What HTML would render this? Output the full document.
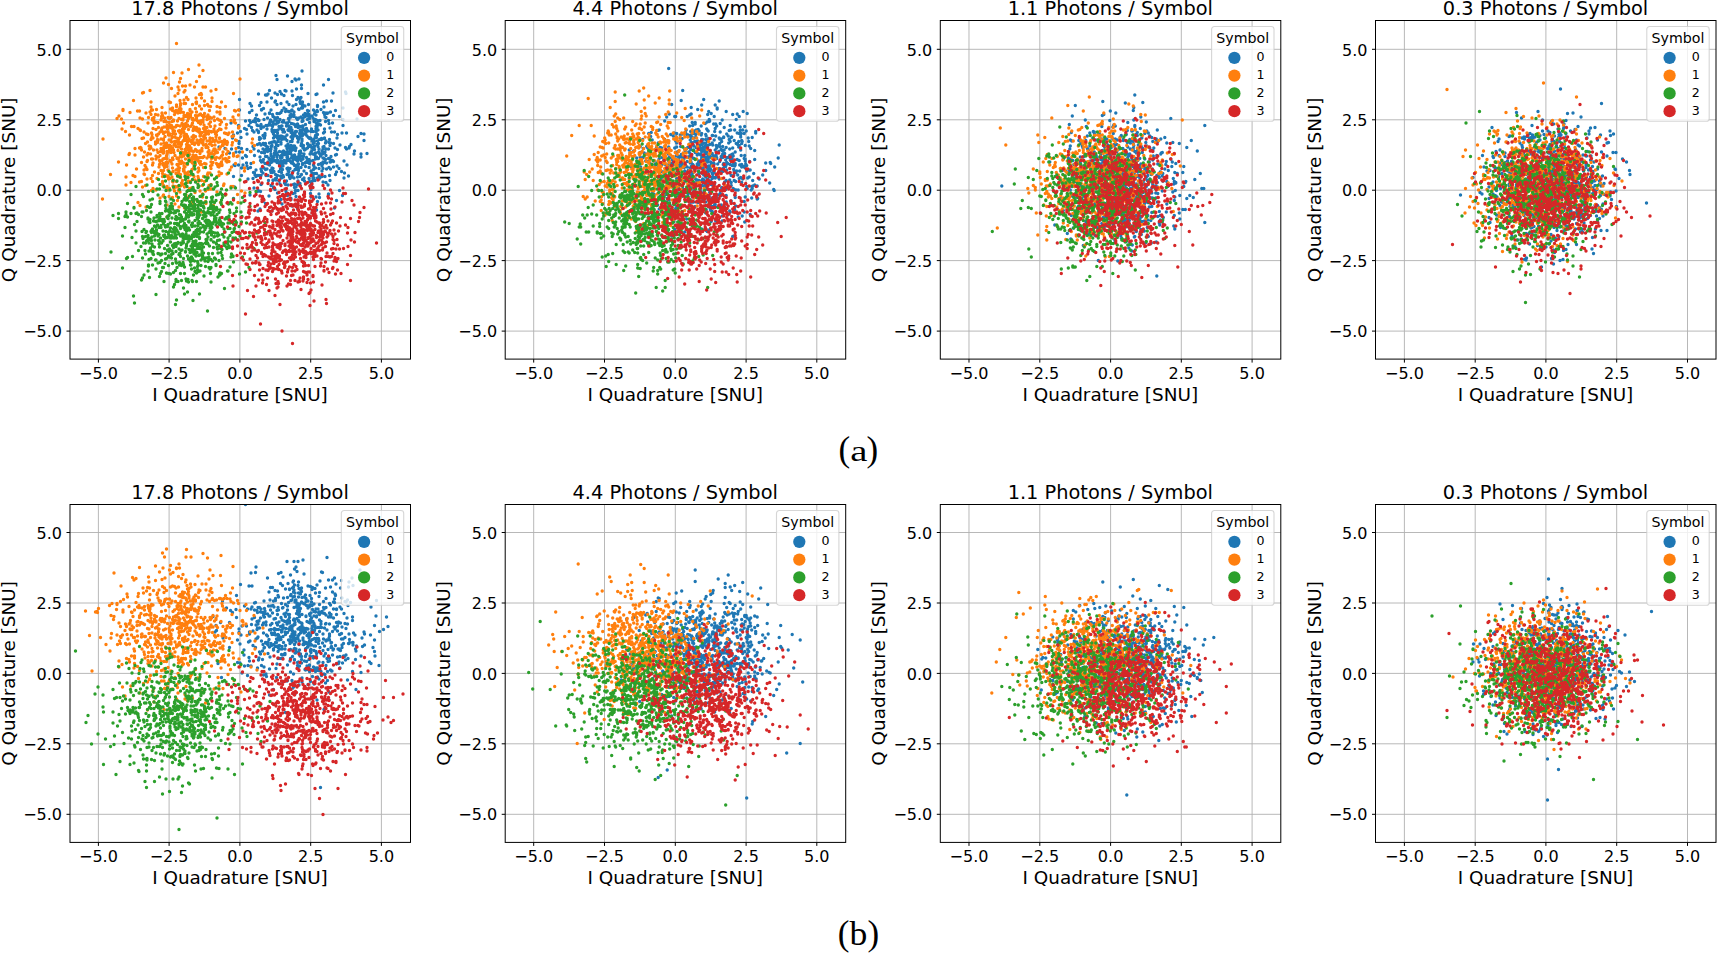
<!DOCTYPE html>
<html><head><meta charset="utf-8"><title>Constellations</title>
<style>html,body{margin:0;padding:0;background:#fff}svg{display:block}text{font-family:'DejaVu Sans','Liberation Sans',sans-serif;fill:#000}.d{fill:none;stroke-width:2.8;stroke-linecap:round;stroke-linejoin:round}.g{stroke:#b0b0b0;stroke-width:.9;fill:none}.t{stroke:#000;stroke-width:1;fill:none}.tl{font-size:16px}.ti{font-size:19.35px}.al{font-size:18.4px}.lt{font-size:14.2px}.le{font-size:12.6px}text.s{font-family:'Liberation Serif','DejaVu Serif',serif}</style></head>
<body>
<svg width="1717" height="953" viewBox="0 0 1717 953">
<rect width="1717" height="953" fill="#fff"/>
<defs><clipPath id="c"><rect x="0" y="0" width="340.5" height="338.6"/></clipPath></defs>
<g transform="translate(70.0 20.5)">
<path class="g" d="M28.4 0V338.6M0 310.6H340.5M99.1 0V338.6M0 240.1H340.5M169.9 0V338.6M0 169.7H340.5M240.7 0V338.6M0 99.3H340.5M311.4 0V338.6M0 28.8H340.5"/>
<g clip-path="url(#c)">
<path class="d" stroke="#1f77b4" transform="scale(.5)" style="stroke-width:6.8" d="M298 253zm12 3zm12-51zm1 52zm-4 8zm16-40zm-8 4zm-2 6zm7 28zm-4 26zm2 1zm-3 22zm2 21zm-2 23zm12-198zm0 21zm-2 31zm4 12zm1 12zm-4 8zm0 4zm-1 8zm6 2zm-4 7zm6 12zm-8 14zm9 0zm-3 6zm0 15zm16-126zm0 16zm-8 1zm7 9zm-9 6zm4 2zm0 0zm1 9zm0 31zm-3 12zm2 2zm0 13zm1 6zm2 5zm0 21zm4-151zm3 5zm1 9zm7 16zm-1 2zm-4 4zm5 1zm-10 1zm2 10zm2 6zm3 3zm-2 29zm2 5zm-7 5zm8 8zm-7 16zm-1 8zm6 10zm2 1zm1 4zm-4 7zm2 19zm-8 14zm17-202zm5 17zm-3 6zm4 8zm0 1zm-10 10zm3 9zm2 2zm-1 0zm5 8zm-8 1zm1 1zm5 1zm2 5zm-8 3zm3 3zm0 2zm2 10zm2 2zm-2 2zm0 8zm-4 2zm7 1zm-5 12zm6 3zm-3 9zm1 7zm2 3zm-1 14zm-10 2zm11 2zm0 1zm-1 8zm-7 0zm3 0zm-6 2zm11 15zm-1 1zm-6 11zm-1 3zm6 0zm-1 35zm-4 4zm15-232zm3 0zm0 14zm-7 13zm3 11zm5 8zm-7 3zm7 12zm-3 0zm-8 3zm3 0zm7 4zm-4 9zm0 1zm-4 3zm4 0zm-1 5zm-1 0zm3 11zm-4 0zm-1 0zm2 2zm4 3zm3 2zm-9 4zm9 0zm-3 1zm-2 1zm-1 1zm6 2zm-7 2zm1 1zm5 7zm-3 0zm-4 6zm-1 4zm4 4zm5 1zm-7 8zm6 2zm-3 1zm-5 7zm6 5zm-6 51zm5 5zm8-226zm-3 7zm7 8zm-1 24zm-3 6zm0 1zm6 2zm1 4zm-5 7zm0 1zm5 3zm-6 0zm-1 3zm5 3zm-4 0zm4 1zm1 2zm-1 6zm0 3zm1 2zm2 4zm0 8zm-1 8zm-3 1zm-4 1zm5 5zm-1 2zm-1 0zm0 5zm-4 1zm3 3zm1 6zm0 4zm3 2zm2 1zm-9 2zm2 2zm4 1zm-8 4zm8 0zm-2 1zm-3 2zm0 3zm5 6zm2 1zm-2 4zm-3 0zm4 3zm0 1zm-3 0zm-6 6zm10 9zm0 1zm-9 0zm5 10zm5 3zm0 2zm-9 16zm6 30zm8-271zm2 8zm-4 27zm5 3zm-4 13zm-1 2zm4 5zm0 18zm5 0zm-10 8zm6 0zm-3 4zm-2 1zm4 2zm3 2zm1 0zm-3 2zm-3 2zm-3 0zm9 5zm-2 7zm-7 1zm3 0zm-3 2zm5 1zm1 2zm-6 5zm3 1zm5 0zm-2 0zm-4 1zm4 3zm4 2zm-3 4zm0 1zm-7 0zm3 3zm1 4zm3 1zm-6 4zm2 2zm-1 4zm-1 0zm9 2zm-7 0zm-1 1zm-2 2zm5 1zm-4 2zm5 1zm-6 0zm5 4zm0 6zm2 1zm-7 0zm1 1zm4 3zm4 1zm1 3zm-11 14zm10 0zm-7 6zm4 2zm-2 5zm-2 1zm1 0zm0 3zm6 2zm-8 17zm5 7zm15-205zm-10 2zm3 5zm5 3zm-6 16zm6 9zm-4 5zm7 2zm-9 2zm-2 14zm7 2zm0 3zm-2 0zm-1 8zm-1 0zm-3 4zm4 3zm3 0zm0 3zm1 1zm-2 1zm3 0zm-7 8zm2 1zm1 0zm5 1zm-10 0zm4 1zm4 1zm-8 0zm5 0zm-5 1zm1 0zm10 1zm-3 0zm-5 1zm-1 6zm0 3zm5 14zm-3 2zm1 1zm5 1zm-1 3zm1 0zm-4 1zm-2 0zm-3 2zm3 3zm-3 1zm7 5zm-5 1zm-3 2zm7 2zm-4 2zm-3 0zm6 4zm-4 1zm-1 5zm4 1zm-1 0zm-1 6zm3 6zm-5 1zm4 1zm-3 0zm5 1zm-4 2zm7 10zm-1 0zm-9 2zm11 1zm-6 21zm-3 9zm2 9zm11-256zm-3 30zm2 22zm4 5zm-6 10zm11 2zm-5 2zm-1 0zm5 5zm-2 3zm3 1zm-1 2zm-5 3zm1 1zm0 5zm0 0zm-3 3zm-3 0zm11 1zm-10 5zm5 0zm0 1zm4 2zm-4 3zm2 2zm-4 0zm1 1zm0 0zm5 1zm0 1zm0 2zm-8 5zm9 3zm-1 1zm-8 7zm7 2zm-5 5zm6 3zm-10 1zm4 0zm5 2zm-4 2zm6 0zm-9 1zm6 4zm-6 2zm7 1zm-8 0zm3 1zm2 1zm2 0zm-1 0zm-2 1zm5 1zm-10 1zm3 4zm-1 2zm9 1zm-6 2zm1 3zm-5 0zm8 2zm-9 3zm11 0zm-7 10zm0 1zm-2 0zm6 0zm0 0zm-4 1zm0 3zm2 2zm-2 4zm-2 2zm4 1zm2 0zm1 1zm-2 3zm1 3zm-7 5zm-1 1zm4 7zm-4 13zm3 8zm7 6zm0 2zm8-241zm2 2zm-8 3zm9 15zm-9 4zm1 9zm8 8zm-1 10zm-6 3zm-2 8zm4 4zm0 6zm-2 0zm2 3zm5 3zm2 3zm-8 9zm8 0zm-6 1zm5 1zm0 1zm-3 2zm-7 7zm9 3zm-2 0zm-7 1zm4 2zm2 1zm0 2zm-5 1zm3 2zm6 1zm-8 1zm-2 1zm11 1zm-10 2zm-1 5zm3 9zm2 0zm-4 2zm7 2zm-2 1zm-5 3zm6 1zm-2 9zm0 2zm-3 0zm-2 1zm11 1zm-7 0zm3 1zm2 3zm-6 1zm6 1zm2 2zm-10 2zm2 4zm7 2zm-5 1zm5 0zm-3 0zm3 0zm-1 3zm2 3zm-5 2zm2 0zm-6 4zm-2 8zm0 3zm11 0zm-7 2zm1 12zm-2 1zm8 0zm-3 5zm-3 1zm2 6zm-1 5zm-4 1zm6 6zm-8 19zm11 5zm9-275zm-6 16zm5 12zm0 7zm-7 18zm6 0zm-2 4zm0 5zm5 0zm-4 3zm5 3zm-1 2zm0 4zm-2 0zm-6 2zm1 1zm9 11zm-5 4zm-4 2zm7 1zm1 5zm-2 1zm2 9zm-9 0zm8 0zm-5 1zm5 0zm-9 2zm10 2zm1 2zm-6 1zm-1 1zm4 2zm-2 3zm-3 1zm2 0zm5 2zm-6 0zm5 2zm0 0zm-5 3zm4 4zm-7 1zm7 1zm0 2zm-8 2zm7 3zm0 2zm3 2zm1 0zm-5 0zm4 4zm0 1zm1 0zm-6 6zm-2 1zm3 3zm-3 1zm-1 1zm9 4zm-6 0zm-4 2zm9 1zm-8 3zm6 0zm2 0zm-5 1zm1 2zm3 6zm-8 1zm8 1zm-9 0zm0 3zm6 3zm-5 3zm0 3zm-1 6zm7 2zm-3 4zm5 6zm-9 3zm4 5zm1 5zm-5 9zm0 20zm20-214zm1 22zm-7 3zm5 9zm2 1zm-2 5zm-5 0zm8 2zm-4 3zm3 0zm-8 0zm0 2zm10 3zm-4 2zm4 6zm-8 4zm2 8zm1 4zm2 1zm-2 0zm-3 0zm1 2zm-4 4zm4 1zm2 3zm3 3zm2 2zm-4 10zm0 1zm1 0zm1 5zm-2 3zm-5 2zm2 0zm-3 2zm-1 8zm5 7zm5 4zm-2 0zm-2 2zm-3 4zm5 0zm-6 1zm9 1zm-8 6zm7 2zm-10 7zm5 5zm-5 9zm10 1zm-9 5zm10 1zm-7 4zm15-147zm3 4zm-1 4zm-5 4zm-4 1zm6 3zm5 3zm-3 1zm0 3zm1 0zm-6 15zm1 4zm-2 1zm4 0zm5 8zm-1 4zm-9 1zm1 1zm6 2zm-1 1zm-3 2zm5 1zm-1 2zm0 1zm-2 2zm-6 3zm1 2zm8 0zm-5 2zm3 0zm2 4zm-5 2zm-2 3zm9 2zm-5 2zm-6 0zm10 2zm1 5zm0 3zm-5 3zm-5 1zm6 8zm1 3zm3 3zm-4 3zm-5 3zm2 4zm5 1zm-3 4zm2 5zm-2 0zm4 5zm-5 1zm-2 4zm0 1zm-3 5zm3 0zm-1 7zm-1 8zm1 7zm12-206zm-2 1zm3 22zm0 2zm7 6zm-8 2zm1 2zm-3 7zm3 11zm5 0zm-5 6zm-2 0zm5 1zm-2 1zm5 1zm-6 1zm-3 2zm2 2zm-2 2zm4 3zm-4 0zm0 4zm3 5zm-2 6zm10 2zm0 2zm-4 0zm-4 3zm2 5zm-3 2zm1 1zm1 3zm2 5zm-1 6zm-5 2zm7 1zm2 1zm0 4zm-8 2zm4 3zm-2 0zm7 10zm1 2zm-6 0zm1 8zm-5 10zm5 5zm2 3zm-5 1zm3 2zm0 30zm-6 6zm7 1zm-4 8zm-2 17zm14-250zm6 32zm-6 2zm1 10zm-1 11zm5 1zm2 1zm-5 2zm1 5zm2 1zm-1 8zm-2 15zm0 6zm-2 2zm2 10zm-1 1zm-4 1zm8 4zm0 1zm-1 3zm-3 7zm-2 1zm0 4zm6 0zm-6 0zm-2 4zm6 2zm-1 2zm-4 2zm7 3zm-6 5zm2 1zm3 2zm-5 5zm3 1zm4 1zm-8 2zm-1 4zm2 5zm7 1zm-9 4zm6 11zm-6 0zm2 11zm6 1zm0 0zm5-206zm9 27zm-3 16zm-2 22zm-5 2zm11 5zm-10 10zm8 5zm-7 1zm2 9zm3 8zm-4 15zm-1 6zm3 1zm6 1zm-7 4zm-3 7zm5 15zm-5 4zm3 1zm5 3zm2 2zm-6 1zm-1 0zm7 10zm-9 1zm3 3zm-2 13zm1 10zm-4 9zm1 18zm0 1zm14-168zm8 12zm-10 31zm6 5zm-1 7zm-4 20zm5 3zm-2 10zm-2 1zm3 22zm4 5zm-5 7zm-2 5zm8 32zm-6 20zm-4 15zm22-232zm-5 32zm0 23zm0 12zm-2 15zm-4 24zm11 5zm-3 27zm-5 21zm6 3zm-1 10zm-3 35zm7-204zm1 79zm9 23zm-3 4zm-1 3zm-5 2zm1 32zm3 22zm17-114zm-5 64zm-1 6zm14-41zm-6 6zm6 35zm0 6zm6-46zm0 13zm6 26z"/>
<path class="d" stroke="#ff7f0e" transform="scale(.5)" style="stroke-width:6.8" d="M66 237zm-1 120zm16-49zm13-112zm12-18zm0 2zm-8 11zm5 6zm4 8zm-3 12zm-7 66zm14-61zm8 7zm0 37zm-1 2zm-5 21zm-1 24zm0 16zm15-169zm-7 24zm3 28zm5 0zm2 44zm0 13zm-4 41zm4 2zm-8 12zm13-143zm4 0zm1 14zm-4 21zm4 3zm1 1zm0 34zm1 1zm-3 0zm4 4zm0 25zm-10 13zm10 25zm-4 1zm-3 41zm4 6zm7-226zm-2 1zm7 40zm-7 12zm3 26zm5 4zm-6 8zm-3 1zm11 7zm-4 3zm-2 17zm5 6zm-7 4zm8 7zm-1 2zm-4 8zm2 4zm2 4zm-6 1zm0 8zm1 1zm5 9zm-3 13zm-6 3zm7 40zm8-233zm2 23zm0 10zm3 6zm-2 0zm-3 4zm2 5zm-5 6zm8 2zm2 1zm0 2zm-2 0zm-9 6zm10 11zm-3 9zm-7 3zm8 0zm0 5zm2 2zm-3 1zm-1 2zm-4 13zm3 1zm1 3zm-3 2zm8 2zm-11 7zm5 1zm2 10zm2 0zm1 8zm-1 4zm0 21zm-3 6zm3 6zm1 14zm-3 4zm10-162zm-2 10zm5 1zm-8 5zm3 9zm-1 1zm6 0zm-8 1zm9 9zm-5 4zm5 9zm0 0zm-4 2zm0 0zm1 2zm1 7zm1 2zm-5 3zm4 1zm-4 3zm3 12zm2 5zm-4 7zm5 2zm-5 4zm7 3zm0 8zm-1 5zm-9 10zm8 3zm-3 10zm-2 23zm15-214zm-3 49zm0 11zm7 0zm-7 1zm1 4zm-2 2zm6 3zm-6 1zm-1 3zm9 2zm-3 1zm0 11zm-4 2zm-1 3zm8 5zm-5 0zm-6 0zm7 3zm3 6zm-8 5zm5 0zm0 2zm1 6zm-6 2zm6 4zm-1 4zm-5 1zm5 1zm-1 3zm1 1zm-6 1zm5 2zm0 1zm1 0zm-7 5zm9 6zm-3 1zm-2 3zm-4 6zm6 0zm3 1zm-3 2zm3 3zm2 0zm-2 2zm-2 6zm-5 0zm3 6zm5 3zm-5 3zm0 10zm0 3zm2 5zm-1 1zm1 18zm-1 2zm-6 4zm12-240zm5 13zm6 8zm-4 27zm-1 0zm3 1zm0 13zm-5 17zm6 0zm-3 2zm-6 7zm5 1zm2 5zm-6 1zm6 0zm3 0zm-8 2zm-3 1zm9 0zm-1 0zm-3 1zm6 1zm-8 2zm1 6zm3 4zm1 0zm-3 1zm2 1zm-2 0zm5 10zm-4 0zm5 4zm-10 2zm3 5zm-1 0zm5 0zm-3 1zm-5 0zm10 1zm0 1zm-7 0zm-3 1zm8 1zm-1 1zm0 3zm-5 3zm4 1zm4 1zm-8 1zm0 3zm-1 3zm-1 5zm2 0zm6 4zm2 3zm-8 0zm-2 1zm3 1zm-1 2zm0 5zm2 7zm5 6zm-5 6zm-3 0zm4 3zm3 2zm-3 1zm-3 15zm-1 4zm6 0zm-3 3zm2 13zm-4 17zm0 24zm19-347zm-6 58zm3 47zm3 18zm0 3zm-8 3zm-1 3zm8 2zm-7 0zm4 2zm2 1zm2 0zm-4 5zm-2 11zm0 2zm8 0zm-11 1zm9 8zm2 0zm-10 3zm6 0zm-5 5zm3 3zm-3 0zm0 5zm5 1zm-7 5zm5 1zm-5 1zm0 0zm9 1zm-4 7zm3 0zm-2 1zm-1 4zm-1 2zm4 2zm0 1zm-7 3zm-1 3zm3 1zm1 5zm2 6zm4 5zm-9 0zm9 1zm-8 2zm-2 9zm10 1zm-9 7zm7 4zm-6 3zm6 4zm3 5zm-11 2zm3 6zm-2 3zm8 0zm-7 1zm0 8zm4 1zm5 0zm0 1zm-3 0zm-4 3zm1 5zm4 10zm-8 3zm10 6zm-5 7zm14-262zm-3 11zm-2 7zm6 8zm-9 2zm2 6zm-2 7zm4 14zm1 6zm0 3zm-1 5zm2 3zm-4 1zm-1 2zm5 2zm5 2zm-6 0zm-5 1zm2 11zm7 1zm-2 1zm3 1zm-2 7zm2 4zm-6 1zm7 3zm-2 3zm-6 3zm6 1zm-8 0zm4 1zm6 0zm-7 3zm2 1zm-1 6zm-3 4zm-1 1zm10 3zm-1 1zm-9 1zm6 2zm-7 2zm2 0zm5 1zm-1 3zm-6 3zm3 0zm4 4zm-7 3zm9 4zm-3 0zm0 5zm-1 1zm2 0zm2 0zm2 1zm-4 2zm-6 2zm0 1zm1 5zm5 0zm4 4zm-5 1zm-4 1zm-2 3zm3 5zm-3 1zm11 1zm-9 3zm9 1zm-10 3zm4 4zm-3 2zm-1 2zm4 2zm4 6zm-2 5zm3 2zm-2 2zm-3 2zm-4 9zm3 3zm-2 30zm19-275zm-6 33zm-1 9zm-2 3zm5 11zm3 4zm-8 1zm3 7zm-3 0zm7 20zm4 1zm-3 0zm-2 2zm-6 1zm3 1zm-1 1zm3 0zm3 1zm-8 0zm9 3zm-2 5zm-3 5zm-2 1zm5 2zm-1 2zm0 0zm1 0zm-3 1zm-3 4zm8 2zm-9 6zm5 4zm-5 2zm7 2zm-5 0zm0 1zm-1 2zm1 1zm8 1zm-6 1zm5 2zm-5 0zm7 0zm-4 3zm-2 5zm3 1zm3 2zm-5 1zm1 0zm2 2zm-4 0zm-3 4zm7 1zm-6 0zm0 3zm7 1zm-7 2zm3 1zm-6 1zm11 1zm-5 1zm1 1zm0 0zm2 3zm-6 4zm7 0zm0 3zm-5 6zm2 2zm-7 3zm2 2zm-2 6zm0 1zm9 3zm-5 2zm-2 1zm5 2zm0 1zm-1 1zm0 4zm-2 1zm5 6zm-2 3zm-2 8zm-4 1zm10 3zm-7 13zm-1 1zm6 4zm-8 21zm11-246zm9 4zm-4 35zm6 8zm-11 2zm0 2zm4 3zm-3 4zm10 3zm-10 1zm0 2zm5 3zm-1 2zm3 1zm-3 6zm-1 3zm0 0zm-3 4zm7 1zm-1 3zm4 3zm-5 1zm1 10zm4 2zm-4 1zm-3 0zm3 3zm-1 3zm-2 1zm-2 2zm7 3zm2 0zm-7 1zm5 2zm-7 7zm9 3zm-8 2zm0 0zm1 1zm3 1zm-1 7zm2 2zm-4 3zm3 1zm-6 2zm7 0zm3 1zm-8 2zm-2 2zm7 2zm-3 1zm3 2zm3 1zm-3 3zm-1 5zm-3 2zm-1 3zm-2 8zm7 3zm2 7zm-9 3zm2 13zm7 9zm-6 18zm3 6zm3 8zm-7 12zm15-299zm1 23zm-6 10zm9 24zm-3 2zm4 0zm0 7zm-11 0zm1 8zm-1 1zm1 2zm6 5zm4 6zm-10 6zm8 4zm0 0zm-3 2zm-4 2zm-1 4zm1 5zm7 1zm2 0zm-7 1zm1 2zm4 3zm-8 7zm5 3zm-5 0zm6 1zm-4 3zm2 1zm1 0zm0 1zm4 1zm-2 2zm1 4zm-1 1zm2 7zm-8 1zm7 0zm-1 1zm-4 3zm3 1zm-1 2zm-1 2zm-4 12zm8 1zm-2 0zm-5 1zm6 4zm-8 4zm0 2zm3 2zm5 0zm-4 3zm0 4zm5 1zm-2 3zm4 3zm-2 0zm-4 7zm1 5zm-2 3zm0 9zm1 4zm0 3zm6 1zm-6 1zm-1 0zm1 12zm3 8zm-6 19zm5 6zm4 17zm3-283zm0 33zm5 0zm-2 28zm6 7zm-6 2zm0 16zm-5 4zm4 1zm6 1zm-7 1zm1 0zm7 4zm-1 1zm-8 1zm0 4zm2 6zm3 5zm3 0zm-7 2zm3 1zm1 3zm-2 2zm-5 2zm7 0zm-7 1zm7 3zm-2 2zm-2 2zm4 3zm-4 3zm7 3zm-8 2zm-1 2zm1 2zm6 1zm-5 1zm6 1zm-1 4zm-8 2zm0 5zm4 11zm-4 2zm2 0zm8 1zm-5 11zm3 1zm-5 7zm8 14zm-8 4zm7 2zm-5 8zm-4 8zm6 11zm-6 6zm0 6zm6 9zm1 4zm10-225zm2 14zm0 7zm-7 9zm4 1zm-2 8zm-3 9zm3 4zm4 2zm-5 1zm3 7zm-3 4zm3 5zm-4 9zm5 1zm5 0zm-11 1zm7 0zm-6 4zm3 8zm5 1zm1 3zm-7 1zm4 3zm-3 3zm-1 1zm5 3zm-8 4zm2 6zm8 1zm-10 2zm7 2zm0 1zm-5 0zm-1 4zm2 2zm8 2zm-4 2zm-1 7zm4 1zm-2 5zm-3 2zm1 5zm-2 9zm-4 0zm0 8zm6 15zm-4 2zm0 3zm6 4zm-3 0zm-5 1zm11 32zm5-232zm2 34zm0 11zm-6 10zm7 4zm3 2zm-9 1zm1 11zm-2 6zm11 0zm-11 3zm8 0zm-3 3zm-2 4zm2 2zm-1 4zm7 2zm0 1zm-7 3zm-3 3zm7 1zm2 0zm-8 6zm0 8zm8 0zm-10 0zm11 0zm-8 3zm1 0zm3 4zm-4 1zm-3 3zm5 6zm6 1zm-8 3zm2 8zm1 1zm1 2zm2 0zm2 1zm-3 2zm2 1zm0 10zm0 7zm-4 2zm0 31zm9-180zm8 9zm-11 2zm0 9zm0 4zm9 9zm-8 4zm2 3zm-3 5zm2 10zm7 7zm0 14zm-6 3zm2 0zm-1 1zm7 2zm-1 0zm0 1zm-5 3zm1 1zm-5 3zm5 10zm-1 6zm-2 2zm8 5zm-5 1zm-3 6zm-3 4zm1 1zm3 0zm0 1zm0 1zm-1 16zm5 21zm-1 3zm4 19zm-10 15zm21-164zm-9 8zm-1 7zm6 10zm-6 1zm4 2zm-2 14zm1 2zm-2 1zm1 3zm-2 9zm4 5zm-3 5zm5 7zm-4 5zm-2 2zm6 1zm-3 0zm-1 1zm9 10zm-3 6zm-6 8zm8 25zm-10 16zm15-202zm2 34zm2 1zm-5 12zm3 6zm-1 4zm3 2zm-6 18zm2 8zm-3 1zm7 7zm2 1zm-8 4zm-1 5zm8 7zm-5 10zm0 1zm0 4zm7 1zm-3 14zm-5 46zm9 16zm5-231zm-3 62zm0 10zm1 23zm-1 3zm8 48zm-9 8zm7 70zm-7 23zm13-69zm0 6zm1 44zm15-108zm-1 8zm5 5zm-7 12zm5 22z"/>
<path class="d" stroke="#2ca02c" transform="scale(.5)" style="stroke-width:6.8" d="M82 463zm4-73zm11-4zm0 10zm8 35zm0 64zm10-129zm-3 17zm0 5zm-2 4zm5 1zm-5 21zm5 60zm-2 2zm9-128zm6 26zm0 1zm-6 11zm7 22zm-5 26zm1 38zm2 79zm2 14zm3-233zm2 53zm-2 1zm5 2zm6 4zm-9 10zm-2 19zm0 24zm10 7zm-5 8zm6 59zm11-190zm-9 19zm2 4zm8 20zm-2 8zm-9 3zm2 0zm2 35zm5 4zm-9 0zm8 2zm-1 8zm-6 0zm1 4zm9 3zm-2 2zm-2 4zm-4 0zm3 15zm1 7zm-6 8zm3 34zm-3 6zm21-173zm-9 0zm8 15zm-5 2zm3 9zm-2 5zm-2 1zm3 9zm-6 12zm0 2zm4 1zm7 3zm-9 2zm2 1zm5 13zm-2 3zm2 2zm-3 0zm1 2zm-7 6zm8 3zm-7 2zm5 0zm-5 4zm6 1zm-5 5zm6 2zm1 4zm-4 4zm0 4zm-3 2zm8 1zm-2 1zm2 4zm1 1zm-5 8zm-4 2zm-1 11zm8 0zm-8 2zm-1 10zm3 13zm18-196zm2 19zm-5 0zm2 12zm3 37zm-5 4zm0 3zm-6 2zm11 2zm-1 3zm-3 1zm-2 1zm-2 0zm4 7zm-6 2zm2 2zm7 1zm-5 5zm-4 3zm2 2zm2 0zm-4 1zm5 1zm-1 0zm1 1zm2 0zm2 1zm-2 0zm-1 0zm-6 3zm7 0zm-6 8zm7 1zm2 2zm-1 5zm-9 6zm10 0zm-3 13zm3 1zm-7 12zm-1 0zm5 6zm-4 12zm7 15zm-7 36zm17-236zm2 9zm-11 7zm8 5zm2 21zm1 7zm-11 1zm0 4zm11 4zm0 11zm-7 5zm-4 6zm4 6zm4 0zm-8 2zm3 0zm6 2zm-3 1zm1 3zm-5 4zm8 0zm1 3zm-9 1zm4 7zm3 8zm-2 1zm3 2zm-2 0zm3 1zm0 2zm-10 0zm5 5zm0 1zm-3 4zm6 11zm2 10zm-7 1zm-3 2zm10 8zm-8 3zm-3 4zm10 2zm-5 8zm2 0zm-4 8zm-2 4zm7 16zm10-220zm4 5zm-2 32zm-8 1zm10 17zm-10 6zm11 3zm-3 6zm0 4zm-8 0zm7 2zm1 1zm-5 1zm2 1zm3 1zm-2 1zm4 1zm-2 1zm-2 5zm-2 1zm-2 2zm2 3zm5 9zm-5 3zm-1 4zm6 3zm-1 5zm-8 2zm7 0zm-2 2zm0 4zm6 2zm-4 1zm-4 3zm6 1zm2 0zm-2 8zm-6 7zm4 7zm1 2zm-5 0zm0 1zm3 2zm5 6zm-6 3zm0 2zm4 1zm2 1zm-10 1zm4 14zm-4 15zm5 1zm3 1zm14-196zm-9 9zm8 1zm-7 12zm6 13zm-6 14zm-2 12zm-1 4zm1 1zm10 3zm-5 1zm1 3zm-3 1zm4 7zm2 2zm-10 1zm8 2zm-1 0zm2 1zm2 8zm-3 0zm-3 0zm6 2zm0 1zm-6 5zm3 2zm-5 1zm3 3zm4 0zm-7 2zm-2 1zm5 3zm0 2zm2 1zm-1 3zm-1 1zm-5 0zm5 1zm-2 1zm5 0zm2 11zm-4 0zm-3 1zm5 1zm-2 1zm-6 1zm7 2zm-5 1zm0 1zm-3 7zm8 1zm-6 4zm0 0zm5 11zm0 0zm1 6zm1 2zm-8 1zm9 8zm-3 6zm-4 4zm5 14zm0 4zm-3 6zm-2 5zm6 26zm-2 9zm10-303zm-1 48zm-2 17zm1 8zm-2 16zm7 8zm-1 6zm3 2zm-9 11zm2 7zm2 1zm2 4zm-2 2zm-4 1zm5 0zm4 2zm-1 2zm1 0zm-5 2zm-4 5zm9 4zm-6 1zm1 4zm-5 7zm9 4zm-7 0zm7 1zm-3 1zm1 0zm4 1zm-6 1zm5 3zm0 6zm1 4zm-11 0zm10 1zm-2 0zm-2 0zm0 3zm-4 9zm6 2zm-2 1zm-2 6zm-1 0zm-1 2zm3 4zm6 4zm-1 8zm-7 0zm5 4zm3 0zm-8 1zm2 0zm2 1zm-2 16zm2 14zm-7 2zm11 13zm9-265zm2 10zm-3 6zm-5 26zm6 2zm-5 4zm1 7zm-1 2zm3 5zm2 8zm-2 2zm-5 6zm2 0zm8 3zm-8 2zm4 3zm-2 0zm-4 0zm-1 2zm5 1zm-2 0zm8 3zm0 0zm-11 7zm11 0zm-8 1zm-1 4zm6 0zm-4 4zm7 1zm-2 3zm-8 1zm4 3zm0 3zm6 0zm-3 1zm1 3zm-5 1zm-1 3zm7 4zm-1 1zm1 1zm-9 3zm3 4zm0 2zm-4 2zm6 1zm3 0zm-6 2zm-1 1zm9 1zm-6 0zm1 1zm-1 1zm-1 6zm-3 4zm9 0zm-4 0zm-3 3zm7 2zm0 0zm-5 0zm-3 0zm8 3zm0 2zm-2 2zm-3 5zm0 3zm-1 4zm6 3zm-7 4zm0 1zm4 8zm2 6zm-8 16zm0 13zm3 11zm4 1zm-3 3zm4 2zm-2 20zm-6 4zm21-263zm-1 7zm1 6zm-8 5zm1 4zm3 2zm-1 10zm6 5zm-10 1zm5 10zm-2 4zm3 0zm0 2zm-6 0zm9 1zm-8 7zm5 5zm-3 3zm4 1zm0 1zm-3 1zm2 4zm-6 4zm9 1zm-10 2zm5 1zm4 1zm0 3zm-3 1zm4 1zm-9 0zm7 4zm-7 3zm2 1zm5 3zm-6 1zm3 0zm5 11zm-5 5zm-2 4zm7 2zm-4 0zm-2 1zm4 12zm3 2zm-4 3zm-2 0zm3 3zm-6 2zm1 2zm8 5zm-5 1zm1 3zm-2 2zm6 2zm-3 1zm-6 1zm3 4zm-4 4zm9 0zm-3 1zm2 2zm-6 1zm-3 1zm8 3zm-5 6zm-2 2zm0 1zm4 0zm-5 1zm0 2zm5 1zm-5 0zm9 1zm-8 1zm0 7zm1 0zm7 6zm-6 2zm7 5zm-3 7zm-3 11zm1 2zm1 38zm12-240zm-2 8zm2 3zm-2 3zm7 17zm-3 1zm-6 6zm8 4zm-5 0zm-2 0zm5 4zm2 0zm-6 4zm6 0zm-6 5zm2 3zm3 1zm-2 1zm-5 2zm3 2zm-2 2zm5 3zm-5 0zm2 2zm0 3zm-3 0zm1 3zm3 5zm-2 3zm5 1zm-5 4zm5 5zm-6 2zm2 1zm2 1zm-3 1zm-4 0zm2 1zm7 2zm-9 1zm2 1zm4 2zm-5 0zm3 0zm-3 3zm1 2zm5 2zm0 2zm-7 5zm10 5zm-10 0zm7 0zm-1 1zm3 0zm-4 1zm6 1zm-8 1zm-2 1zm4 2zm-2 0zm4 1zm-4 2zm4 0zm4 0zm0 1zm-9 7zm-1 1zm9 4zm-3 0zm-1 1zm-6 1zm10 8zm-7 3zm1 4zm6 4zm-6 0zm-1 2zm0 6zm5 3zm-3 0zm0 1zm-4 3zm0 17zm6 25zm12-253zm-1 19zm3 7zm-6 8zm3 10zm-4 10zm7 6zm-1 9zm-5 2zm0 7zm0 1zm1 2zm-1 7zm4 3zm-4 4zm3 1zm2 1zm-1 1zm-3 1zm-3 3zm8 3zm-3 2zm2 2zm1 2zm1 5zm-8 0zm3 2zm-2 1zm5 1zm-1 0zm-1 4zm-3 5zm0 0zm7 4zm0 11zm-2 0zm1 2zm-2 5zm4 0zm-3 1zm-7 1zm2 6zm-3 7zm0 1zm0 3zm3 1zm-3 2zm1 2zm1 4zm-1 1zm7 1zm3 0zm-8 1zm3 5zm1 11zm-3 19zm7 70zm9-308zm-1 36zm-7 6zm6 14zm0 1zm-6 5zm11 2zm-2 16zm-2 1zm1 3zm1 5zm-3 1zm-1 0zm1 5zm2 3zm1 1zm2 0zm-6 0zm1 4zm-5 0zm10 1zm-1 5zm-10 0zm3 2zm2 1zm-4 0zm9 3zm-4 1zm-5 11zm2 2zm0 2zm5 1zm-8 2zm9 0zm-3 2zm0 1zm-4 0zm6 4zm-4 1zm1 0zm0 0zm1 5zm-1 1zm-1 0zm0 2zm-2 1zm8 0zm-3 2zm0 3zm-7 4zm6 5zm0 1zm5 4zm-11 4zm3 4zm8 3zm-10 12zm8 0zm-7 7zm4 5zm-4 1zm7 2zm-9 1zm6 12zm-4 0zm2 3zm1 9zm1 17zm11-209zm-4 3zm5 7zm1 6zm-5 3zm7 15zm-4 1zm-1 11zm-3 4zm4 10zm0 1zm1 2zm-1 2zm-5 4zm10 1zm-4 4zm-5 4zm3 3zm-3 2zm10 2zm-7 1zm-3 0zm3 1zm-4 2zm6 1zm5 4zm-7 1zm3 16zm-5 0zm5 1zm3 3zm-3 2zm-6 1zm-1 1zm11 6zm-4 1zm-3 5zm1 2zm5 3zm-4 4zm1 2zm0 1zm1 8zm-7 10zm2 2zm7 3zm-6 8zm0 2zm7 17zm-3 6zm7-176zm-2 7zm3 4zm6 1zm-5 5zm-2 5zm-1 5zm1 4zm-3 11zm0 16zm10 2zm-9 5zm-1 1zm5 3zm2 1zm-4 3zm1 2zm4 5zm2 6zm-5 5zm3 5zm0 12zm0 3zm1 2zm-8 6zm3 2zm-2 6zm2 6zm1 6zm-5 29zm3 1zm-3 3zm9 27zm8-231zm5 30zm-9 4zm8 25zm-4 3zm2 12zm1 5zm-2 7zm-5 3zm5 2zm-2 1zm6 7zm-2 1zm-4 0zm0 11zm4 0zm0 14zm-4 5zm0 6zm6 2zm-9 1zm2 2zm3 5zm-5 2zm6 1zm-5 2zm9 11zm-1 6zm-2 20zm-4 8zm-1 0zm16-166zm-4 22zm-3 10zm0 0zm9 8zm0 7zm-5 4zm3 15zm-6 1zm8 2zm-2 3zm1 0zm-5 0zm3 2zm-1 7zm-1 1zm0 5zm-4 2zm2 11zm5 0zm-2 2zm-3 34zm0 1zm1 11zm13-164zm5 35zm-3 11zm0 18zm2 9zm-1 11zm-5 9zm2 19zm-4 8zm9 34zm-6 34zm9-145zm5 43zm0 0zm6 26zm-3 25zm2 38zm-7 9zm9-159zm0 28zm8 84zm4-114zm2 83zm-1 21zm17-42zm1 20z"/>
<path class="d" stroke="#d62728" transform="scale(.5)" style="stroke-width:6.8" d="M295 413zm16-66zm-5 25zm-2 22zm5 29zm2 20zm-8 9zm-2 40zm14-128zm-1 1zm5 34zm-4 14zm12-54zm4 32zm-3 7zm-4 5zm7 6zm2 15zm-7 15zm9 0zm0 12zm-10 2zm0 3zm9 14zm-9 40zm1 21zm17-137zm-1 0zm0 13zm3 14zm-8 3zm-1 2zm4 0zm6 10zm-3 0zm2 19zm-4 10zm2 10zm4 4zm5-157zm-3 1zm10 13zm-10 15zm1 9zm8 13zm0 7zm-1 4zm2 2zm-1 7zm-5 1zm-1 1zm7 29zm-8 0zm-2 1zm3 9zm4 1zm-2 13zm0 7zm-5 11zm3 21zm3 1zm0 52zm-4 47zm17-263zm1 27zm-9 15zm10 6zm-8 7zm7 1zm1 18zm-7 6zm-3 3zm8 2zm2 0zm-1 10zm-4 6zm3 2zm-2 3zm2 3zm1 0zm2 6zm-6 5zm-2 5zm-3 4zm5 1zm5 5zm-6 2zm-4 16zm11 8zm-6 0zm-5 13zm9 12zm-2 42zm14-237zm-6 5zm1 2zm1 0zm-2 13zm-3 13zm8 3zm-5 18zm6 11zm0 0zm-9 15zm4 1zm1 0zm1 4zm3 4zm-4 2zm4 8zm-3 6zm-1 1zm-5 1zm7 0zm-2 2zm5 8zm-2 1zm-4 0zm6 2zm1 0zm-1 2zm0 7zm-10 2zm1 2zm4 12zm-2 2zm8 2zm0 2zm-11 4zm3 5zm-3 7zm6 3zm2 3zm-1 0zm0 11zm-2 20zm-5 12zm9 76zm14-322zm-10 7zm7 16zm-8 17zm1 27zm0 1zm2 4zm-3 1zm4 1zm-4 3zm11 4zm-2 2zm-3 4zm0 22zm-1 2zm5 2zm-7 3zm7 2zm-2 7zm-4 0zm-3 3zm4 5zm0 7zm5 2zm-5 2zm2 7zm-7 3zm10 7zm-9 2zm6 1zm3 5zm0 0zm-5 1zm-1 13zm3 2zm1 1zm-6 1zm0 24zm6 3zm-8 10zm11 6zm-9 4zm-1 6zm8 3zm9-216zm3 14zm-9 0zm5 12zm0 2zm3 23zm-2 10zm-3 1zm8 2zm0 0zm-11 4zm8 1zm-4 1zm2 6zm2 13zm2 1zm0 7zm0 3zm-7 0zm0 0zm1 1zm5 2zm-5 6zm-3 1zm4 3zm0 4zm2 0zm1 1zm0 4zm1 2zm-7 3zm0 3zm-1 1zm9 2zm-1 6zm-7 2zm7 1zm1 4zm-2 2zm1 2zm-2 4zm1 5zm-7 2zm3 1zm-1 1zm2 1zm6 1zm-1 2zm1 0zm0 3zm-10 2zm5 3zm-6 3zm4 3zm2 2zm4 1zm-8 1zm-2 3zm9 2zm-7 38zm21-249zm0 28zm-5 8zm-5 8zm9 9zm-2 10zm1 6zm-1 4zm0 1zm-7 1zm0 2zm2 5zm3 3zm0 0zm0 1zm3 1zm-1 0zm1 6zm-1 1zm-3 2zm4 12zm0 1zm-4 3zm2 0zm-2 0zm5 1zm0 3zm-4 3zm-4 8zm7 4zm-1 1zm3 0zm-11 2zm4 2zm3 4zm3 17zm-9 0zm5 1zm3 3zm-3 1zm2 1zm-6 9zm4 5zm1 1zm-2 2zm-3 0zm9 0zm-8 2zm3 1zm5 2zm-6 0zm-3 1zm-1 4zm1 0zm9 0zm-10 0zm4 1zm-5 4zm10 2zm-3 4zm-6 5zm6 0zm3 1zm-7 19zm5 5zm1 4zm-5 0zm4 7zm0 0zm-2 2zm-4 15zm19-229zm-7 9zm8 7zm-6 3zm2 8zm-1 2zm6 0zm-4 1zm-7 1zm8 1zm1 4zm-1 0zm2 6zm-10 1zm6 10zm-5 3zm6 1zm-2 1zm-2 1zm-2 13zm7 0zm-4 1zm-1 7zm2 0zm-2 4zm8 2zm-3 2zm-7 2zm10 1zm-11 1zm3 1zm-1 1zm0 0zm0 2zm3 3zm1 1zm-5 10zm-1 2zm6 7zm-3 6zm-2 0zm9 1zm0 3zm-9 2zm-1 5zm11 2zm0 1zm-4 1zm-2 3zm-2 15zm6 4zm0 3zm-2 0zm2 2zm1 3zm-1 3zm-6 7zm1 4zm-4 63zm4 53zm18-292zm-9 7zm10 8zm-7 2zm-4 2zm8 0zm0 7zm-5 3zm6 1zm-5 7zm6 2zm-2 2zm-8 1zm1 2zm2 3zm-2 7zm10 2zm-6 2zm1 1zm2 2zm3 6zm-11 2zm4 1zm6 3zm-1 0zm1 2zm-7 0zm2 1zm-2 7zm0 0zm2 2zm3 1zm-1 1zm-6 1zm7 0zm-2 0zm-3 2zm4 2zm0 1zm3 2zm-5 2zm3 3zm-4 0zm5 1zm-7 5zm8 0zm-3 6zm-3 2zm6 2zm1 0zm-2 1zm2 3zm-5 2zm3 3zm-3 6zm-2 2zm-4 0zm7 0zm-6 6zm10 5zm-4 2zm3 0zm0 3zm-7 4zm-2 1zm6 10zm-3 5zm-1 5zm8 7zm-10 1zm8 9zm-4 7zm4 1zm-7 3zm11-226zm10 54zm-5 0zm1 8zm-3 2zm-2 0zm9 2zm-9 0zm6 1zm-5 7zm4 7zm-3 0zm-4 1zm7 1zm0 1zm4 7zm-6 1zm-2 2zm4 3zm1 1zm1 1zm-6 1zm2 2zm-4 0zm6 5zm-3 1zm4 1zm-7 4zm9 0zm-10 1zm2 3zm8 2zm0 1zm0 0zm-9 3zm8 4zm-7 2zm8 1zm-10 4zm6 0zm-2 0zm1 1zm4 3zm-8 1zm1 7zm7 2zm-5 1zm-4 0zm2 0zm0 1zm-1 0zm4 2zm-1 3zm-2 0zm2 0zm-4 1zm1 1zm7 1zm-4 1zm-1 4zm3 0zm-5 1zm0 1zm6 3zm-5 2zm1 2zm1 11zm4 4zm-7 2zm9 4zm-10 3zm6 0zm-4 8zm4 11zm-5 126zm11-323zm4 8zm3 5zm4 13zm-8 4zm3 4zm4 0zm-9 4zm6 1zm-7 4zm0 3zm6 2zm4 2zm-3 1zm-7 1zm1 4zm-1 0zm2 3zm6 1zm0 2zm-6 3zm7 1zm-6 6zm7 0zm-8 0zm-2 1zm6 2zm1 6zm4 3zm-1 1zm-5 0zm-5 1zm5 1zm1 3zm5 5zm-5 1zm4 2zm-5 0zm-5 1zm4 1zm4 2zm-4 2zm5 0zm-1 4zm0 2zm1 0zm-2 2zm4 1zm-8 2zm1 1zm7 0zm-11 3zm11 3zm-10 0zm6 3zm-2 1zm4 1zm-2 0zm3 8zm-8 1zm9 1zm-7 2zm1 0zm6 2zm-8 3zm2 9zm3 6zm3 1zm0 2zm0 6zm0 11zm0 11zm-7 2zm7 2zm-9 4zm8 0zm-7 1zm-3 1zm6 15zm13-214zm-4 3zm-2 16zm0 4zm0 5zm2 8zm8 1zm0 4zm-10 3zm0 3zm8 6zm-7 7zm2 2zm-2 1zm7 3zm-2 1zm2 1zm0 0zm0 4zm-2 2zm0 1zm-5 3zm1 2zm2 0zm-2 2zm-2 3zm10 0zm-9 0zm6 1zm-3 2zm6 1zm-1 4zm-3 1zm-3 1zm3 1zm-7 2zm2 4zm0 2zm0 5zm7 1zm0 1zm-9 1zm1 0zm7 0zm-4 4zm-1 1zm4 3zm2 4zm-5 1zm1 0zm-1 1zm3 1zm1 0zm-6 2zm0 9zm1 0zm-3 2zm7 1zm1 1zm-4 3zm-2 2zm1 1zm-3 1zm4 1zm-3 11zm8 5zm-6 0zm8 13zm-3 0zm-7 0zm3 1zm2 5zm2 9zm-2 6zm4 22zm10-261zm-6 25zm2 17zm-4 4zm6 3zm-5 1zm1 16zm3 1zm2 5zm-3 4zm-2 1zm1 0zm-2 8zm6 4zm-7 2zm9 3zm-4 1zm5 0zm0 1zm-4 1zm-2 3zm6 2zm0 0zm-3 3zm-6 2zm8 3zm-8 0zm10 6zm-10 5zm4 4zm2 1zm2 0zm-7 6zm8 1zm-9 2zm5 1zm1 4zm-3 1zm-4 1zm1 2zm4 0zm-4 2zm-1 4zm6 2zm-1 0zm-3 3zm6 1zm-4 1zm-3 2zm8 7zm-2 0zm-5 5zm6 4zm-7 3zm0 1zm4 0zm5 0zm-9 1zm1 1zm8 0zm-2 2zm2 4zm-4 1zm1 5zm3 14zm-4 18zm0 1zm0 1zm1 11zm-6 2zm1 14zm-2 5zm8 17zm-8 9zm16-251zm7 48zm-9 1zm-2 6zm10 9zm1 4zm-11 4zm0 3zm2 9zm5 2zm-1 0zm1 1zm2 3zm-1 4zm2 4zm-5 4zm6 1zm-3 1zm-4 1zm4 1zm1 4zm-9 1zm1 1zm6 2zm-6 1zm6 5zm4 0zm-5 2zm-2 3zm-4 2zm11 2zm-5 3zm-2 3zm-2 3zm-1 3zm6 0zm-5 11zm8 5zm1 1zm-1 8zm-1 6zm3-183zm2 22zm3 6zm3 29zm-5 11zm3 9zm3 7zm-6 6zm0 5zm-1 1zm6 6zm-8 0zm4 4zm6 1zm-4 6zm1 1zm-7 1zm4 0zm-3 1zm-1 1zm11 1zm-8 2zm-2 5zm9 0zm-8 2zm-1 8zm8 0zm-4 2zm-5 2zm7 5zm-5 3zm-1 4zm0 0zm9 6zm-2 7zm-1 11zm-3 9zm7 5zm-7 3zm0 1zm-4 28zm8 29zm1 8zm8-227zm3 6zm-8 7zm1 3zm6 2zm-2 8zm1 12zm4 9zm-5 2zm4 13zm-9 0zm7 4zm-2 4zm-1 11zm-2 5zm5 2zm-7 3zm10 2zm0 6zm0 18zm-3 1zm3 9zm-3 6zm-6 0zm3 1zm6 21zm-1 2zm-7 8zm12-131zm3 32zm-5 14zm9 2zm-7 6zm4 11zm-6 2zm0 6zm7 3zm4 8zm-7 0zm-2 17zm6 2zm-6 1zm-2 4zm5 1zm2 17zm-4 8zm15-172zm1 11zm4 0zm-7 17zm-3 31zm10 15zm-11 2zm7 45zm-5 50zm19-110zm-5 18zm-1 11zm7 14zm-6 13zm5 18zm-6 18zm6 32zm3-160zm4 9zm2 55zm-1 19zm11-59zm-1 10zm-2 8zm20-65zm-9 37zm25 71z"/>
</g>
<rect class="t" x="0" y="0" width="340.5" height="338.6"/>
<path class="t" d="M28.4 338.6v3.5M0 310.6h-3.5M99.1 338.6v3.5M0 240.1h-3.5M169.9 338.6v3.5M0 169.7h-3.5M240.7 338.6v3.5M0 99.3h-3.5M311.4 338.6v3.5M0 28.8h-3.5"/>
<text class="tl" x="28.4" y="358.3" text-anchor="middle">−5.0</text><text class="tl" x="-8.0" y="316.8" text-anchor="end">−5.0</text>
<text class="tl" x="99.1" y="358.3" text-anchor="middle">−2.5</text><text class="tl" x="-8.0" y="246.3" text-anchor="end">−2.5</text>
<text class="tl" x="169.9" y="358.3" text-anchor="middle">0.0</text><text class="tl" x="-8.0" y="175.9" text-anchor="end">0.0</text>
<text class="tl" x="240.7" y="358.3" text-anchor="middle">2.5</text><text class="tl" x="-8.0" y="105.5" text-anchor="end">2.5</text>
<text class="tl" x="311.4" y="358.3" text-anchor="middle">5.0</text><text class="tl" x="-8.0" y="35.0" text-anchor="end">5.0</text>
<text class="ti" x="170.0" y="-5.6" text-anchor="middle">17.8 Photons / Symbol</text>
<text class="al" x="170.0" y="380.1" text-anchor="middle">I Quadrature [SNU]</text>
<text class="al" transform="translate(-55 169.3) rotate(-90)" text-anchor="middle">Q Quadrature [SNU]</text>
<g transform="translate(271.3 6.0)"><rect x="0" y="0" width="62.4" height="94.7" rx="2.8" fill="#fff" fill-opacity=".8" stroke="#ccc" stroke-opacity=".8" stroke-width="1.1"/><text class="lt" x="31.2" y="16" text-anchor="middle">Symbol</text><circle cx="22.8" cy="31.3" r="6.15" fill="#1f77b4"/><text class="le" x="44.9" y="34.6">0</text><circle cx="22.8" cy="49.1" r="6.15" fill="#ff7f0e"/><text class="le" x="44.9" y="52.4">1</text><circle cx="22.8" cy="66.9" r="6.15" fill="#2ca02c"/><text class="le" x="44.9" y="70.2">2</text><circle cx="22.8" cy="84.7" r="6.15" fill="#d62728"/><text class="le" x="44.9" y="88.0">3</text></g>
</g>
<g transform="translate(505.2 20.5)">
<path class="g" d="M28.5 0V338.6M0 310.6H340.5M99.3 0V338.6M0 240.1H340.5M170.1 0V338.6M0 169.7H340.5M240.9 0V338.6M0 99.3H340.5M311.6 0V338.6M0 28.8H340.5"/>
<g clip-path="url(#c)">
<path class="d" stroke="#1f77b4" transform="scale(.5)" style="stroke-width:6.8" d="M248 259zm3 28zm6-26zm6 14zm-11 17zm8 0zm15-54zm-5 14zm0 12zm0 9zm1 20zm16-67zm-4 26zm2 3zm-9 1zm2 9zm6 2zm-5 0zm-3 7zm5 7zm6 0zm-4 17zm4 8zm-7 33zm0 29zm6 19zm6-163zm-1 8zm3 7zm4 42zm-8 5zm1 4zm1 22zm7 8zm-4 24zm3 4zm-5 6zm0 16zm2 18zm13-169zm-3 1zm1 25zm-3 9zm7 0zm-2 22zm-2 5zm1 2zm-3 2zm-4 3zm4 1zm2 2zm3 4zm-5 4zm5 10zm-3 10zm3 6zm1 26zm-5 18zm3 8zm15-184zm-4 8zm0 37zm2 4zm-8 13zm0 7zm1 12zm9 3zm-6 3zm-3 8zm7 1zm-9 13zm4 1zm4 4zm0 1zm-4 3zm-4 5zm0 0zm2 6zm0 10zm7 2zm-7 10zm2 0zm4 4zm-4 2zm7 13zm-2 0zm-6 1zm6 7zm-4 1zm5 8zm5-284zm6 72zm-5 19zm3 41zm-4 13zm-1 2zm1 10zm-1 14zm2 7zm5 1zm1 1zm-8 1zm0 1zm8 0zm-7 3zm8 3zm0 1zm-4 1zm-6 3zm5 3zm2 2zm-7 0zm5 10zm1 1zm1 2zm-7 4zm7 9zm-7 1zm9 1zm-10 7zm2 1zm9 3zm0 0zm-6 9zm6 4zm-11 2zm0 8zm4 3zm2 11zm-5 14zm9 7zm-3 2zm4 9zm-4 27zm3 2zm5-239zm2 0zm-3 33zm5 1zm-7 5zm6 2zm-1 8zm3 1zm-1 3zm0 8zm-4 2zm7 7zm-2 1zm-2 8zm4 1zm-10 4zm11 2zm-5 1zm4 7zm-2 2zm-8 1zm7 1zm2 4zm1 1zm-9 2zm-1 6zm2 2zm5 11zm1 5zm-4 7zm7 6zm-5 3zm5 8zm-3 1zm0 4zm3 0zm-4 11zm1 0zm-7 2zm9 8zm-3 2zm-2 3zm0 6zm-3 10zm-1 10zm2 16zm0 9zm16-287zm-3 20zm3 67zm-5 2zm4 7zm-3 0zm0 16zm8 5zm-7 11zm4 2zm-7 2zm5 1zm-2 0zm6 3zm-5 8zm0 1zm-2 1zm3 0zm-6 0zm7 3zm-7 3zm5 0zm5 2zm-6 1zm7 6zm-8 10zm1 2zm-2 1zm8 8zm-1 2zm-2 12zm2 5zm-4 11zm-4 1zm0 6zm3 12zm-1 45zm8 7zm10-234zm-5 3zm5 19zm-7 8zm9 3zm-10 3zm2 3zm3 1zm3 2zm-1 0zm-1 0zm3 8zm-1 8zm0 2zm1 4zm-1 1zm-4 0zm6 1zm-8 1zm8 2zm-11 1zm0 1zm0 1zm7 2zm2 2zm0 6zm1 0zm-6 2zm4 1zm3 7zm-7 1zm6 3zm-9 5zm1 2zm2 1zm6 2zm1 0zm-5 5zm-6 3zm11 0zm-7 2zm6 5zm-2 3zm-5 2zm4 1zm-1 4zm-6 1zm9 6zm1 6zm-7 3zm-1 8zm4 2zm-1 5zm5 7zm-5 2zm-2 1zm6 8zm-6 28zm5 25zm4-248zm0 13zm8 17zm-6 0zm6 3zm-5 3zm7 9zm-3 2zm-2 5zm4 2zm-9 1zm1 5zm8 0zm-4 1zm4 7zm1 0zm-3 0zm-6 2zm3 5zm1 2zm5 3zm-5 5zm-1 1zm4 4zm3 0zm-10 5zm2 6zm3 1zm-6 8zm3 4zm1 1zm0 2zm-4 1zm9 2zm-3 0zm-1 0zm3 2zm-2 3zm-2 5zm-2 5zm1 4zm-1 1zm6 2zm3 4zm-8 2zm0 2zm3 1zm2 3zm1 0zm0 0zm-9 3zm8 2zm0 4zm-2 3zm-2 3zm7 3zm-11 0zm3 0zm5 3zm-1 3zm-5 0zm5 2zm-2 9zm-5 0zm8 9zm-4 6zm-2 6zm4 26zm15-241zm-8 9zm7 33zm-6 7zm2 3zm-3 1zm0 0zm8 4zm-1 3zm3 9zm-2 0zm-8 3zm7 1zm1 3zm1 3zm-3 0zm-2 1zm-5 2zm5 2zm6 1zm-2 3zm-5 1zm5 4zm-6 5zm4 0zm1 1zm-1 1zm1 0zm-8 0zm9 6zm1 1zm-2 3zm-5 2zm4 1zm-4 0zm3 3zm-6 2zm2 2zm4 0zm-6 2zm11 0zm-3 2zm2 3zm-7 5zm0 0zm0 2zm6 2zm-6 2zm8 10zm-11 2zm3 1zm4 1zm1 0zm-3 3zm-1 0zm6 6zm-5 1zm2 4zm-1 4zm1 4zm-7 2zm11 0zm-1 6zm-7 3zm8 5zm-9 5zm9 8zm-2 3zm-3 4zm-5 7zm3 2zm5 29zm4-259zm10 24zm-2 6zm-1 15zm-4 3zm3 11zm2 3zm1 1zm-5 7zm1 3zm5 5zm-6 2zm3 3zm-7 4zm4 1zm4 4zm-5 1zm4 3zm-3 0zm2 3zm-2 0zm4 2zm-8 0zm6 4zm-4 0zm2 3zm4 1zm-7 5zm6 1zm-8 1zm5 1zm4 2zm1 1zm-1 1zm-4 0zm-3 1zm-2 2zm1 0zm8 1zm-8 1zm2 1zm0 3zm-2 0zm5 3zm5 0zm-11 5zm9 0zm0 1zm-7 2zm5 3zm3 0zm-8 1zm0 0zm4 3zm-5 3zm7 1zm-1 1zm4 1zm-6 1zm5 5zm-2 1zm-7 0zm10 2zm-10 1zm10 0zm-8 1zm7 3zm-5 3zm-2 1zm-1 1zm3 4zm0 2zm5 1zm0 0zm-8 1zm1 8zm0 0zm3 3zm2 4zm0 1zm-3 8zm1 15zm-1 7zm0 31zm1 4zm2 2zm8-236zm6 6zm-10 6zm1 3zm-1 1zm9 5zm2 15zm-5 8zm1 0zm3 9zm-4 6zm-5 3zm6 1zm-5 11zm4 6zm-5 5zm9 0zm-4 1zm-5 1zm7 0zm-8 0zm4 1zm1 1zm6 3zm-8 5zm2 2zm4 0zm-5 2zm6 0zm-5 3zm0 1zm-5 4zm3 3zm-1 1zm8 0zm-1 2zm-7 0zm8 3zm-4 2zm1 2zm-7 4zm5 2zm4 0zm-3 1zm0 1zm-5 5zm2 0zm-2 4zm10 0zm0 1zm-7 2zm4 3zm1 7zm-8 6zm-1 7zm6 4zm-3 4zm-3 3zm11 2zm-10 6zm9 0zm-10 2zm4 0zm4 0zm-6 4zm1 4zm3 2zm1 3zm-2 11zm-1 6zm-3 16zm19-257zm-8 8zm4 6zm0 2zm6 29zm-9 1zm2 4zm-3 5zm10 7zm-9 8zm7 4zm1 2zm0 9zm-7 4zm3 1zm4 1zm-6 3zm-3 4zm7 3zm-5 7zm1 5zm0 2zm7 3zm-1 3zm-4 5zm3 9zm2 4zm-2 6zm-3 7zm-5 1zm0 1zm8 2zm3 22zm-1 7zm1 1zm-5 2zm4 0zm-9 3zm3 4zm-1 2zm-3 10zm1 5zm0 28zm1 42zm20-261zm-8 17zm4 15zm5 13zm-6 6zm0 1zm-5 3zm1 5zm2 10zm7 2zm-10 4zm6 1zm-4 1zm2 0zm3 6zm-4 1zm1 1zm-3 3zm5 1zm-6 0zm6 0zm-6 1zm3 1zm6 5zm2 5zm-6 2zm-1 2zm2 3zm3 1zm-5 4zm7 3zm-8 3zm7 18zm-3 3zm1 7zm-7 4zm8 1zm-3 1zm-1 1zm4 1zm-8 11zm9 1zm-10 0zm9 1zm1 12zm-10 6zm7 4zm-4 1zm-1 17zm0 10zm21-213zm-5 22zm1 9zm-3 1zm-2 11zm7 2zm-1 1zm-4 4zm2 4zm-3 3zm8 10zm-6 2zm6 10zm-2 1zm-4 2zm4 2zm1 0zm-6 2zm-4 0zm10 3zm-1 1zm-3 1zm-5 7zm-1 1zm6 1zm4 2zm-5 15zm3 5zm-3 9zm3 5zm0 6zm-8 4zm8 27zm0 3zm-3 17zm1 2zm-5 6zm10 43zm9-245zm-2 11zm-3 21zm5 6zm-6 15zm9 2zm-5 4zm3 2zm2 5zm-7 10zm0 0zm-4 8zm8 7zm-4 8zm-4 2zm4 1zm-1 2zm-2 7zm6 3zm-5 1zm3 2zm4 5zm-8 1zm1 10zm3 2zm-5 14zm2 2zm4 1zm4 0zm-6 11zm0 4zm1 17zm-2 7zm7 15zm-8 38zm18-249zm-8 10zm11 20zm-9 1zm5 6zm-5 1zm8 6zm-10 0zm4 0zm-1 2zm0 5zm2 7zm1 2zm-1 4zm-5 4zm3 9zm8 11zm-7 0zm6 6zm-10 4zm5 8zm-4 1zm8 3zm-4 1zm6 1zm-10 7zm2 13zm-3 2zm7 1zm-2 7zm5 38zm0 21zm-4 8zm5 12zm5-217zm-2 35zm4 14zm1 7zm-7 8zm8 1zm3 5zm-11 21zm0 4zm9 1zm-8 5zm2 3zm5 9zm2 0zm-7 2zm5 12zm-3 2zm-2 17zm1 4zm-4 17zm10 35zm11-166zm0 3zm-7 9zm5 26zm0 18zm-2 28zm-2 14zm4 9zm-4 2zm-2 1zm1 4zm-2 3zm1 16zm22-46zm-7 8zm-4 14zm1 25zm-1 1zm17-72zm0 15zm9-16zm1 2zm8 7zm-10 32zm8 13zm1 2zm10-91zm-2 26z"/>
<path class="d" stroke="#ff7f0e" transform="scale(.5)" style="stroke-width:6.8" d="M123 271zm10-41zm15-20zm18-54zm-8 147zm5 5zm-3 10zm-4 34zm8 1zm-4 4zm12-147zm6 21zm0 37zm-10 10zm6 19zm-5 6zm7 17zm14-67zm-4 11zm-2 10zm1 4zm-3 1zm8 0zm-5 4zm0 7zm6 3zm-1 8zm-4 3zm2 24zm-3 11zm-5 22zm10 1zm9-127zm1 4zm-5 3zm4 2zm2 2zm-7 8zm2 1zm7 12zm-6 2zm-4 2zm7 3zm2 7zm0 19zm-10 5zm1 1zm5 16zm-6 1zm8 8zm-6 12zm2 1zm-3 8zm-1 7zm3 7zm-3 14zm6 6zm2 3zm10-215zm4 34zm-8 13zm1 3zm-2 1zm3 4zm4 0zm-5 16zm5 30zm-8 9zm11 6zm-10 9zm6 0zm1 1zm-2 5zm5 15zm-9 1zm2 2zm4 2zm-8 1zm0 7zm10 5zm-5 1zm0 4zm5 3zm1 4zm-2 5zm1 1zm-6 6zm3 2zm0 1zm-4 3zm-1 16zm8 16zm6-257zm0 19zm1 25zm-3 4zm7 4zm-5 7zm2 9zm-5 2zm6 3zm2 5zm-4 6zm3 6zm0 2zm3 2zm-2 4zm-5 9zm-2 5zm3 2zm4 0zm2 13zm-2 0zm-9 1zm9 5zm-3 2zm3 4zm-2 1zm0 5zm-2 8zm1 9zm-5 0zm8 4zm-5 14zm4 7zm-5 2zm-3 7zm3 13zm0 1zm-3 6zm3 13zm18-177zm-8 3zm10 19zm-1 14zm-6 2zm4 3zm1 2zm-8 11zm4 4zm2 1zm-5 1zm9 4zm-9 0zm2 6zm2 4zm-6 6zm3 0zm3 4zm4 8zm-3 3zm4 2zm-11 0zm8 1zm-8 1zm2 5zm1 4zm7 1zm-9 1zm-1 6zm0 1zm6 3zm1 0zm4 3zm-5 0zm3 8zm-3 9zm-4 14zm0 2zm8 10zm-4 0zm-3 11zm-1 8zm1 6zm8 4zm2-177zm4 14zm5 7zm-10 3zm4 0zm5 3zm-7 4zm6 1zm-8 0zm8 1zm2 1zm1 9zm-11 1zm9 8zm1 2zm-1 1zm1 0zm-8 4zm5 1zm0 0zm-5 1zm3 1zm-5 3zm3 0zm5 2zm-7 3zm-1 1zm5 2zm6 3zm-4 2zm-1 1zm-4 1zm2 3zm-2 0zm1 1zm2 1zm-3 4zm6 4zm-2 0zm3 2zm-1 9zm-4 7zm-4 2zm6 2zm-2 2zm6 1zm0 6zm-6 2zm5 1zm-1 12zm-7 7zm10 2zm-4 4zm-2 0zm3 2zm-7 6zm6 15zm-1 6zm-2 1zm18-228zm-7 35zm7 5zm-2 3zm-7 9zm2 8zm2 4zm0 2zm-4 1zm9 3zm-5 3zm0 3zm1 4zm-2 1zm5 6zm-2 6zm-2 3zm-5 1zm7 6zm-5 2zm2 1zm-2 6zm-2 2zm0 4zm8 3zm3 1zm-9 0zm5 0zm-7 0zm6 4zm-2 1zm0 1zm-3 2zm3 2zm-1 4zm6 5zm-1 1zm-5 3zm7 1zm-6 3zm3 10zm2 5zm-7 6zm9 12zm-2 4zm-7 3zm2 1zm2 0zm5 3zm-10 3zm6 5zm-3 3zm5 1zm1 1zm-10 24zm9 5zm2 20zm5-281zm4 41zm1 9zm-1 6zm-2 10zm-1 8zm-1 1zm5 2zm-6 8zm-3 1zm2 6zm3 3zm-4 1zm10 3zm-8 2zm-1 2zm2 6zm1 2zm-5 1zm3 2zm7 7zm-6 3zm1 0zm3 0zm-4 2zm1 2zm1 9zm3 0zm-4 2zm4 3zm1 0zm-10 1zm8 2zm2 0zm-9 3zm0 5zm6 3zm-2 1zm6 1zm-11 0zm3 0zm-1 0zm9 1zm-1 2zm-7 1zm4 0zm-1 4zm2 2zm-2 1zm4 0zm-2 1zm-4 2zm5 3zm1 0zm-6 5zm7 0zm-7 5zm5 6zm-6 1zm-1 3zm-2 7zm3 1zm1 0zm0 2zm-4 0zm4 1zm-1 1zm6 2zm-2 2zm2 3zm-1 3zm0 2zm-6 1zm8 7zm-8 7zm-2 10zm5 25zm0 9zm0 2zm8-286zm10 16zm-9 8zm1 16zm1 11zm2 5zm-2 14zm-2 8zm-1 12zm3 8zm7 1zm0 12zm-2 2zm1 3zm1 0zm-10 5zm10 6zm-2 5zm-5 2zm7 5zm-5 2zm0 6zm5 3zm-5 8zm3 1zm-7 1zm-2 3zm7 7zm-5 1zm8 9zm-8 2zm2 1zm5 1zm0 1zm-8 0zm4 3zm-3 4zm-2 0zm10 1zm-2 2zm-7 2zm1 0zm8 3zm-7 3zm7 2zm-3 0zm-7 2zm8 4zm-2 2zm1 2zm-7 8zm1 2zm9 6zm-10 1zm2 10zm3 9zm5 9zm-9 11zm8 4zm-4 4zm11-202zm3 2zm0 4zm-7 10zm0 7zm0 2zm1 1zm5 7zm5 0zm-6 7zm-4 2zm10 4zm-6 0zm6 6zm-10 0zm3 2zm-1 1zm5 0zm-6 0zm-1 3zm8 1zm-8 0zm1 6zm-1 1zm9 2zm-2 1zm-8 2zm2 7zm4 2zm-1 1zm5 1zm1 2zm-10 0zm9 6zm-2 2zm-6 0zm4 2zm3 1zm-4 4zm-5 0zm4 1zm7 6zm-8 3zm-1 1zm2 0zm2 0zm5 0zm-9 0zm2 2zm4 3zm-7 3zm10 1zm0 6zm-6 1zm0 2zm4 1zm2 10zm-10 0zm10 1zm-7 3zm5 2zm2 1zm-11 1zm7 1zm-3 8zm1 2zm2 6zm-2 6zm-3 2zm8 3zm-7 8zm17-240zm-8 10zm8 28zm-3 10zm-2 1zm8 4zm-8 12zm-2 5zm2 3zm1 0zm2 5zm4 10zm1 1zm-2 0zm2 1zm-8 6zm2 6zm4 1zm1 3zm-2 1zm-8 4zm9 2zm-7 3zm6 0zm-2 10zm3 5zm-3 0zm1 0zm0 3zm0 4zm-7 1zm2 2zm3 0zm4 0zm2 3zm-9 0zm3 1zm4 2zm-3 1zm-6 3zm9 1zm-1 2zm3 0zm-10 2zm9 1zm-8 0zm4 7zm-2 1zm-2 2zm-2 2zm3 5zm5 10zm1 1zm2 2zm-7 5zm6 7zm-2 1zm2 1zm-1 1zm1 1zm-9 0zm5 1zm-3 7zm8 8zm0 1zm10-187zm1 39zm-8 5zm3 4zm2 3zm-1 3zm3 1zm-4 0zm4 6zm0 0zm-2 2zm1 2zm-1 0zm-5 6zm0 3zm7 2zm2 0zm-10 1zm6 3zm-3 2zm5 2zm-1 1zm0 1zm-2 2zm2 2zm-7 6zm7 1zm-2 1zm-6 6zm7 4zm2 4zm1 2zm-5 2zm1 0zm5 7zm-3 2zm1 1zm-2 1zm2 4zm-9 2zm2 7zm9 2zm-4 4zm0 3zm0 4zm-7 1zm5 6zm4 24zm-5 5zm6 9zm-5 2zm-5 1zm2 4zm1 11zm7 9zm7-272zm-1 18zm0 8zm-2 16zm4 21zm-4 0zm-2 7zm2 4zm-1 16zm0 9zm2 1zm0 4zm1 11zm-2 3zm6 1zm-6 3zm2 3zm3 3zm4 5zm-7 6zm0 2zm0 2zm-4 6zm7 2zm3 0zm-2 2zm-1 1zm-2 1zm4 0zm-7 1zm0 2zm8 0zm-6 0zm7 2zm-2 8zm-2 1zm-5 1zm4 9zm3 3zm-9 2zm8 5zm-1 1zm-5 1zm6 1zm-5 2zm-3 3zm9 5zm1 16zm-7 7zm-2 10zm3 4zm1 12zm4 3zm0 10zm-2 5zm12-225zm-7 40zm6 8zm1 3zm1 0zm-7 1zm3 1zm5 3zm2 21zm-7 2zm4 4zm-8 4zm2 5zm3 1zm5 1zm-5 2zm4 4zm-4 3zm3 3zm-3 3zm1 2zm3 0zm1 1zm-9 7zm0 2zm9 3zm-6 2zm4 9zm-4 6zm0 1zm7 4zm-5 3zm-4 0zm-2 11zm6 2zm4 17zm-7 20zm-3 15zm9 12zm8-217zm5 6zm1 24zm-6 1zm5 2zm1 6zm-9 0zm1 7zm0 0zm4 12zm4 6zm-11 2zm8 5zm0 4zm-2 10zm3 2zm2 9zm-3 3zm-5 4zm0 1zm-2 7zm9 9zm-5 4zm1 5zm-5 7zm3 8zm0 2zm2 8zm-4 7zm-2 5zm6 9zm-4 4zm9 7zm-11 2zm4 4zm-1 13zm9-223zm1 41zm4 16zm2 15zm4 0zm-9 9zm0 8zm1 9zm7 3zm0 5zm1 18zm-2 0zm-5 5zm-3 7zm6 2zm-1 0zm-5 2zm9 0zm-8 3zm3 8zm0 9zm4 23zm-1 12zm-4 19zm9-195zm1 24zm9 3zm-9 3zm9 10zm-7 1zm7 26zm0 15zm-5 15zm0 11zm0 10zm-4 7zm-2 7zm2 1zm-1 1zm10 24zm-5 2zm15-176zm-4 12zm-2 36zm2 16zm-4 9zm1 5zm7 27zm2 2zm-1 0zm0 4zm-1 0zm-4 34zm-5 1zm5 19zm6 6zm-7 2zm-4 19zm8 4zm5-170zm10 37zm-3 16zm-8 20zm3 7zm-1 15zm0 36zm4 11zm8-83zm-2 3zm6 9zm0 15zm5 43zm1-57zm3 19zm5 11zm5 9zm7 14z"/>
<path class="d" stroke="#2ca02c" transform="scale(.5)" style="stroke-width:6.8" d="M119 403zm9 3zm18-74zm9 57zm-5 18zm-2 6zm3 0zm-7 24zm7 10zm7-147zm9 12zm-1 62zm-2 15zm-5 6zm8 28zm-5 0zm11-83zm3 29zm-3 18zm3 24zm14-91zm-7 11zm4 9zm1 13zm-5 36zm6 17zm0 6zm-5 11zm0 2zm6 1zm5-119zm0 0zm-2 33zm4 8zm-3 20zm5 8zm3 3zm1 6zm-7 0zm1 6zm-3 6zm-2 29zm5 5zm-5 4zm9 36zm-7 2zm8 19zm13-225zm-3 24zm-6 24zm3 5zm-1 9zm3 3zm-7 15zm7 0zm-4 6zm8 23zm-7 0zm2 4zm-2 5zm-2 2zm3 1zm4 7zm-6 5zm-3 13zm3 3zm6 9zm1 7zm1 34zm-9 2zm1 14zm14-185zm0 8zm5 5zm-3 2zm-4 3zm-2 13zm1 5zm2 9zm-3 9zm-1 13zm7 2zm1 0zm-6 0zm0 4zm6 1zm0 2zm2 4zm-5 2zm0 7zm-4 3zm3 1zm-3 2zm4 11zm-5 1zm4 4zm0 2zm-2 3zm6 3zm3 6zm-2 5zm-9 0zm6 21zm0 40zm17-339zm-4 126zm-5 24zm0 20zm4 9zm4 7zm1 7zm-5 4zm-4 4zm9 1zm-3 1zm-7 1zm2 2zm7 0zm0 2zm0 2zm-10 3zm5 5zm1 2zm1 7zm-7 6zm1 1zm9 4zm-4 3zm-6 5zm9 2zm0 2zm-4 2zm6 2zm-2 4zm-3 6zm1 1zm1 0zm-3 5zm1 4zm1 1zm4 3zm0 2zm-10 6zm2 2zm0 2zm5 9zm0 13zm3 3zm-2 36zm14-263zm-5 55zm-3 1zm4 15zm-6 2zm7 4zm0 8zm0 11zm-7 9zm8 1zm0 6zm-5 0zm5 2zm-5 1zm-3 2zm7 0zm-5 1zm0 0zm2 2zm3 1zm-7 0zm-1 3zm2 1zm7 4zm-3 3zm-2 1zm6 10zm0 0zm-4 2zm-3 2zm0 3zm0 1zm4 3zm-7 1zm0 2zm9 0zm-8 2zm0 3zm0 0zm3 0zm-1 6zm0 1zm5 2zm-8 1zm0 4zm10 0zm-4 19zm-5 1zm9 7zm-6 3zm7 4zm-5 16zm0 0zm2 2zm-7 26zm14-214zm8 4zm-3 10zm3 17zm-11 0zm6 10zm4 1zm-2 3zm-5 6zm6 2zm-7 4zm1 7zm-3 1zm5 4zm-4 0zm9 3zm-8 2zm9 3zm-7 2zm-4 3zm8 8zm-2 7zm-3 3zm3 0zm-5 1zm4 4zm1 0zm-6 0zm8 2zm2 1zm-1 1zm-6 1zm7 1zm-2 4zm0 1zm-4 1zm5 0zm2 4zm-5 1zm3 2zm1 11zm1 4zm-3 9zm0 11zm0 0zm3 8zm-7 0zm6 1zm0 3zm-7 11zm4 5zm2 81zm8-305zm5 7zm-7 36zm-3 1zm5 3zm-4 5zm6 6zm-6 3zm10 3zm-3 4zm-6 0zm5 1zm2 1zm-4 3zm4 4zm2 0zm-7 6zm0 5zm2 4zm4 12zm-4 2zm5 3zm-10 0zm1 2zm2 10zm2 1zm0 1zm2 1zm3 0zm-4 1zm-4 3zm3 2zm-6 1zm2 2zm1 1zm-2 3zm7 0zm-6 5zm1 1zm3 3zm-1 0zm3 1zm2 9zm-10 1zm3 0zm3 12zm2 0zm-6 1zm-1 1zm1 2zm4 0zm-3 5zm0 3zm7 0zm-2 2zm-6 0zm0 0zm3 2zm5 1zm-7 0zm5 4zm-6 2zm3 2zm-3 5zm0 1zm7 1zm-2 0zm-7 1zm1 3zm6 6zm-6 5zm-1 0zm1 9zm6 9zm-1 1zm2 3zm3 2zm-10 8zm0 7zm5 1zm-3 16zm20-252zm-9 10zm4 20zm1 10zm1 1zm-5 12zm6 1zm-9 1zm7 5zm0 0zm-3 1zm0 4zm-1 2zm0 1zm6 1zm2 4zm-3 1zm1 1zm0 4zm0 2zm1 2zm-7 1zm8 3zm-8 9zm6 2zm-6 2zm3 3zm4 0zm-8 4zm4 2zm-6 2zm4 2zm4 2zm-4 3zm-3 7zm9 1zm-5 1zm0 0zm-4 1zm0 4zm1 0zm-2 1zm10 1zm1 6zm-4 1zm-3 5zm-2 2zm2 1zm-3 5zm5 0zm3 1zm-7 2zm5 1zm-5 2zm5 5zm4 0zm-8 2zm7 3zm1 3zm-7 1zm-4 4zm3 2zm5 4zm2 3zm-9 4zm10 13zm-10 4zm6 17zm7-246zm-1 22zm2 1zm0 13zm5 5zm-2 8zm3 16zm-4 3zm-1 3zm0 2zm6 5zm-5 3zm0 7zm-5 1zm8 8zm0 0zm-4 1zm-4 9zm6 2zm-1 0zm-4 1zm7 1zm0 2zm-2 1zm2 3zm-3 3zm1 1zm5 1zm-11 0zm0 1zm11 1zm-4 5zm4 2zm-5 5zm0 0zm1 0zm-4 2zm6 0zm1 1zm0 1zm-1 4zm-5 1zm5 3zm-3 0zm1 1zm0 3zm-5 2zm5 1zm-6 2zm5 0zm3 2zm0 1zm-1 2zm-8 2zm10 1zm-6 3zm-4 1zm5 1zm6 2zm-3 4zm-6 1zm-1 7zm5 2zm-4 2zm-2 1zm7 3zm-5 2zm2 6zm2 1zm4 3zm-10 2zm11 2zm0 1zm-7 2zm-2 1zm7 43zm-1 7zm10-253zm5 17zm-3 6zm-6 16zm8 25zm-5 1zm5 6zm-5 3zm1 4zm4 1zm-3 3zm0 1zm4 2zm-7 4zm3 7zm4 10zm-4 0zm2 0zm-2 3zm-3 5zm-1 8zm2 14zm-5 2zm8 2zm-3 2zm-3 0zm2 1zm-4 1zm0 1zm5 3zm-5 4zm7 1zm-4 0zm4 9zm-3 0zm1 2zm-1 0zm-3 1zm-1 2zm7 1zm-5 6zm1 0zm2 4zm-1 3zm1 1zm1 7zm3 1zm1 5zm-4 2zm3 5zm1 15zm1 5zm0 0zm-11 5zm5 4zm4 15zm2 3zm-6 3zm0 7zm-3 27zm18-225zm1 2zm-6 1zm7 2zm1 4zm-2 5zm2 1zm-8 5zm1 2zm-4 6zm1 0zm9 3zm0 2zm-6 4zm-4 4zm6 3zm-6 4zm5 2zm-3 1zm6 3zm-3 0zm0 1zm3 0zm-7 4zm7 4zm-4 1zm-3 8zm-1 1zm8 2zm0 5zm-4 4zm5 5zm-3 0zm1 2zm0 4zm1 0zm-2 0zm5 1zm0 0zm-4 1zm-3 5zm4 0zm-5 2zm0 6zm-2 10zm7 3zm-1 2zm-3 0zm6 1zm-10 7zm11 1zm-11 4zm5 1zm-1 1zm2 1zm-4 2zm7 6zm-6 2zm6 3zm1 13zm-10 1zm8 43zm0 14zm-5 7zm11-264zm7 13zm-9 7zm4 8zm-1 6zm7 1zm-4 6zm5 6zm-10 1zm3 1zm1 0zm5 4zm1 15zm-10 2zm2 3zm6 0zm-3 0zm-6 15zm5 0zm0 4zm-2 2zm-1 2zm6 4zm-7 1zm2 0zm8 1zm-9 3zm4 0zm-4 3zm3 3zm3 1zm-7 0zm5 2zm-3 4zm4 1zm4 9zm-11 0zm1 6zm-1 6zm0 1zm3 0zm8 4zm-9 2zm0 10zm6 3zm-5 2zm1 2zm6 1zm1 0zm0 5zm-3 3zm-1 6zm1 4zm-8 3zm8 15zm-4 5zm-3 0zm18-187zm-7 2zm8 3zm3 2zm-5 5zm-4 2zm-2 11zm7 0zm0 3zm4 2zm-11 2zm0 2zm2 4zm-1 5zm8 6zm-3 1zm4 0zm-8 1zm0 2zm3 4zm1 3zm0 8zm-5 4zm2 0zm7 2zm0 6zm-5 5zm4 1zm-7 4zm8 1zm-7 5zm3 0zm-4 1zm9 9zm-2 1zm-9 1zm0 10zm11 7zm-5 2zm2 0zm-1 1zm-3 0zm3 2zm0 2zm-5 1zm0 6zm8 1zm-1 1zm2 0zm-1 13zm-3 7zm-7 1zm6 8zm-5 1zm4 8zm-4 7zm2 15zm-3 2zm4 6zm15-252zm-1 50zm-1 6zm-2 3zm-1 7zm0 9zm5 3zm-3 12zm2 2zm4 6zm-7 18zm2 1zm-3 0zm4 12zm1 6zm0 8zm2 1zm-5 8zm-4 0zm8 2zm-6 2zm-1 1zm0 0zm6 4zm-5 2zm2 3zm1 5zm-3 0zm-1 5zm3 14zm-1 12zm3 15zm2 17zm11-172zm3 0zm-8 5zm0 1zm1 12zm2 6zm-1 5zm-4 9zm6 0zm3 6zm-1 1zm-8 2zm8 15zm-7 12zm0 2zm7 6zm-3 8zm-3 9zm4 5zm2 4zm-2 2zm-1 5zm0 9zm4 6zm7-185zm4 18zm-4 34zm0 10zm5 15zm-9 0zm6 9zm-4 4zm9 4zm-3 35zm-7 9zm10 1zm-6 3zm4 5zm-7 4zm6 2zm-4 19zm2 44zm-3 5zm12-179zm2 35zm-5 11zm6 4zm-2 0zm5 31zm-1 23zm-8 5zm5 3zm0 2zm-2 23zm0 33zm18-162zm-6 30zm1 37zm2 7zm-6 35zm0 17zm0 33zm9 65zm8-191zm-5 23zm5 20zm-4 12zm0 9zm9 16zm-3 47zm11-96zm-2 55z"/>
<path class="d" stroke="#d62728" transform="scale(.5)" style="stroke-width:6.8" d="M236 376zm13 6zm10-51zm3 20zm-3 11zm-6 18zm20-5zm0 8zm-3 26zm4 8zm-3 25zm15-140zm-5 1zm-1 59zm5 15zm0 2zm1 6zm-6 0zm7 11zm0 38zm0 17zm-6 23zm11-172zm5 56zm-5 2zm1 24zm4 27zm-3 11zm8-162zm9 24zm-4 28zm1 25zm-7 22zm1 7zm9 8zm-7 9zm2 11zm1 12zm4 6zm-11 2zm7 11zm-6 12zm9 45zm11-224zm-3 22zm5 15zm-1 16zm-6 10zm2 2zm4 13zm-4 6zm-3 6zm0 8zm5 10zm-6 0zm-1 3zm7 2zm-5 2zm5 2zm2 3zm-7 6zm-1 27zm2 1zm5 2zm-5 3zm4 1zm-5 2zm4 2zm3 2zm-8 7zm1 2zm5 1zm2 8zm-5 3zm-1 23zm-1 7zm18-185zm-1 17zm2 4zm-8 1zm0 5zm4 9zm0 16zm-2 9zm-1 5zm-2 1zm4 14zm5 3zm-2 5zm0 2zm2 0zm0 3zm-2 3zm-5 1zm6 1zm2 3zm-11 5zm9 1zm-9 3zm0 3zm6 2zm3 18zm-9 2zm7 0zm3 1zm-2 1zm-5 0zm3 1zm2 10zm-6 35zm0 7zm-1 35zm12-233zm8 16zm2 7zm-5 1zm-5 19zm5 1zm-6 4zm5 9zm1 0zm-2 2zm-1 0zm3 1zm-2 1zm5 13zm-3 1zm-4 1zm3 0zm3 1zm-3 1zm-4 4zm8 5zm0 11zm-6 0zm-2 0zm7 1zm-4 5zm4 2zm-5 1zm2 0zm4 2zm1 1zm-5 1zm3 1zm2 0zm-6 1zm3 13zm3 0zm-6 1zm4 5zm-2 8zm-2 0zm2 2zm1 3zm-7 2zm10 9zm-7 3zm1 9zm6 14zm1 11zm-5 5zm8-235zm1 37zm7 24zm1 7zm-11 0zm10 1zm-10 2zm1 3zm8 6zm-9 1zm6 3zm-6 8zm8 3zm1 4zm-6 3zm2 1zm0 1zm-1 0zm5 1zm-7 0zm-2 2zm1 3zm10 2zm-11 3zm10 9zm1 0zm-4 1zm2 0zm-6 4zm3 8zm-6 5zm4 1zm3 2zm-2 1zm1 1zm3 5zm-7 0zm4 1zm5 7zm-2 2zm-1 1zm-4 2zm7 1zm-10 3zm6 0zm-2 0zm-5 4zm0 3zm4 2zm5 4zm-4 4zm-2 5zm6 3zm-7 10zm2 0zm7 2zm-6 1zm-5 2zm2 25zm3 6zm2 3zm-2 10zm-5 14zm11 14zm11-275zm-10 20zm0 13zm0 2zm11 14zm-6 2zm3 2zm-5 2zm5 5zm-7 2zm3 4zm4 4zm-1 9zm-7 7zm9 0zm0 4zm-9 2zm6 12zm-5 3zm6 3zm1 7zm-5 4zm2 1zm6 7zm-4 1zm2 1zm-5 5zm-3 0zm9 13zm-10 3zm10 4zm1 9zm-7 1zm-2 0zm7 3zm-3 2zm1 3zm0 2zm-6 3zm10 1zm-9 2zm-2 0zm7 1zm-3 4zm5 1zm-3 1zm-2 6zm-4 2zm9 2zm-8 2zm1 6zm9 0zm0 3zm-2 7zm-8 7zm6 3zm3 3zm-3 2zm4 3zm-3 12zm7-252zm-2 21zm-1 3zm5 21zm-3 1zm8 1zm-5 1zm3 6zm3 8zm-10 9zm0 8zm8 1zm-4 1zm6 3zm-3 0zm-3 3zm2 9zm-2 0zm5 1zm-10 2zm7 1zm-4 2zm6 2zm-6 2zm0 8zm-2 1zm9 1zm-10 8zm1 0zm1 1zm3 2zm1 1zm-5 1zm0 2zm2 2zm-3 3zm9 1zm-2 0zm-4 4zm-2 3zm3 5zm-4 2zm5 0zm-4 4zm3 1zm0 2zm-4 0zm7 1zm-5 1zm6 1zm-4 7zm4 2zm-8 11zm8 4zm-2 0zm3 5zm-3 7zm1 10zm2 8zm-3 2zm2 0zm2 2zm-3 2zm0 5zm3 1zm-2 3zm-4 7zm-3 3zm10 10zm9-256zm-8 5zm2 11zm5 25zm-7 13zm6 0zm4 8zm-1 2zm-4 7zm6 12zm-7 6zm2 0zm0 5zm0 8zm-6 1zm5 0zm2 1zm-1 2zm2 4zm-1 2zm-1 1zm4 1zm-7 0zm2 1zm-1 3zm-4 2zm9 1zm-4 1zm2 6zm0 5zm4 2zm-1 0zm-4 0zm-3 2zm4 0zm0 0zm-6 0zm9 5zm-6 0zm-1 3zm6 0zm-1 1zm-3 0zm-3 1zm-1 1zm5 0zm-3 4zm1 1zm7 2zm-9 4zm2 3zm5 2zm-2 3zm-5 10zm9 4zm-5 0zm0 0zm-6 1zm0 0zm6 4zm3 8zm-8 2zm7 0zm2 0zm-9 1zm7 0zm-8 7zm11 5zm-2 2zm2 1zm-1 1zm-1 2zm0 3zm0 3zm2 4zm-6 13zm3 4zm-4 7zm0 32zm17-267zm-8 14zm-1 0zm0 11zm4 8zm-1 0zm2 5zm-5 7zm5 4zm0 0zm-3 1zm9 3zm-6 2zm4 9zm-2 2zm-2 4zm-1 0zm6 5zm-2 2zm2 5zm-8 8zm8 5zm-9 1zm6 1zm3 0zm-1 2zm-8 2zm2 1zm0 0zm7 2zm-8 4zm8 6zm-5 1zm-4 1zm9 1zm-10 6zm1 1zm-1 3zm8 1zm-1 2zm2 4zm2 2zm-8 5zm1 0zm-1 1zm5 4zm-3 1zm3 1zm0 0zm-5 1zm6 3zm-6 0zm8 1zm-7 5zm2 5zm-2 0zm7 5zm-7 10zm7 0zm-3 1zm-3 1zm3 0zm2 3zm-2 3zm-4 1zm-3 5zm4 0zm-3 4zm4 2zm5 2zm-4 5zm-2 4zm1 2zm2 10zm-3 10zm2 53zm7-303zm0 24zm7 19zm0 12zm2 6zm-1 3zm-9 12zm-1 10zm11 2zm-6 0zm-2 2zm6 1zm1 3zm-2 4zm1 2zm-5 2zm6 0zm-9 1zm2 7zm7 2zm-10 6zm8 0zm3 5zm-7 0zm3 1zm-4 0zm5 0zm-8 1zm3 0zm-2 2zm5 0zm2 0zm-3 1zm-2 1zm0 1zm-2 7zm10 1zm-3 1zm-3 0zm6 12zm-4 5zm0 2zm-2 0zm-5 4zm5 1zm5 8zm-2 6zm-5 2zm1 4zm5 8zm-7 2zm6 6zm2 9zm-5 5zm-1 5zm5 24zm2 10zm-9 9zm9 5zm-7 15zm10-253zm5 1zm3 14zm1 18zm-4 5zm0 1zm-2 3zm-3 2zm5 5zm1 17zm-4 3zm0 4zm6 3zm-8 0zm0 7zm0 2zm8 2zm-8 1zm-1 3zm7 1zm-7 4zm5 0zm0 2zm-6 0zm2 0zm6 7zm-1 1zm4 4zm0 3zm-2 5zm2 0zm-10 0zm3 7zm0 1zm2 0zm3 3zm-6 0zm6 1zm-6 2zm-3 1zm2 1zm5 2zm0 3zm2 1zm-5 1zm7 6zm-3 1zm-8 1zm11 4zm-11 1zm6 0zm-6 0zm9 1zm-5 3zm-1 1zm-1 7zm4 3zm-4 6zm-2 1zm6 2zm-2 1zm-4 1zm0 2zm1 3zm3 9zm0 3zm-3 63zm18-252zm-1 16zm-1 10zm3 3zm-8 5zm5 9zm1 10zm-1 2zm6 6zm-2 1zm-5 1zm1 5zm2 0zm-5 1zm1 7zm3 3zm4 3zm-6 4zm0 1zm3 5zm3 3zm1 0zm-5 1zm-1 4zm-4 3zm6 0zm-2 1zm-2 4zm6 0zm-9 1zm3 2zm-1 0zm9 1zm-9 0zm4 4zm-1 3zm6 3zm-5 6zm1 1zm-7 4zm4 7zm0 16zm-3 3zm3 10zm7 3zm-7 1zm6 7zm1 1zm-3 1zm2 11zm-2 1zm-8 7zm0 10zm4 4zm-2 16zm8 0zm8-230zm2 9zm-3 14zm1 8zm-6 1zm2 18zm0 1zm0 5zm4 4zm-3 4zm6 3zm2 0zm-4 21zm1 5zm-6 5zm-2 5zm11 1zm-10 10zm3 0zm-4 1zm9 4zm-2 6zm-6 0zm8 1zm0 1zm-7 1zm7 2zm-1 2zm3 1zm-9 3zm3 2zm-3 0zm7 26zm-4 6zm0 8zm3 0zm-5 20zm-3 3zm3 2zm-1 3zm1 29zm12-229zm-3 3zm2 23zm-2 7zm4 33zm-1 4zm-1 17zm8 6zm-8 2zm5 9zm-7 0zm7 1zm-4 0zm6 2zm-5 12zm5 11zm-7 8zm-2 1zm0 1zm4 5zm0 6zm1 5zm-1 2zm-4 10zm3 0zm-2 3zm5 21zm-6 24zm7 13zm1 15zm7-268zm6 56zm0 4zm-9 7zm4 6zm4 2zm-8 24zm2 1zm2 6zm1 1zm-2 7zm4 11zm-6 5zm-1 11zm5 16zm0 29zm-1 34zm-1 26zm18-218zm-4 14zm-3 0zm-1 29zm7 5zm-7 7zm4 21zm-5 10zm11 11zm-7 3zm7 8zm-8 9zm4 1zm1 10zm-2 17zm-2 5zm0 15zm-4 3zm4 5zm7 57zm11-181zm-4 13zm-1 2zm6 4zm0 2zm-2 33zm-7 6zm1 19zm-2 18zm10 29zm-4 10zm8-250zm-1 97zm2 32zm1 34zm-4 10zm2 42zm8 16zm2-223zm0 74zm4 19zm1 66zm23 19zm17-10zm-10 38z"/>
</g>
<rect class="t" x="0" y="0" width="340.5" height="338.6"/>
<path class="t" d="M28.5 338.6v3.5M0 310.6h-3.5M99.3 338.6v3.5M0 240.1h-3.5M170.1 338.6v3.5M0 169.7h-3.5M240.9 338.6v3.5M0 99.3h-3.5M311.6 338.6v3.5M0 28.8h-3.5"/>
<text class="tl" x="28.5" y="358.3" text-anchor="middle">−5.0</text><text class="tl" x="-8.0" y="316.8" text-anchor="end">−5.0</text>
<text class="tl" x="99.3" y="358.3" text-anchor="middle">−2.5</text><text class="tl" x="-8.0" y="246.3" text-anchor="end">−2.5</text>
<text class="tl" x="170.1" y="358.3" text-anchor="middle">0.0</text><text class="tl" x="-8.0" y="175.9" text-anchor="end">0.0</text>
<text class="tl" x="240.9" y="358.3" text-anchor="middle">2.5</text><text class="tl" x="-8.0" y="105.5" text-anchor="end">2.5</text>
<text class="tl" x="311.6" y="358.3" text-anchor="middle">5.0</text><text class="tl" x="-8.0" y="35.0" text-anchor="end">5.0</text>
<text class="ti" x="170.0" y="-5.6" text-anchor="middle">4.4 Photons / Symbol</text>
<text class="al" x="170.0" y="380.1" text-anchor="middle">I Quadrature [SNU]</text>
<text class="al" transform="translate(-55 169.3) rotate(-90)" text-anchor="middle">Q Quadrature [SNU]</text>
<g transform="translate(271.3 6.0)"><rect x="0" y="0" width="62.4" height="94.7" rx="2.8" fill="#fff" fill-opacity=".8" stroke="#ccc" stroke-opacity=".8" stroke-width="1.1"/><text class="lt" x="31.2" y="16" text-anchor="middle">Symbol</text><circle cx="22.8" cy="31.3" r="6.15" fill="#1f77b4"/><text class="le" x="44.9" y="34.6">0</text><circle cx="22.8" cy="49.1" r="6.15" fill="#ff7f0e"/><text class="le" x="44.9" y="52.4">1</text><circle cx="22.8" cy="66.9" r="6.15" fill="#2ca02c"/><text class="le" x="44.9" y="70.2">2</text><circle cx="22.8" cy="84.7" r="6.15" fill="#d62728"/><text class="le" x="44.9" y="88.0">3</text></g>
</g>
<g transform="translate(940.3 20.5)">
<path class="g" d="M28.7 0V338.6M0 310.6H340.5M99.5 0V338.6M0 240.1H340.5M170.3 0V338.6M0 169.7H340.5M241.0 0V338.6M0 99.3H340.5M311.8 0V338.6M0 28.8H340.5"/>
<g clip-path="url(#c)">
<path class="d" stroke="#1f77b4" transform="scale(.5)" style="stroke-width:6.8" d="M123 331zm96-48zm20 40zm-5 54zm-5 32zm17-132zm-4 21zm2 2zm7 1zm-1 36zm-10 18zm10 10zm-4 15zm12-172zm4 16zm-2 15zm3 2zm-3 10zm-1 6zm-3 18zm4 3zm-2 23zm2 38zm-2 31zm-4 3zm7 4zm1 13zm-5 8zm-3 28zm7 11zm9-267zm-6 21zm1 81zm0 8zm2 8zm-1 11zm5 0zm-1 7zm1 3zm-7 0zm9 2zm0 2zm-4 2zm2 4zm-4 0zm2 2zm2 1zm-7 10zm4 0zm1 19zm-5 0zm6 4zm0 30zm-2 22zm-2 8zm11-175zm4 5zm0 1zm3 5zm1 3zm2 18zm-1 1zm-6 0zm2 7zm-2 3zm0 2zm4 7zm-1 7zm-3 4zm0 1zm5 1zm-3 0zm-6 1zm1 12zm4 0zm-3 7zm4 6zm-1 3zm-2 0zm2 4zm-5 2zm3 9zm8 2zm-4 4zm3 5zm-1 1zm2 6zm-11 5zm6 6zm2 2zm-2 6zm1 35zm3 29zm4-251zm2 13zm7 13zm-5 6zm-3 9zm8 11zm-5 5zm3 3zm-5 9zm-3 21zm9 1zm1 1zm-9 11zm9 0zm-8 6zm2 3zm1 19zm5 1zm-3 2zm-5 2zm-3 10zm0 6zm6 1zm-1 11zm2 7zm2 4zm-6 28zm5 26zm10-206zm2 1zm0 3zm-3 9zm6 4zm-2 12zm-1 12zm-3 1zm2 7zm1 8zm-8 2zm4 2zm1 4zm4 2zm-1 4zm-8 6zm0 11zm11 3zm-8 1zm8 3zm-4 1zm3 3zm-1 1zm1 3zm-5 1zm-2 0zm4 1zm-5 2zm7 2zm2 2zm-7 0zm7 1zm-3 8zm-3 9zm4 1zm-1 6zm2 2zm0 5zm-6 2zm4 1zm3 1zm-5 0zm0 7zm-3 8zm0 0zm2 20zm5 6zm-9 13zm-1 1zm10 6zm13-218zm-5 14zm5 11zm-2 31zm-9 3zm1 4zm8 3zm-7 5zm6 4zm-6 1zm5 0zm2 2zm1 8zm-7 6zm2 5zm5 0zm-1 0zm-4 2zm6 2zm-1 4zm1 3zm-2 2zm0 1zm-2 1zm-4 6zm-2 0zm10 3zm-6 2zm-2 8zm8 1zm-1 1zm-7 7zm8 3zm-11 2zm6 0zm-5 1zm-1 2zm11 20zm-7 4zm2 0zm-4 5zm5 1zm-1 10zm-5 6zm10 0zm-10 8zm7 3zm-2 7zm0 0zm-2 56zm9-318zm2 26zm-3 2zm5 45zm4 2zm-5 3zm-1 3zm-1 0zm6 3zm2 3zm1 0zm-6 5zm1 4zm-6 2zm9 6zm-5 6zm-4 4zm2 2zm1 2zm-1 1zm-1 2zm8 2zm-4 2zm-3 2zm1 3zm8 4zm-3 0zm-7 1zm2 1zm-2 7zm1 4zm-1 1zm9 0zm0 1zm-4 3zm1 3zm-1 1zm4 0zm-6 8zm1 4zm1 0zm-4 2zm0 3zm2 1zm-1 1zm-1 4zm-2 1zm5 6zm3 1zm-1 5zm-1 12zm5 4zm-3 2zm-8 3zm5 2zm1 2zm1 15zm-5 0zm6 1zm0 13zm0 2zm-3 1zm-1 2zm-4 0zm2 3zm-1 0zm15-235zm-1 19zm8 9zm-2 4zm1 13zm-1 11zm-3 17zm0 10zm4 2zm-10 3zm4 1zm7 4zm-8 2zm-3 8zm5 2zm3 2zm-3 0zm-5 2zm2 1zm7 1zm1 2zm-5 0zm-4 1zm9 11zm-4 1zm4 5zm-7 2zm5 4zm2 0zm-4 2zm-3 8zm-1 0zm6 1zm-8 1zm4 1zm5 6zm2 8zm-9 2zm8 10zm-8 4zm4 0zm1 8zm1 2zm-7 1zm0 1zm4 6zm5 5zm-9 11zm2 2zm-1 8zm8 4zm-6 6zm3 6zm-2 4zm-1 18zm11-258zm-1 26zm0 26zm4 2zm-1 9zm-5 0zm0 3zm10 6zm-5 5zm-4 1zm7 5zm3 6zm-5 6zm4 2zm-10 0zm6 5zm0 3zm5 2zm-7 4zm3 3zm3 2zm-1 1zm-3 10zm2 0zm-2 1zm-3 1zm-2 0zm4 2zm4 2zm-7 1zm9 4zm0 4zm-2 0zm2 5zm-5 1zm-3 1zm2 5zm2 0zm-6 1zm1 1zm4 12zm-3 1zm2 1zm2 1zm-5 1zm2 0zm5 0zm-6 6zm-2 2zm7 0zm2 1zm-5 2zm5 15zm-2 0zm3 3zm-2 1zm-7 1zm7 0zm-7 10zm1 0zm-2 2zm4 4zm5 7zm-5 12zm3 1zm-1 2zm-6 13zm1 4zm5 38zm15-316zm-8 65zm-2 3zm6 5zm0 2zm-1 16zm2 3zm4 5zm-5 2zm-6 10zm11 2zm-11 5zm1 0zm4 4zm3 0zm-2 0zm0 11zm-1 0zm2 2zm3 0zm-8 0zm7 1zm-3 0zm-4 1zm2 4zm4 2zm-8 0zm6 1zm1 0zm-6 2zm9 1zm-1 0zm-4 2zm1 1zm-4 3zm6 4zm3 0zm-1 7zm-3 0zm-4 2zm-2 2zm9 1zm-3 0zm-2 1zm2 3zm-3 2zm4 0zm1 0zm0 0zm1 9zm-5 4zm-1 5zm1 14zm1 1zm-5 2zm8 6zm-9 1zm7 4zm-4 0zm-3 0zm3 3zm6 9zm-3 3zm-3 2zm4 0zm0 6zm4 4zm-11 2zm7 8zm-6 8zm1 4zm13-231zm-1 16zm9 1zm-11 7zm7 10zm1 3zm-6 3zm6 1zm-5 8zm5 4zm-6 10zm5 0zm-1 3zm-1 0zm-2 4zm8 1zm-8 4zm4 2zm2 3zm-5 2zm-4 2zm11 4zm-3 1zm-5 1zm-2 2zm7 0zm3 5zm-10 4zm7 1zm-5 6zm6 2zm0 1zm-2 2zm-3 2zm6 3zm-2 1zm1 1zm-4 1zm-2 2zm7 1zm-4 1zm-6 6zm8 1zm-1 6zm-3 0zm0 3zm-3 2zm6 0zm-5 4zm5 2zm-6 2zm-1 1zm2 1zm7 5zm-6 2zm5 10zm0 3zm-7 7zm9 3zm-10 4zm8 1zm-6 4zm4 0zm0 4zm-5 3zm10 8zm-4 6zm-7 25zm7 3zm0 3zm-2 7zm6 6zm6-312zm-2 25zm-1 6zm1 19zm2 11zm0 2zm-5 9zm10 3zm-3 4zm3 2zm-5 7zm-4 3zm8 1zm-7 5zm1 4zm-1 5zm0 4zm0 0zm8 1zm-5 2zm3 3zm-1 11zm-7 3zm11 1zm-7 14zm4 1zm-2 5zm-6 0zm11 3zm-8 0zm1 4zm7 3zm-2 2zm-8 10zm2 2zm-3 2zm9 1zm-8 2zm1 3zm5 0zm0 1zm2 1zm-6 0zm-2 1zm0 2zm0 1zm9 12zm1 2zm-5 2zm-5 0zm3 0zm4 1zm-3 3zm0 7zm-1 4zm-4 5zm6 4zm-3 6zm-2 0zm7 6zm-3 7zm5 11zm-6 1zm2 10zm2 3zm-3 10zm-1 1zm-4 16zm21-285zm-4 29zm-1 23zm3 18zm0 1zm-7 6zm0 8zm6 3zm-6 4zm8 0zm1 0zm-1 8zm-5 12zm2 11zm2 2zm-1 0zm-3 1zm-1 0zm-2 2zm8 1zm-4 1zm5 9zm0 4zm-6 5zm0 3zm-1 6zm7 1zm-4 0zm5 1zm-10 6zm8 0zm-8 8zm10 7zm-4 2zm-5 2zm7 4zm-6 8zm1 7zm-1 3zm1 3zm3 6zm-3 5zm1 7zm2 2zm-3 4zm4 5zm-2 16zm1 10zm10-225zm1 18zm3 4zm-7 1zm10 5zm-8 13zm2 7zm0 1zm6 3zm-10 22zm9 6zm-1 9zm-7 3zm-1 3zm4 2zm-1 1zm3 9zm-3 4zm0 0zm7 3zm-5 3zm-2 12zm5 7zm0 1zm0 5zm-5 9zm-1 7zm3 0zm-3 2zm7 0zm-3 1zm2 0zm-9 3zm0 5zm10 1zm-9 13zm6 4zm0 9zm-7 2zm6 13zm-6 7zm8 11zm-5 12zm12-210zm2 8zm2 13zm-2 5zm1 11zm-1 8zm-1 18zm0 4zm-2 7zm1 15zm2 4zm0 1zm6 3zm-8 4zm8 10zm-8 0zm8 10zm-7 0zm-1 0zm-3 0zm7 1zm-1 2zm-3 14zm0 12zm-1 11zm-1 5zm3 17zm-2 28zm12-226zm-2 18zm9 0zm-9 4zm3 1zm7 23zm-1 2zm-8 3zm8 16zm-6 1zm5 16zm-2 4zm-3 2zm-2 1zm5 4zm-4 10zm0 9zm1 13zm-1 17zm4 19zm2 8zm-5 2zm5 7zm-2 6zm1 4zm-7 34zm1 68zm16-277zm4 11zm-9 19zm8 18zm-1 6zm-2 9zm-4 9zm-1 5zm2 10zm-1 0zm8 1zm2 10zm-11 9zm9 26zm-1 16zm-6 11zm-2 9zm17-207zm4 48zm-4 33zm3 6zm-1 9zm-7 8zm10 16zm1 11zm-2 16zm2 68zm11-165zm-7 40zm-2 18zm5 2zm-6 16zm3 2zm0 1zm-3 1zm2 14zm9 10zm-10 3zm-1 7zm10 25zm-10 5zm11 7zm-10 20zm18-125zm-2 12zm6 18zm-1 2zm-3 8zm3 46zm-5 0zm17-138zm-9 14zm6 96zm-6 6zm21-95zm-5 57zm-3 36zm14-48zm7 30zm-4 0zm6-126zm0 194z"/>
<path class="d" stroke="#ff7f0e" transform="scale(.5)" style="stroke-width:6.8" d="M114 415zm6-200zm11 34zm44 87zm2 9zm9-48zm0 33zm4 4zm0 5zm5-110zm2 15zm2 59zm0 3zm1 8zm2 13zm-10 58zm3 44zm14-195zm5 34zm-3 8zm-5 7zm8 19zm-4 16zm4 1zm-4 1zm5 11zm-3 0zm1 11zm0 1zm-3 3zm-3 23zm6 3zm-1 19zm1 21zm-1 8zm1 19zm10-244zm0 81zm-4 13zm7 5zm-6 33zm-4 20zm4 4zm-4 2zm7 3zm-3 14zm2 20zm15-146zm-3 28zm-4 12zm-1 5zm1 3zm2 12zm4 5zm1 7zm2 15zm-11 11zm2 10zm7 4zm0 10zm-4 7zm5 7zm0 5zm-4 27zm11-180zm5 10zm-1 18zm-9 7zm3 1zm8 4zm-4 0zm-2 7zm2 16zm-6 1zm-1 0zm8 1zm1 3zm-1 10zm-8 5zm7 3zm-7 4zm5 1zm6 0zm-2 6zm2 3zm-10 16zm0 2zm5 5zm-1 2zm-4 1zm2 2zm7 3zm0 8zm0 2zm-6 4zm-1 6zm3 22zm5 33zm4-268zm2 45zm6 6zm-6 7zm-2 13zm2 23zm0 3zm6 6zm-9 8zm5 3zm2 5zm-5 7zm7 2zm-10 6zm1 1zm9 1zm-8 18zm2 1zm4 1zm-2 0zm1 1zm-8 1zm4 2zm0 7zm0 2zm-2 8zm7 0zm-2 6zm-3 1zm-3 2zm4 1zm1 4zm1 15zm-3 5zm1 16zm-2 13zm7 12zm8-192zm-4 11zm5 22zm-6 2zm9 1zm-4 1zm-5 5zm9 5zm0 2zm0 5zm-1 1zm-4 2zm6 0zm-5 6zm-6 1zm0 1zm5 1zm3 6zm-7 0zm4 3zm1 0zm-6 1zm8 0zm0 8zm3 0zm-2 3zm-4 1zm3 2zm-7 5zm1 2zm2 3zm3 2zm-3 0zm5 9zm0 1zm-9 5zm6 2zm5 1zm-7 9zm-4 1zm4 11zm-3 6zm0 9zm9 1zm-7 17zm8 9zm-3 16zm0 2zm2 8zm12-258zm-3 33zm-4 4zm-3 1zm5 20zm5 2zm-4 0zm4 5zm-1 1zm-9 4zm11 2zm-1 6zm-8 1zm8 4zm-4 15zm5 2zm-6 9zm5 5zm-10 1zm7 2zm3 1zm-8 2zm7 3zm-5 4zm4 1zm3 2zm-6 1zm0 0zm2 1zm-1 1zm-2 0zm-1 1zm6 0zm-9 1zm1 4zm5 6zm4 8zm-4 1zm-6 3zm1 3zm7 2zm-8 1zm10 0zm-5 8zm1 9zm-5 2zm2 2zm0 9zm3 7zm5 0zm-6 5zm5 8zm-9 1zm0 2zm-1 12zm10 8zm1 7zm11-271zm-2 52zm-7 29zm2 9zm-2 0zm2 3zm1 6zm3 9zm3 5zm-9 1zm7 2zm0 13zm-3 1zm-1 1zm0 2zm7 0zm-8 4zm0 0zm2 2zm0 0zm-4 1zm10 1zm-10 3zm5 5zm4 0zm-1 2zm-5 4zm3 1zm3 4zm-6 0zm0 0zm0 1zm5 4zm-2 0zm-7 0zm4 6zm-2 3zm-1 1zm9 1zm-2 2zm2 0zm-2 2zm-7 6zm9 1zm1 4zm-10 1zm7 4zm-3 3zm4 5zm-5 0zm-2 1zm7 2zm-2 2zm-5 2zm-2 3zm3 4zm4 2zm2 0zm-4 1zm4 4zm-9 1zm2 1zm2 1zm-3 2zm2 1zm3 9zm2 8zm2 9zm-7 6zm4 3zm4 16zm-9 14zm-2 2zm3 20zm17-241zm1 0zm-8 10zm-1 3zm11 4zm-1 3zm-5 3zm0 3zm1 1zm-5 0zm2 1zm1 1zm-2 5zm9 2zm-9 2zm-2 3zm2 14zm7 4zm-3 1zm3 4zm-1 1zm2 0zm-8 0zm5 1zm0 1zm2 3zm-3 2zm4 3zm-7 3zm1 0zm2 1zm-4 3zm0 0zm7 4zm-1 1zm-3 0zm0 2zm5 0zm-8 2zm-2 1zm7 1zm-3 1zm5 6zm-5 1zm-1 3zm2 4zm1 2zm0 6zm-3 1zm0 6zm6 3zm-3 1zm2 4zm-6 4zm2 3zm-1 2zm2 1zm-4 1zm5 1zm-2 2zm2 5zm0 2zm3 1zm-7 2zm5 10zm-6 6zm-1 4zm7 16zm-5 3zm20-218zm-4 3zm-3 1zm4 12zm-4 7zm5 1zm-1 3zm-3 5zm2 9zm-6 5zm2 4zm3 3zm2 5zm1 8zm-6 12zm1 2zm7 16zm-9 3zm5 3zm-5 4zm1 4zm6 1zm-8 0zm3 1zm7 1zm-10 1zm10 4zm-2 2zm-8 1zm10 7zm-5 2zm1 0zm0 5zm2 1zm2 1zm0 1zm0 8zm-10 1zm0 0zm0 3zm3 1zm7 0zm-9 6zm1 1zm0 2zm3 4zm-2 4zm-1 0zm0 1zm-2 12zm6 0zm-3 0zm4 3zm-7 0zm6 0zm-1 10zm-5 2zm1 4zm2 1zm-2 1zm9 8zm-7 3zm8 5zm-8 2zm8 0zm4-241zm-3 17zm0 5zm0 22zm0 9zm3 9zm3 2zm2 8zm0 1zm-6 4zm3 2zm4 0zm-7 2zm7 17zm0 5zm-6 1zm0 2zm3 1zm4 6zm-7 0zm3 1zm0 2zm4 1zm-4 0zm2 0zm0 2zm-8 2zm7 2zm3 0zm0 5zm-5 3zm6 1zm-4 0zm-7 2zm8 5zm2 3zm-2 1zm-5 7zm6 2zm2 1zm-5 4zm-3 0zm4 2zm3 1zm-6 3zm6 2zm1 0zm-10 1zm4 0zm6 2zm0 5zm-11 1zm11 6zm-11 1zm1 1zm2 0zm4 4zm2 9zm2 7zm-8 1zm2 11zm0 3zm-2 1zm7 19zm-8 5zm2 6zm2 40zm16-276zm-9 17zm9 0zm-3 7zm-4 4zm4 7zm-6 0zm5 0zm2 2zm-6 6zm9 0zm-5 8zm3 3zm-5 11zm2 2zm2 2zm-8 7zm9 4zm-5 7zm0 0zm4 4zm1 0zm-7 5zm7 5zm-3 1zm-2 0zm1 3zm-4 1zm0 0zm3 1zm3 5zm1 3zm-3 3zm3 1zm0 2zm-3 5zm1 1zm1 4zm-5 0zm3 1zm2 1zm-4 0zm3 8zm3 5zm-2 2zm-2 7zm-3 1zm3 6zm-4 0zm-1 2zm3 1zm5 2zm-4 2zm3 1zm1 1zm-6 2zm0 3zm8 4zm-2 1zm-7 1zm8 2zm-4 8zm-3 21zm4 16zm0 1zm-1 5zm-3 40zm10-264zm1 13zm10 14zm-9 8zm7 7zm1 4zm-4 5zm-5 1zm-1 5zm11 2zm-3 2zm-1 8zm2 8zm-2 1zm1 2zm-6 3zm4 8zm2 6zm-2 0zm4 3zm-8 2zm0 2zm5 3zm-4 6zm4 2zm-7 0zm10 2zm1 0zm-8 3zm1 2zm3 0zm-6 4zm9 6zm-7 0zm-1 6zm3 1zm-5 0zm11 2zm0 4zm-9 2zm6 5zm-8 10zm9 6zm-7 11zm-1 7zm2 7zm2 1zm0 21zm-1 2zm19-207zm-5 1zm0 43zm-2 11zm3 4zm-6 1zm1 5zm2 2zm0 0zm-1 3zm2 4zm1 2zm-4 4zm7 1zm0 1zm-8 3zm-1 7zm5 4zm-1 1zm4 0zm-2 7zm-6 8zm6 4zm-2 3zm3 7zm-5 3zm7 0zm-6 2zm2 0zm-3 6zm5 2zm1 1zm3 5zm-7 1zm-2 4zm0 2zm-1 5zm3 7zm7 7zm-4 21zm-5 4zm0 7zm4 5zm11-259zm-2 47zm8 4zm-10 32zm0 29zm0 3zm9 1zm-4 1zm5 1zm-9 5zm-2 0zm7 2zm1 3zm1 5zm-8 2zm5 2zm1 3zm3 7zm-2 2zm-3 0zm0 1zm-5 2zm2 1zm8 0zm-9 5zm5 2zm-6 16zm10 5zm-2 0zm-8 1zm9 10zm-5 16zm4 1zm0 9zm3 7zm-9 13zm-2 25zm14-259zm4 47zm0 1zm-3 10zm-3 7zm6 2zm0 1zm5 3zm-9 6zm8 7zm-10 4zm3 13zm8 7zm-7 6zm-1 1zm5 6zm0 3zm1 2zm-6 4zm3 1zm-5 6zm7 2zm-4 2zm-3 2zm2 15zm8 0zm-6 3zm0 2zm-4 5zm2 5zm1 3zm-2 3zm1 2zm-2 4zm-1 0zm7 8zm-1 1zm5 2zm-2 1zm-4 10zm3 5zm-8 29zm0 6zm17-230zm1 14zm2 28zm-6 13zm3 4zm-1 4zm-2 9zm-2 5zm11 5zm-11 1zm11 18zm-3 2zm1 1zm-1 0zm3 10zm-6 1zm1 7zm-6 11zm7 2zm0 13zm0 7zm-1 0zm-5 10zm7 6zm-2 4zm-2 5zm6 2zm1 2zm-7 1zm3 10zm-4 24zm5 1zm-8 2zm14-221zm-2 32zm3 1zm4 31zm-5 5zm1 31zm8 5zm-4 58zm-1 2zm-6 6zm3 36zm19-152zm-9 27zm0 34zm3 2zm3 12zm-1 4zm4 60zm-8 12zm15-155zm4 44zm2 6zm-1 14zm-5 2zm-1 28zm2 2zm-1 1zm-3 35zm20-107zm-10 14zm20-11zm-8 57zm7 11zm3 46zm2-115zm16-68zm-4 92z"/>
<path class="d" stroke="#2ca02c" transform="scale(.5)" style="stroke-width:6.8" d="M104 422zm46-125zm-2 30zm16 33zm-3 16zm15-62zm0 60zm1 83zm9-139zm-4 58zm0 97zm15-197zm-4 24zm6 51zm3 1zm-1 34zm12-115zm1 45zm-4 20zm-5 2zm6 21zm0 1zm-5 10zm18-121zm-7 18zm1 6zm9 2zm-10 8zm6 21zm0 7zm2 5zm2 8zm-8 6zm6 4zm2 8zm-7 24zm1 20zm-3 8zm7 4zm-8 26zm22-211zm-7 57zm1 39zm-3 3zm7 2zm-1 2zm0 11zm-7 0zm5 2zm-2 15zm-1 2zm-1 5zm2 0zm6 7zm-1 4zm-9 8zm10 13zm1 3zm-1 1zm-10 4zm8 5zm-3 13zm2 4zm1 4zm10-170zm-2 24zm4 3zm-7 27zm4 7zm5 3zm0 4zm-10 4zm4 6zm7 0zm-6 3zm1 3zm0 3zm0 6zm-3 1zm-1 5zm7 10zm-4 5zm1 1zm-5 5zm5 4zm1 15zm-7 1zm10 2zm-4 0zm1 0zm4 1zm0 2zm-5 8zm-2 13zm4 1zm-7 3zm8 3zm-8 24zm1 53zm10-264zm4 47zm6 1zm-6 5zm3 4zm-1 5zm5 6zm-5 5zm-1 2zm0 9zm4 0zm-5 0zm7 1zm-8 1zm2 1zm2 3zm4 8zm-9 5zm7 9zm-7 1zm1 4zm-3 3zm4 11zm2 4zm5 2zm-8 3zm8 5zm-6 1zm-5 16zm3 2zm1 5zm3 2zm1 14zm-2 2zm-4 19zm9 0zm-3 4zm0 12zm-4 40zm10-225zm3 2zm5 7zm-2 1zm1 7zm0 11zm-7 7zm6 1zm-1 1zm3 0zm-8 1zm-2 4zm9 3zm-5 2zm-1 6zm7 3zm0 6zm-2 8zm2 1zm-3 4zm0 1zm1 2zm-5 6zm8 0zm-5 6zm5 3zm-5 1zm5 0zm-10 4zm9 7zm1 2zm-2 3zm0 0zm-4 1zm3 2zm2 4zm-3 1zm-3 3zm5 1zm-4 2zm-3 3zm5 1zm-7 2zm1 1zm10 6zm-7 0zm2 5zm-3 3zm-2 27zm5 3zm2 1zm-6 7zm-2 6zm1 32zm0 2zm5 0zm7-244zm4 39zm5 15zm0 2zm-4 0zm1 1zm2 7zm-5 1zm2 4zm1 1zm-3 7zm-4 5zm8 2zm2 0zm0 3zm-3 3zm-1 1zm3 0zm0 7zm-1 0zm0 1zm-4 8zm2 1zm-4 3zm-2 2zm9 9zm-6 0zm-1 4zm5 0zm-7 7zm11 6zm0 4zm-8 6zm7 2zm-10 0zm10 0zm-9 3zm3 7zm7 0zm-6 3zm-5 0zm9 3zm-9 2zm5 2zm-5 9zm1 2zm6 4zm4 3zm-3 22zm-3 10zm13-255zm5 31zm-9 22zm1 3zm-1 13zm7 3zm-8 3zm1 3zm2 2zm1 8zm0 2zm2 11zm-4 3zm2 2zm-1 3zm2 8zm1 1zm4 2zm-10 2zm-1 2zm10 2zm0 2zm-1 1zm-9 3zm6 1zm-3 4zm0 8zm-3 1zm10 3zm-8 1zm-1 2zm6 1zm4 2zm0 1zm-11 2zm5 3zm4 1zm0 0zm-3 1zm-3 3zm5 1zm0 1zm-6 2zm2 0zm3 8zm-2 4zm1 4zm-1 7zm-3 2zm3 3zm-2 1zm8 9zm-11 0zm3 3zm-2 1zm5 3zm-1 16zm6 2zm-11 5zm9 6zm2 53zm-6 8zm7-290zm6 5zm3 19zm2 13zm-11 3zm5 3zm2 0zm-5 0zm8 1zm-1 12zm1 11zm1 1zm-10 0zm8 3zm-6 4zm7 1zm0 0zm-6 4zm7 5zm-10 0zm7 1zm-2 2zm-5 4zm7 1zm1 0zm-4 1zm0 1zm1 2zm1 4zm-7 2zm9 1zm-8 1zm3 0zm2 1zm-1 0zm1 21zm-4 3zm1 10zm7 1zm-4 3zm-3 1zm3 5zm-2 1zm5 11zm-4 0zm-2 6zm6 2zm-7 1zm8 0zm-5 3zm6 0zm-3 3zm2 0zm-7 0zm7 3zm-1 1zm-2 4zm-6 3zm5 0zm-6 0zm8 6zm-7 6zm4 5zm-4 7zm1 14zm3 4zm3 2zm6-239zm2 16zm0 3zm6 20zm-4 2zm1 9zm-6 5zm3 7zm0 1zm1 5zm-2 4zm8 5zm-4 1zm0 4zm-5 3zm4 6zm0 7zm-5 8zm2 3zm3 3zm0 6zm-6 2zm4 2zm0 0zm1 3zm4 1zm-6 7zm0 6zm6 3zm2 1zm-1 1zm-4 0zm3 3zm2 8zm-7 0zm3 3zm-6 12zm-1 1zm6 1zm1 2zm-6 4zm-1 1zm7 11zm-3 5zm6 3zm-4 0zm-1 4zm-1 5zm0 5zm-3 13zm0 4zm0 40zm16-259zm-2 8zm-1 3zm2 4zm1 13zm2 11zm0 2zm-3 2zm2 7zm3 2zm2 0zm-4 1zm1 13zm3 2zm0 4zm-3 1zm-5 3zm0 1zm-2 0zm3 1zm2 1zm-6 4zm4 1zm1 0zm3 4zm-2 3zm0 2zm-2 0zm6 1zm-3 3zm-2 1zm2 2zm2 7zm-6 2zm6 1zm-6 0zm8 1zm0 7zm-2 1zm-4 1zm-2 2zm8 7zm-8 3zm-3 1zm8 2zm-2 7zm-4 0zm6 3zm-3 2zm-3 1zm1 0zm6 1zm-1 5zm2 4zm0 1zm-7 6zm-2 1zm8 0zm-5 1zm7 4zm-11 8zm1 1zm9 8zm-1 20zm-3 7zm-4 0zm1 15zm2 7zm-5 22zm16-250zm0 9zm-1 3zm0 5zm7 7zm-8 9zm6 9zm-7 5zm10 8zm0 3zm-1 1zm-5 1zm-4 1zm5 1zm-2 3zm0 2zm-4 5zm3 3zm5 7zm-1 3zm0 4zm-3 2zm-1 15zm0 3zm0 3zm2 2zm-4 2zm7 7zm-4 0zm-3 1zm6 2zm1 1zm-6 3zm6 1zm1 1zm-9 0zm5 3zm3 0zm3 1zm-3 3zm-4 2zm3 1zm-1 1zm-1 1zm5 3zm-2 2zm-4 2zm-3 3zm6 5zm2 1zm-7 7zm1 9zm4 3zm-5 5zm6 9zm-4 7zm-2 2zm8 2zm-4 0zm-1 19zm0 5zm4 36zm13-252zm-7 3zm6 12zm-3 2zm1 3zm-4 5zm0 3zm-1 1zm9 0zm-4 2zm-3 2zm-4 1zm1 0zm0 4zm4 1zm5 5zm-6 1zm3 1zm-7 3zm6 3zm4 4zm-7 0zm2 8zm-2 5zm-3 0zm10 1zm-10 1zm2 1zm9 1zm-5 6zm-6 1zm9 2zm-9 5zm10 0zm-6 5zm5 0zm-6 1zm-2 1zm10 1zm-8 4zm-2 1zm3 3zm-1 0zm3 3zm0 3zm4 0zm-4 0zm5 0zm-4 2zm4 1zm-8 1zm-1 3zm1 1zm-1 2zm3 3zm-5 1zm7 3zm-2 1zm-5 3zm7 2zm-1 9zm-3 3zm6 6zm-9 1zm2 15zm9 1zm-4 5zm-7 3zm2 1zm-1 0zm5 4zm0 15zm0 8zm-5 14zm21-242zm-3 4zm-6 23zm10 4zm-8 6zm7 3zm-9 20zm4 1zm-5 1zm11 10zm0 6zm-1 8zm-7 0zm2 0zm-1 3zm0 1zm-4 2zm9 2zm2 1zm-4 0zm1 2zm-8 6zm5 1zm0 4zm-3 1zm3 1zm-3 2zm3 1zm-2 2zm7 0zm0 11zm-6 0zm-2 7zm1 6zm8 3zm-11 0zm11 4zm-3 1zm-4 0zm-1 1zm2 5zm5 0zm-9 2zm2 6zm2 0zm4 0zm-4 2zm2 4zm-6 5zm9 9zm-3 3zm-5 2zm2 1zm2 0zm-1 1zm5 6zm-6 14zm5 2zm-6 0zm3 1zm4 3zm-8 8zm5 5zm0 15zm-3 11zm12-241zm0 38zm-3 7zm0 1zm6 2zm-4 3zm4 1zm-2 4zm-5 3zm7 13zm-3 6zm-3 7zm7 0zm-7 11zm2 1zm7 1zm-5 9zm-1 2zm4 15zm-1 1zm-5 2zm0 7zm-1 4zm9 1zm-9 2zm8 2zm-6 4zm-2 3zm9 3zm-4 14zm4 9zm1 1zm-2 2zm-9 4zm2 4zm-1 7zm0 5zm8 7zm-6 2zm5 10zm3 11zm2-241zm4 6zm0 45zm-3 1zm5 6zm0 2zm2 1zm1 9zm-10 15zm2 0zm-2 12zm10 5zm-2 12zm3 13zm-7 5zm6 3zm-1 1zm-3 1zm0 0zm-6 2zm0 8zm1 5zm0 9zm1 1zm-1 5zm5 6zm-4 10zm9 2zm-3 32zm-2 13zm1 9zm-1 31zm11-271zm-3 13zm-1 2zm1 23zm8 19zm-6 17zm0 20zm-2 14zm7 6zm-7 1zm1 4zm-2 3zm2 6zm5 21zm1 3zm-6 2zm1 2zm-3 15zm1 3zm-1 2zm0 9zm2 14zm9-152zm8 8zm-2 12zm4 7zm-1 22zm-6 4zm1 20zm1 7zm0 4zm5 5zm-9 15zm3 11zm1 3zm3 13zm-2 15zm-2 12zm0 9zm16-139zm-8 15zm0 2zm10 16zm-1 21zm-3 0zm1 26zm-2 12zm14-105zm4 112zm-11 12zm20-80zm-7 65zm9 16zm-8 5zm3 16zm11-72zm11 2z"/>
<path class="d" stroke="#d62728" transform="scale(.5)" style="stroke-width:6.8" d="M200 385zm26-45zm-3 30zm3 1zm-8 1zm16-58zm3 10zm1 10zm-5 8zm-2 2zm2 33zm-4 2zm3 7zm2 59zm12-148zm1 34zm-2 5zm3 3zm3 0zm-3 26zm-4 18zm-2 123zm14-244zm0 7zm2 13zm3 10zm0 7zm-3 34zm-3 6zm-2 29zm9 1zm-1 7zm-8 3zm0 4zm5 4zm2 33zm-5 55zm16-190zm1 4zm-5 15zm0 1zm5 2zm-8 2zm9 4zm-2 18zm4 2zm-8 15zm6 2zm-9 16zm2 32zm5 2zm1 3zm6-171zm0 2zm6 39zm3 7zm-6 0zm0 13zm-2 20zm2 1zm-5 25zm5 6zm-2 9zm1 4zm4 5zm-2 0zm5 1zm-10 1zm8 0zm0 7zm-6 4zm-3 0zm9 13zm-4 7zm0 1zm-4 11zm4 8zm3 5zm-6 8zm9 3zm-3 34zm-3 15zm10-238zm6 23zm1 20zm0 3zm-2 2zm-8 4zm7 9zm-5 6zm1 10zm0 19zm-3 2zm5 9zm-3 2zm1 6zm0 1zm2 5zm1 0zm4 8zm-10 2zm7 5zm-3 4zm7 1zm-2 16zm-1 3zm1 2zm0 3zm-9 0zm2 1zm-1 6zm4 5zm0 2zm-1 3zm4 37zm-1 5zm-7 11zm20-239zm-7 26zm6 2zm-7 6zm4 7zm-1 23zm-1 0zm4 8zm1 6zm-5 1zm6 9zm2 1zm0 1zm-9 0zm3 9zm0 3zm2 6zm3 6zm1 1zm-8 0zm1 7zm-2 2zm3 6zm2 24zm-1 3zm-1 14zm6 3zm-8 5zm4 9zm5 37zm9-222zm2 19zm0 13zm-9 4zm2 1zm-3 7zm4 3zm-2 1zm1 1zm7 0zm1 1zm-10 0zm10 1zm-2 1zm-2 8zm0 5zm-1 8zm3 3zm2 2zm-6 2zm0 2zm6 4zm0 3zm-9 3zm-2 2zm11 3zm-1 12zm-4 2zm2 7zm-6 3zm5 5zm-4 2zm0 5zm2 1zm4 5zm-2 0zm1 1zm-2 1zm4 2zm-7 4zm2 7zm5 1zm-4 3zm-3 7zm4 5zm-1 7zm-4 2zm-2 10zm8 12zm3 10zm-4 29zm2 13zm0 35zm9-309zm3 22zm-7 7zm9 2zm0 7zm-4 21zm4 1zm-7 2zm4 3zm-3 3zm5 15zm-8 3zm1 3zm6 3zm-9 4zm6 5zm5 5zm-6 1zm1 5zm1 0zm-2 1zm6 4zm-11 5zm4 0zm-1 0zm6 1zm1 1zm-2 4zm-6 1zm8 3zm-3 0zm3 4zm-9 11zm9 1zm-3 0zm0 2zm-1 3zm5 0zm-2 3zm-7 2zm5 0zm2 5zm-9 1zm9 1zm-2 4zm4 0zm-4 18zm-4 1zm-2 1zm9 1zm-6 6zm1 3zm4 0zm-4 16zm-1 2zm-1 1zm8 8zm-2 8zm-9 1zm11 0zm-6 25zm-1 21zm8-285zm0 36zm8 9zm-6 1zm0 3zm7 1zm-4 6zm2 6zm1 8zm-1 3zm-6 1zm5 2zm-4 1zm7 0zm-1 2zm0 0zm-4 5zm4 4zm2 7zm1 1zm-11 3zm5 13zm3 2zm-7 2zm7 3zm-4 3zm0 5zm-2 1zm8 0zm0 1zm-3 7zm4 1zm-9 0zm4 0zm-2 3zm4 3zm-8 1zm8 3zm-8 0zm6 3zm-1 1zm1 0zm-4 2zm6 0zm-1 5zm1 1zm-6 10zm-2 4zm9 5zm-7 1zm6 0zm-4 7zm-3 1zm5 1zm-5 7zm7 1zm0 0zm0 3zm-3 0zm-1 6zm0 8zm1 1zm2 2zm-2 21zm4 22zm-3 3zm17-239zm-9 17zm0 7zm-1 3zm-1 7zm8 1zm3 5zm-5 4zm-5 1zm2 5zm1 5zm6 1zm-10 1zm9 1zm-5 1zm2 2zm4 11zm-5 1zm6 6zm-1 1zm-5 1zm6 0zm-7 3zm0 1zm6 3zm-6 4zm3 6zm1 5zm0 4zm2 7zm-4 0zm0 1zm3 1zm-7 0zm3 1zm2 3zm-4 0zm2 1zm6 3zm-6 2zm-3 1zm6 1zm2 2zm-8 2zm3 0zm0 0zm2 1zm1 0zm-1 2zm-3 1zm3 0zm-2 0zm0 6zm0 3zm3 1zm2 1zm-8 1zm2 0zm-1 14zm0 2zm-3 1zm8 4zm-8 3zm1 1zm10 4zm-1 0zm-9 2zm9 5zm1 2zm-4 4zm-5 7zm1 4zm0 4zm2 12zm-1 5zm7 23zm-3 27zm10-311zm-5 16zm10 7zm0 16zm-11 1zm10 20zm0 19zm-7 0zm1 2zm4 4zm2 9zm-7 3zm4 2zm4 5zm-3 3zm0 4zm-8 1zm9 4zm-4 0zm-5 1zm11 2zm-8 1zm1 0zm-1 1zm-1 4zm4 9zm2 3zm1 0zm-5 0zm-2 4zm1 3zm6 4zm-1 1zm-3 3zm4 2zm0 2zm-3 0zm-4 0zm7 1zm-3 0zm-1 3zm-1 5zm1 3zm6 2zm-9 3zm9 1zm-6 2zm4 1zm-3 1zm-6 4zm11 7zm-7 4zm-1 3zm-2 8zm8 0zm-6 2zm8 4zm-8 2zm-3 0zm2 1zm6 1zm-2 1zm2 2zm-7 2zm8 1zm-1 1zm-8 0zm4 4zm5 14zm1 15zm-10 2zm11 4zm-10 19zm11-217zm11 8zm0 3zm0 15zm-11 3zm7 5zm3 11zm-8 1zm-1 6zm8 1zm-4 8zm6 0zm-11 3zm8 0zm-3 2zm6 9zm-1 0zm-8 2zm8 2zm-8 1zm7 1zm-2 2zm-7 0zm3 4zm3 2zm-6 0zm5 1zm4 6zm-3 1zm5 0zm-10 0zm4 2zm-4 2zm5 1zm3 2zm-9 3zm7 2zm-1 4zm-2 6zm7 2zm-7 3zm6 1zm-8 6zm6 0zm-5 7zm-1 2zm4 3zm-4 2zm9 4zm-7 1zm3 2zm0 1zm2 5zm-6 2zm0 9zm1 4zm6 5zm-3 1zm2 26zm-8 13zm7 3zm2 6zm8-294zm3 3zm-2 31zm-2 9zm2 2zm3 35zm-7 5zm5 4zm-3 4zm3 1zm1 1zm-1 1zm-2 2zm5 1zm-6 0zm3 6zm-5 15zm3 1zm-2 1zm-2 6zm0 5zm5 1zm-4 0zm1 1zm3 1zm2 3zm-1 7zm-3 0zm2 2zm2 3zm-7 3zm8 7zm-1 2zm0 5zm-2 1zm-5 4zm6 1zm3 1zm-5 1zm-2 2zm2 5zm-4 4zm1 2zm1 7zm-3 1zm10 2zm-10 2zm8 0zm-3 1zm4 7zm-7 0zm1 1zm7 2zm-4 0zm2 2zm-2 3zm-5 4zm6 2zm-6 6zm5 15zm2 13zm-5 9zm1 6zm10-230zm1 15zm5 6zm-9 6zm0 5zm0 20zm11 0zm-7 8zm-1 12zm3 3zm-2 7zm0 0zm1 2zm-1 2zm3 3zm0 2zm-1 1zm0 6zm-1 1zm-4 3zm4 1zm-1 2zm4 0zm-4 8zm5 4zm-8 3zm0 7zm2 0zm-2 4zm7 4zm-4 1zm4 5zm0 4zm-8 2zm11 2zm-10 2zm7 2zm-8 0zm0 11zm2 2zm1 6zm0 1zm7 6zm-4 3zm2 2zm-4 1zm0 5zm-2 5zm3 5zm4 5zm-4 1zm6 3zm-7 4zm3 63zm15-281zm-6 4zm-2 14zm8 2zm1 24zm-1 12zm-3 8zm-1 7zm-6 3zm2 5zm-2 6zm0 0zm8 5zm-6 5zm6 0zm-5 2zm-3 5zm2 3zm8 2zm-7 2zm6 3zm2 0zm-5 3zm3 0zm-1 1zm-1 0zm0 1zm-7 2zm10 1zm1 3zm-11 1zm8 5zm-8 0zm1 12zm6 4zm-7 1zm7 1zm-3 1zm1 4zm-2 18zm1 4zm-4 0zm8 6zm3 2zm-5 14zm-1 4zm4 15zm-6 3zm-2 1zm3 9zm4 29zm13-254zm-7 24zm-2 1zm5 1zm2 14zm-2 1zm2 10zm-7 4zm4 7zm2 2zm3 14zm0 3zm1 2zm-5 4zm0 9zm-1 1zm5 0zm-8 7zm1 2zm5 18zm-1 4zm1 2zm-6 0zm10 18zm-1 7zm-8 1zm6 0zm0 15zm-7 5zm4 4zm-3 2zm-1 7zm8 0zm-7 1zm-1 16zm7 2zm-8 3zm14-200zm1 24zm-2 3zm2 7zm8 15zm-11 17zm11 6zm-11 0zm0 5zm0 1zm10 8zm-8 2zm-2 4zm4 15zm-1 0zm2 9zm-1 7zm7 0zm0 19zm-2 12zm-3 1zm-2 27zm-4 0zm3 16zm-3 11zm9 11zm4-186zm10 11zm-2 19zm-5 3zm5 1zm-3 1zm-3 4zm-2 1zm9 7zm-10 7zm5 6zm0 9zm5 7zm-5 4zm6 0zm-11 14zm10 1zm-10 16zm2 16zm3 1zm-4 3zm4 13zm3 8zm-6 4zm14-191zm-1 9zm-1 8zm3 14zm1 51zm-5 2zm10 22zm-6 5zm-2 18zm3 8zm4 11zm2-128zm9 16zm-3 27zm3 68zm-3 23zm-3 11zm-2 39zm6 43zm11-170zm1 2zm-3 9zm-2 74zm20-38zm-4 8zm0 44zm15-77zm2 27zm-10 77zm20-79zm-3 19zm17-25zm4-16z"/>
</g>
<rect class="t" x="0" y="0" width="340.5" height="338.6"/>
<path class="t" d="M28.7 338.6v3.5M0 310.6h-3.5M99.5 338.6v3.5M0 240.1h-3.5M170.3 338.6v3.5M0 169.7h-3.5M241.0 338.6v3.5M0 99.3h-3.5M311.8 338.6v3.5M0 28.8h-3.5"/>
<text class="tl" x="28.7" y="358.3" text-anchor="middle">−5.0</text><text class="tl" x="-8.0" y="316.8" text-anchor="end">−5.0</text>
<text class="tl" x="99.5" y="358.3" text-anchor="middle">−2.5</text><text class="tl" x="-8.0" y="246.3" text-anchor="end">−2.5</text>
<text class="tl" x="170.3" y="358.3" text-anchor="middle">0.0</text><text class="tl" x="-8.0" y="175.9" text-anchor="end">0.0</text>
<text class="tl" x="241.0" y="358.3" text-anchor="middle">2.5</text><text class="tl" x="-8.0" y="105.5" text-anchor="end">2.5</text>
<text class="tl" x="311.8" y="358.3" text-anchor="middle">5.0</text><text class="tl" x="-8.0" y="35.0" text-anchor="end">5.0</text>
<text class="ti" x="170.0" y="-5.6" text-anchor="middle">1.1 Photons / Symbol</text>
<text class="al" x="170.0" y="380.1" text-anchor="middle">I Quadrature [SNU]</text>
<text class="al" transform="translate(-55 169.3) rotate(-90)" text-anchor="middle">Q Quadrature [SNU]</text>
<g transform="translate(271.3 6.0)"><rect x="0" y="0" width="62.4" height="94.7" rx="2.8" fill="#fff" fill-opacity=".8" stroke="#ccc" stroke-opacity=".8" stroke-width="1.1"/><text class="lt" x="31.2" y="16" text-anchor="middle">Symbol</text><circle cx="22.8" cy="31.3" r="6.15" fill="#1f77b4"/><text class="le" x="44.9" y="34.6">0</text><circle cx="22.8" cy="49.1" r="6.15" fill="#ff7f0e"/><text class="le" x="44.9" y="52.4">1</text><circle cx="22.8" cy="66.9" r="6.15" fill="#2ca02c"/><text class="le" x="44.9" y="70.2">2</text><circle cx="22.8" cy="84.7" r="6.15" fill="#d62728"/><text class="le" x="44.9" y="88.0">3</text></g>
</g>
<g transform="translate(1375.5 20.5)">
<path class="g" d="M28.9 0V338.6M0 310.6H340.5M99.7 0V338.6M0 240.1H340.5M170.4 0V338.6M0 169.7H340.5M241.2 0V338.6M0 99.3H340.5M312.0 0V338.6M0 28.8H340.5"/>
<g clip-path="url(#c)">
<path class="d" stroke="#1f77b4" transform="scale(.5)" style="stroke-width:6.8" d="M170 349zm25-35zm5 47zm14-91zm-5 74zm4 3zm4-54zm6 8zm4 32zm0 23zm0 38zm6-180zm2 58zm1 2zm1 19zm-8 7zm6 23zm3 11zm-3 13zm4 3zm-10 54zm18-167zm-2 5zm4 17zm-8 3zm6 8zm-6 14zm8 1zm-9 10zm4 3zm6 1zm-4 2zm0 12zm4 23zm-8 4zm-1 11zm2 2zm6 17zm-7 19zm5 2zm3 23zm9-149zm0 7zm0 12zm0 0zm-7 4zm8 2zm3 9zm-10 7zm9 5zm-3 23zm-7 29zm3 1zm8 1zm6-134zm-2 1zm-3 12zm11 24zm-11 13zm8 1zm1 10zm-6 4zm-2 5zm8 3zm-4 1zm0 6zm5 5zm1 1zm-8 11zm1 5zm0 3zm5 2zm-8 6zm6 7zm-4 4zm-2 5zm4 12zm4 1zm-6 7zm1 12zm2 32zm3 7zm9-247zm-2 74zm2 4zm2 22zm-6 4zm9 9zm-1 1zm0 1zm0 5zm-5 0zm-5 9zm10 2zm1 7zm-5 7zm0 2zm-1 3zm-1 3zm-2 4zm8 4zm-1 2zm-1 14zm-4 0zm-4 6zm3 0zm-2 4zm1 1zm0 3zm-1 4zm7 6zm-2 7zm-4 1zm7 46zm-6 13zm13-257zm5 38zm-4 2zm5 2zm-9 8zm4 5zm1 4zm2 12zm-4 3zm-2 13zm8 1zm-2 1zm-1 0zm-3 2zm-3 7zm4 2zm-2 7zm6 3zm0 1zm-7 4zm6 15zm-8 1zm4 10zm2 1zm-2 1zm7 1zm-9 11zm4 1zm3 4zm-1 1zm-7 1zm9 1zm0 9zm0 3zm-3 3zm3 0zm-8 7zm9 6zm-2 4zm-8 4zm6 10zm-5 13zm2 20zm1 4zm5 37zm11-252zm-2 1zm-4 5zm5 3zm3 5zm-6 21zm3 4zm1 2zm-9 5zm2 3zm8 16zm-6 8zm-3 4zm7 2zm-6 3zm6 4zm-7 5zm6 1zm-7 0zm10 1zm-3 0zm-2 0zm2 4zm2 5zm-3 0zm1 2zm4 3zm-9 0zm6 5zm-3 0zm4 1zm-7 3zm2 12zm-4 0zm9 10zm2 12zm-5 4zm2 0zm0 1zm-8 3zm8 3zm-1 19zm4 9zm-10 0zm0 11zm6 0zm1 21zm-6 28zm-1 4zm12-269zm1 19zm5 4zm-7 1zm3 1zm-1 1zm8 8zm-4 9zm1 8zm-5 4zm1 5zm6 6zm-2 3zm-2 1zm-3 15zm3 0zm2 0zm-6 3zm2 2zm8 7zm-11 6zm8 2zm-1 12zm-3 1zm-1 1zm0 1zm6 1zm-9 0zm8 0zm-5 2zm-3 5zm11 1zm-2 8zm1 4zm-9 2zm8 4zm-2 4zm0 10zm-1 2zm-2 2zm0 0zm5 8zm-2 2zm3 0zm-10 3zm3 1zm6 6zm-5 0zm-2 9zm3 8zm-4 2zm7 9zm-7 1zm12-242zm9 17zm0 22zm-5 9zm0 9zm-4 2zm1 16zm0 5zm2 1zm5 0zm0 7zm-8 2zm7 2zm2 0zm1 1zm-1 0zm-8 9zm9 7zm-5 3zm-1 9zm4 1zm-7 3zm7 4zm0 1zm-9 1zm9 0zm-9 3zm11 4zm-6 0zm-1 2zm6 1zm-1 2zm2 8zm-6 2zm6 1zm-3 0zm-7 0zm5 1zm0 3zm-5 2zm7 5zm-2 13zm-4 12zm8 1zm-1 0zm1 2zm-1 2zm-6 6zm6 6zm1 1zm-9 2zm8 1zm0 2zm-3 7zm5 1zm-9 8zm5 9zm2 4zm-9 26zm6 6zm2 37zm13-272zm-8 7zm3 7zm7 16zm-3 5zm2 9zm-4 11zm4 6zm-4 3zm2 3zm-8 4zm10 1zm-7 2zm7 3zm-2 3zm-6 3zm3 2zm6 1zm-8 0zm1 0zm1 4zm4 6zm-7 2zm6 4zm1 0zm-2 4zm1 2zm3 1zm-7 2zm-4 0zm2 2zm5 0zm-2 4zm5 2zm-4 2zm3 1zm-8 2zm7 0zm3 2zm-4 4zm-1 0zm-5 3zm10 14zm-2 9zm-3 15zm1 14zm1 3zm0 1zm-3 0zm-3 10zm9 27zm-6 6zm11-251zm4 5zm-7 17zm9 7zm-4 6zm3 5zm-4 0zm-4 6zm1 4zm-2 4zm2 1zm4 0zm4 4zm-1 2zm-6 5zm7 2zm-1 1zm-8 3zm3 4zm7 0zm-2 3zm-9 3zm4 4zm2 2zm-6 1zm10 1zm-8 3zm5 3zm-1 1zm3 3zm-3 1zm-1 1zm5 0zm-1 5zm-3 1zm-3 2zm8 5zm-3 1zm-8 1zm3 2zm0 3zm1 0zm3 2zm0 5zm2 3zm1 0zm-9 2zm0 6zm1 1zm3 8zm-1 3zm-1 1zm8 1zm-7 1zm-4 1zm10 1zm-4 4zm2 3zm-2 2zm-2 0zm5 1zm1 1zm-6 3zm3 2zm1 0zm-4 3zm6 6zm0 4zm-1 5zm-9 2zm8 3zm-4 7zm-1 4zm6 5zm-6 14zm6 8zm-1 0zm2 2zm-7 3zm5 18zm2 5zm-6 12zm4 11zm14-350zm-5 80zm4 8zm-2 3zm4 1zm-2 4zm-3 1zm1 2zm1 6zm-6 3zm0 6zm4 5zm-1 9zm-3 3zm8 3zm-8 2zm2 7zm-3 7zm4 1zm3 7zm-6 8zm0 1zm5 1zm-2 1zm1 0zm-1 3zm4 0zm-3 1zm-5 5zm-1 3zm8 1zm-3 1zm0 5zm2 1zm0 2zm-3 5zm0 5zm5 4zm2 3zm-10 2zm-1 4zm5 0zm4 15zm-3 6zm-3 1zm4 2zm-4 1zm7 9zm-8 14zm2 3zm-4 0zm5 2zm0 8zm4 1zm-6 7zm4 12zm-7 4zm9 44zm12-280zm-4 7zm0 6zm-1 3zm5 10zm0 7zm-4 14zm1 1zm0 6zm0 8zm-2 5zm5 3zm-9 5zm5 1zm0 4zm-5 3zm3 2zm-1 1zm4 6zm-3 8zm5 3zm-2 0zm5 6zm-2 0zm-3 2zm-3 2zm3 0zm0 1zm1 0zm-3 3zm0 7zm6 3zm0 0zm-3 2zm-7 0zm2 1zm3 5zm6 1zm-10 1zm5 3zm-2 1zm6 1zm1 5zm-3 0zm1 3zm-6 2zm8 2zm-11 2zm11 1zm-4 10zm-3 7zm1 6zm-3 1zm0 13zm6 2zm0 4zm-3 6zm4 5zm-4 6zm-1 6zm4 2zm1 33zm-5 2zm-1 18zm20-293zm-11 1zm6 35zm-4 54zm7 3zm2 6zm-9 1zm9 0zm-5 4zm1 2zm3 2zm-2 11zm2 1zm-9 1zm2 0zm1 9zm-4 9zm0 3zm10 2zm-4 1zm-4 1zm6 3zm-5 1zm1 1zm-1 3zm3 6zm-3 1zm-3 1zm8 3zm1 4zm-2 8zm-4 8zm-2 6zm3 1zm3 4zm-2 1zm3 3zm-3 0zm4 6zm-9 11zm2 10zm-1 1zm0 35zm20-236zm-6 6zm3 21zm3 10zm-5 9zm7 15zm-11 1zm6 7zm1 5zm2 5zm-4 4zm-4 7zm1 0zm5 3zm-4 2zm-3 4zm10 3zm-10 0zm10 1zm0 0zm-6 1zm-1 2zm2 2zm-3 3zm-1 0zm7 0zm-4 3zm-2 1zm9 1zm-10 2zm1 3zm3 2zm5 3zm-9 1zm6 3zm-1 9zm3 3zm-1 16zm1 0zm-2 4zm0 8zm-6 3zm8 1zm-5 1zm-4 0zm10 1zm-5 2zm6 3zm-8 0zm-2 4zm10 2zm-5 7zm-2 11zm2 31zm9-255zm-3 58zm7 18zm-7 9zm6 3zm-4 1zm-1 11zm7 8zm3 8zm-7 4zm-2 2zm0 1zm2 0zm-3 10zm-1 0zm5 6zm3 6zm2 1zm-4 0zm-4 3zm0 2zm1 0zm-3 3zm8 3zm-5 4zm6 2zm0 6zm-3 5zm3 2zm2 4zm-4 6zm3 1zm-9 0zm6 7zm-1 1zm-3 2zm-1 4zm7 11zm-4 12zm1 6zm-4 0zm20-208zm-3 6zm0 6zm-4 8zm1 27zm-3 9zm1 0zm9 0zm-1 8zm1 1zm-9 7zm-1 2zm0 5zm5 5zm-5 13zm1 1zm8 0zm-6 9zm2 3zm0 0zm4 4zm-8 0zm0 14zm0 3zm-1 3zm6 2zm-4 8zm-2 4zm4 16zm0 10zm5 1zm-6 6zm5 23zm10-205zm-7 38zm5 31zm-3 9zm1 10zm4 18zm-1 1zm-5 3zm6 6zm-7 4zm0 1zm3 0zm8 3zm-5 2zm-1 5zm-4 2zm1 0zm2 1zm5 20zm-2 2zm-4 6zm7 5zm-2 1zm2 9zm-2 26zm-6 17zm-1 23zm3 9zm16-300zm-2 63zm-6 10zm8 24zm-8 34zm10 14zm-4 6zm-2 4zm0 6zm6 3zm-3 1zm-1 17zm0 2zm5 17zm-11 3zm4 4zm1 2zm3 2zm3 13zm-7 5zm-4 6zm7 18zm15-176zm-3 1zm0 26zm-6 55zm1 22zm5 72zm6-199zm7 6zm-6 3zm5 34zm4 33zm-9 46zm-1 8zm3 7zm9-94zm-1 34zm7 18zm-6 25zm1 31zm12-95zm8 6zm6 17zm1 8zm33 57z"/>
<path class="d" stroke="#ff7f0e" transform="scale(.5)" style="stroke-width:6.8" d="M143 138zm32 134zm4 113zm1-126zm0 77zm10 16zm-2 21zm12-69zm-7 11zm9 12zm-7 2zm7 26zm-7 7zm3 13zm-1 30zm4 5zm3-161zm3 27zm3 17zm1 30zm-5 16zm-1 27zm6 19zm1 20zm2 5zm2-149zm7 17zm4 20zm-2 6zm-9 4zm0 3zm8 3zm0 1zm-5 3zm-3 0zm7 20zm1 32zm-1 9zm-3 14zm-2 0zm0 42zm19-214zm-9 6zm10 18zm1 38zm-3 30zm-8 2zm0 0zm2 12zm6 4zm-3 0zm2 6zm-2 4zm1 12zm4 1zm1 15zm-11 46zm17-195zm-5 3zm4 4zm-1 2zm-3 40zm9 3zm-4 11zm3 7zm-3 10zm-2 12zm-1 11zm7 3zm-5 3zm2 28zm5 18zm-8 1zm4 9zm0 7zm-2 7zm-1 3zm4 24zm-4 11zm17-253zm2 45zm-2 14zm1 0zm-7 20zm1 4zm-4 12zm2 6zm3 0zm-2 30zm-1 2zm9 1zm-5 6zm2 11zm1 11zm-8 4zm4 7zm-3 3zm3 6zm5 2zm-2 0zm-6 4zm2 8zm1 2zm3 14zm-5 7zm4 13zm4 13zm-1 7zm-8 26zm19-239zm2 4zm-2 28zm1 4zm-4 5zm2 0zm2 1zm-2 2zm1 3zm-8 16zm1 1zm1 2zm7 1zm-5 1zm-1 1zm-2 5zm1 2zm5 2zm-5 8zm6 1zm-5 1zm4 1zm-1 3zm4 1zm-3 3zm2 9zm-4 0zm4 3zm-2 1zm3 2zm-7 2zm-1 2zm3 2zm1 1zm-1 8zm3 5zm1 3zm-1 1zm-1 6zm-3 0zm1 3zm1 7zm-4 9zm2 15zm-1 2zm-2 4zm8 9zm-7 10zm14-247zm3 25zm-8 13zm1 27zm10 0zm-7 1zm1 13zm5 4zm-8 0zm-1 1zm4 1zm-2 5zm8 1zm-8 1zm1 0zm-3 5zm2 2zm2 10zm-1 3zm2 3zm5 0zm-2 3zm-3 1zm0 3zm-4 2zm6 7zm-8 0zm1 6zm4 7zm5 10zm1 4zm-1 0zm-2 0zm-6 4zm1 0zm-1 1zm5 3zm-4 4zm3 1zm1 4zm-2 3zm-5 10zm9 1zm-6 3zm8 9zm-9 4zm2 6zm-2 3zm6 1zm-4 7zm3 0zm-2 5zm-5 8zm3 36zm17-255zm-6 21zm-1 3zm-1 10zm0 8zm8 10zm-2 16zm-1 7zm0 1zm4 5zm-4 1zm2 0zm1 6zm-1 0zm4 4zm-9 0zm3 1zm2 4zm-4 6zm1 0zm4 3zm-7 8zm3 2zm-1 2zm4 2zm-7 3zm3 3zm6 1zm-4 0zm4 3zm-7 1zm7 1zm1 2zm-5 0zm-4 1zm0 1zm-1 2zm10 0zm-10 1zm5 5zm-1 2zm2 1zm5 4zm-2 7zm-2 1zm-1 1zm0 0zm5 1zm-4 4zm-3 3zm-4 2zm1 0zm1 1zm5 3zm-5 1zm6 2zm-5 6zm5 1zm-2 1zm-6 9zm7 2zm-7 18zm11 0zm-2 4zm1 20zm-5 53zm10-258zm5 17zm1 8zm1 5zm-7 1zm1 10zm2 2zm-4 1zm-1 8zm5 0zm-2 1zm6 6zm-8 5zm0 4zm1 7zm8 1zm-5 1zm2 3zm-8 0zm0 2zm10 4zm-1 1zm-3 1zm-6 10zm5 5zm-1 7zm2 2zm3 2zm-4 1zm-1 3zm-4 4zm1 3zm1 10zm0 2zm-1 2zm4 2zm-5 6zm11 2zm-3 1zm0 6zm-5 2zm-3 12zm9 8zm-9 7zm9 1zm-7 2zm9 20zm2-238zm4 46zm4 7zm-8 8zm7 1zm-6 6zm5 4zm3 4zm-7 1zm-2 3zm9 4zm0 1zm-5 0zm-4 3zm-1 10zm10 1zm-1 2zm-7 3zm8 1zm-5 3zm4 3zm-5 0zm-2 1zm-2 2zm5 2zm0 1zm3 4zm-2 1zm3 0zm-2 8zm-7 5zm0 4zm6 2zm-5 5zm2 0zm1 4zm-4 4zm5 3zm0 3zm-5 0zm7 1zm-4 4zm3 2zm-1 5zm-2 8zm3 6zm-6 1zm10 0zm-4 2zm2 1zm1 3zm-1 0zm2 2zm1 1zm-3 0zm-3 5zm3 4zm-2 0zm-4 9zm6 48zm3 3zm4-269zm6 16zm-7 19zm1 1zm8 18zm-9 9zm3 1zm6 1zm-2 10zm-1 4zm-7 11zm2 14zm5 0zm-6 0zm0 1zm3 3zm1 1zm-5 2zm8 0zm-4 3zm3 1zm-6 3zm2 8zm3 1zm3 1zm-9 4zm8 7zm-7 2zm1 7zm-1 1zm9 1zm-8 3zm-2 1zm3 1zm-3 1zm2 2zm0 0zm6 2zm-5 1zm-1 0zm-1 3zm0 0zm7 0zm2 0zm-1 5zm-4 1zm-6 4zm3 5zm-3 5zm5 4zm-4 0zm2 3zm-1 1zm3 3zm-3 1zm7 1zm1 7zm-2 4zm1 4zm-8 1zm-1 1zm0 1zm8 6zm-3 3zm-4 2zm9 2zm-4 0zm2 3zm-7 3zm10 8zm-11 14zm12-322zm7 89zm0 15zm-2 14zm1 0zm-4 11zm-2 10zm4 14zm7 12zm-3 0zm0 0zm-5 0zm-2 2zm4 5zm-5 0zm4 2zm3 1zm-3 2zm3 7zm2 2zm-7 2zm4 0zm1 5zm3 9zm-5 4zm-1 1zm6 1zm-6 2zm-1 2zm1 3zm2 0zm2 1zm-6 1zm5 0zm0 1zm-7 3zm1 0zm2 2zm6 1zm-7 2zm8 4zm-10 0zm1 0zm7 0zm0 14zm-1 3zm-3 2zm4 2zm2 2zm1 9zm-2 0zm1 0zm-9 1zm5 4zm-2 6zm3 2zm0 1zm-7 4zm6 2zm4 6zm-6 2zm5 5zm1 8zm-2 1zm-5 19zm15-248zm-4 5zm5 25zm-3 2zm3 14zm-2 2zm3 9zm-4 2zm5 10zm-2 0zm1 1zm2 4zm0 3zm-3 2zm0 2zm-5 7zm0 1zm-1 1zm3 3zm-1 3zm2 12zm5 0zm-8 3zm9 7zm-10 2zm9 3zm-2 1zm-4 1zm1 2zm4 1zm0 1zm-7 1zm-2 2zm11 1zm-9 1zm4 0zm-3 2zm3 1zm-2 1zm0 2zm1 4zm0 1zm1 2zm-5 9zm2 0zm7 6zm-10 0zm2 0zm5 1zm-7 1zm3 2zm2 0zm0 0zm4 5zm1 1zm-3 2zm4 0zm-1 0zm-10 5zm1 16zm4 6zm2 1zm3 5zm-8 5zm0 2zm0 20zm4 18zm15-253zm-6 8zm4 29zm1 22zm-4 2zm6 5zm-4 1zm5 6zm-9 10zm9 4zm-6 1zm-4 0zm2 0zm-2 2zm8 4zm-4 1zm-1 3zm1 6zm1 4zm-6 2zm11 3zm-6 2zm6 3zm-6 1zm-4 2zm9 5zm0 4zm-9 4zm4 3zm1 1zm-2 5zm-2 1zm-1 2zm8 3zm-9 0zm10 2zm-3 8zm1 6zm0 2zm-6 1zm6 7zm-2 1zm3 8zm-6 9zm1 9zm6 46zm-7 3zm13-241zm0 13zm6 16zm-4 9zm4 12zm-8 14zm6 0zm3 2zm-10 6zm6 1zm-1 2zm3 8zm-8 1zm4 1zm1 4zm2 3zm3 1zm-3 4zm-1 11zm-4 2zm7 1zm-2 6zm-1 3zm-1 0zm-6 2zm2 4zm3 1zm4 0zm-9 3zm3 3zm2 6zm3 0zm-3 1zm4 2zm-1 12zm-6 16zm9 4zm-1 3zm0 0zm-10 9zm4 2zm-1 0zm8 1zm-9 2zm-2 12zm5 3zm-2 21zm19-190zm-6 11zm2 4zm0 7zm4 3zm-8 6zm7 6zm-5 0zm-4 0zm9 2zm-9 0zm3 17zm-1 1zm9 10zm-11 2zm7 2zm-1 9zm-6 1zm3 2zm-1 2zm5 2zm-3 1zm2 4zm3 6zm-8 1zm5 17zm-2 1zm4 10zm-1 14zm4 26zm0 16zm-11 53zm18-329zm-1 65zm1 9zm4 13zm-7 3zm0 11zm3 7zm-2 1zm-2 6zm4 5zm1 3zm-4 0zm8 3zm0 4zm0 3zm-10 5zm2 1zm-2 2zm5 3zm-3 7zm3 1zm4 3zm1 0zm-9 3zm5 0zm-2 4zm-2 5zm-2 10zm6 0zm2 6zm-5 5zm-3 10zm5 11zm4 9zm-9 0zm1 18zm6 18zm2 2zm-10 31zm17-195zm-4 26zm9 10zm-5 9zm-1 21zm2 8zm-2 1zm4 12zm-7 1zm9 2zm-8 1zm-1 2zm-1 3zm10 0zm-1 3zm-2 5zm4 6zm-8 1zm5 39zm1 2zm-5 6zm19-119zm-11 26zm1 0zm0 1zm8 9zm-2 4zm3 6zm-5 23zm5 3zm-6 2zm7 2zm-9 1zm2 0zm3 14zm5-123zm9 29zm-1 18zm-8 6zm7 7zm3 6zm1 18zm-11 1zm7 11zm-7 2zm8 18zm-8 16zm16-151zm6 41zm-5 6zm4 10zm-5 23zm2 12zm5 6zm-6 11zm0 2zm6 3zm-8 28zm5 6zm1 5zm12-42zm-3 0zm2 2zm1 7zm4-77zm7 29zm1 25zm4 44zm-1 21zm13-74z"/>
<path class="d" stroke="#2ca02c" transform="scale(.5)" style="stroke-width:6.8" d="M164 368zm9 23zm8-186zm9 67zm8 54zm1 34zm4 62zm5-240zm2 143zm2 9zm-6 49zm9 9zm0 12zm-8 12zm5 25zm-1 12zm15-217zm-5 49zm1 9zm-3 16zm6 31zm-5 16zm6 9zm1 2zm-1 14zm-8 17zm8 7zm-9 17zm-1 16zm12-218zm8 11zm-2 33zm-4 25zm8 2zm-2 10zm-1 7zm-3 17zm0 16zm-3 6zm6 2zm4 2zm-11 12zm7 0zm2 1zm1 9zm0 4zm-7 1zm8 7zm1-103zm6 12zm4 2zm-1 1zm-2 7zm1 2zm-7 4zm5 6zm2 4zm-3 9zm-1 1zm-2 5zm-2 1zm10 10zm-5 17zm1 2zm-4 31zm8 9zm-2 5zm-7 20zm-1 23zm14-191zm-1 17zm4 6zm6 4zm-7 2zm0 2zm5 2zm-7 1zm9 1zm-2 1zm-2 9zm4 3zm-2 4zm1 3zm-4 2zm-1 4zm1 3zm-5 2zm8 1zm-3 5zm0 3zm-1 5zm-5 7zm7 8zm-6 1zm9 17zm-1 3zm-5 1zm-4 0zm3 2zm2 7zm5 7zm-1 1zm-3 3zm-4 11zm2 4zm5 1zm-3 14zm-4 19zm17-233zm3 15zm0 35zm0 9zm1 8zm-9 3zm7 1zm-7 2zm7 8zm-9 1zm7 15zm0 1zm-6 3zm4 2zm5 3zm-2 4zm0 3zm-5 9zm-3 4zm0 3zm10 1zm-3 1zm-6 4zm5 3zm-6 7zm10 15zm-3 0zm1 2zm-7 3zm2 5zm-1 1zm6 8zm-7 6zm5 1zm-6 4zm7 29zm2 1zm-1 1zm3 14zm-10 2zm10 2zm-11 3zm5 5zm6 39zm8-312zm1 22zm-6 5zm5 44zm-6 3zm9 16zm-7 12zm4 1zm4 2zm-7 6zm0 1zm7 1zm-1 2zm-2 7zm-3 2zm6 2zm-9 2zm6 2zm-6 1zm9 1zm-2 1zm2 1zm-4 2zm4 0zm-6 11zm3 5zm-4 2zm-2 3zm9 6zm-1 1zm-4 1zm2 0zm-6 1zm1 1zm3 6zm4 1zm-1 0zm-1 5zm1 4zm-9 5zm9 11zm-6 2zm8 0zm-11 2zm6 2zm3 2zm-5 2zm-4 2zm1 1zm8 18zm-6 1zm-1 1zm-2 1zm4 8zm-4 4zm7 4zm-2 17zm2 12zm6-207zm-1 4zm6 11zm4 3zm-4 1zm-2 0zm2 0zm-2 6zm5 5zm-7 5zm-2 1zm2 0zm4 0zm4 4zm-9 3zm1 0zm3 1zm-3 6zm9 7zm0 2zm-9 1zm5 1zm2 2zm1 2zm-8 1zm8 0zm-5 1zm0 0zm0 1zm-1 4zm5 4zm-3 0zm-3 6zm3 12zm-6 1zm6 8zm0 2zm-3 0zm6 0zm0 2zm1 1zm-1 0zm-6 2zm6 2zm-5 1zm0 1zm6 5zm-4 1zm0 2zm4 19zm-4 1zm0 3zm2 1zm-6 1zm-2 6zm1 1zm4 1zm-2 3zm6 7zm-9 2zm3 10zm1 6zm-4 2zm3 45zm-3 6zm19-254zm-5 15zm1 11zm-3 2zm1 4zm-1 1zm5 15zm5 3zm1 2zm-8 1zm2 0zm1 0zm0 1zm0 8zm-6 12zm8 3zm-2 1zm-4 0zm-2 1zm5 2zm0 0zm0 1zm1 1zm-1 2zm-1 5zm-4 1zm9 2zm-5 2zm2 3zm1 10zm1 1zm-8 2zm6 1zm3 2zm-2 5zm-4 4zm1 2zm4 3zm-4 2zm7 0zm0 1zm-1 0zm-7 3zm-1 4zm7 2zm-4 5zm3 7zm-4 1zm-1 2zm8 1zm-2 5zm-5 1zm0 3zm4 2zm-6 5zm7 7zm-6 12zm1 4zm6 31zm-4 17zm4 21zm-10 1zm0 55zm21-368zm2 31zm-2 1zm-9 12zm7 9zm0 2zm3 3zm-6 14zm-2 13zm8 1zm1 1zm-11 4zm0 1zm9 0zm-6 4zm1 1zm7 1zm0 1zm-1 4zm1 7zm-10 2zm5 0zm-6 4zm6 1zm-5 2zm6 1zm0 3zm0 5zm-2 3zm-5 2zm6 0zm2 3zm-2 3zm3 1zm-2 3zm-5 5zm9 3zm-7 1zm1 6zm-4 3zm1 0zm8 1zm-2 3zm3 1zm-5 1zm-4 2zm9 3zm-4 3zm3 2zm1 3zm-4 1zm-2 0zm6 7zm-2 1zm1 0zm-5 8zm6 24zm0 1zm-2 4zm-5 7zm5 1zm0 4zm-8 2zm7 6zm-2 0zm-3 11zm10-221zm2 1zm-1 8zm7 9zm-2 11zm2 4zm-1 1zm-1 18zm3 6zm-7 0zm4 2zm4 4zm-8 9zm7 6zm-10 1zm2 5zm6 0zm-2 3zm3 5zm-2 0zm4 2zm-3 6zm1 1zm2 0zm-11 0zm10 1zm0 4zm-3 2zm-1 8zm-6 2zm10 3zm-6 1zm2 2zm-4 0zm5 3zm-6 1zm7 2zm-2 0zm4 2zm0 5zm1 2zm-4 5zm-7 3zm3 7zm5 3zm-7 0zm4 6zm5 0zm-5 1zm5 2zm-9 2zm1 0zm0 3zm2 9zm4 0zm1 3zm2 7zm-1 1zm-4 27zm5 3zm-6 43zm9-261zm1 13zm5 14zm-4 12zm5 4zm-3 5zm4 3zm1 4zm-8 1zm8 1zm-5 15zm-4 1zm-2 3zm7 5zm1 1zm-3 2zm-1 8zm-1 1zm5 0zm-4 1zm0 1zm4 5zm2 0zm-10 3zm6 2zm-4 2zm4 0zm-5 3zm9 2zm-6 3zm5 4zm-2 4zm2 4zm0 0zm-1 0zm-7 5zm-1 1zm5 2zm-3 2zm9 5zm-5 5zm-3 0zm4 8zm0 0zm3 3zm-7 4zm5 2zm-8 1zm3 2zm-1 5zm4 2zm-1 0zm6 2zm-3 2zm-8 9zm6 1zm-3 5zm6 8zm-3 9zm-6 4zm1 4zm3 29zm17-259zm2 21zm-8 4zm-1 8zm3 11zm5 5zm1 0zm-7 2zm7 3zm-1 1zm-9 1zm8 5zm-3 2zm-6 0zm8 11zm3 1zm0 2zm-11 0zm11 5zm-7 2zm6 2zm-5 2zm-1 2zm-4 9zm9 3zm-2 3zm-7 2zm2 8zm3 1zm-1 3zm7 1zm-7 4zm1 1zm-4 1zm4 3zm0 6zm-5 1zm0 2zm4 3zm7 1zm-5 0zm2 0zm-8 1zm3 1zm8 2zm-4 4zm-3 3zm5 1zm-6 1zm5 2zm1 3zm-3 2zm4 4zm-1 3zm0 2zm-8 7zm4 1zm-1 7zm1 1zm6 0zm-7 0zm-4 6zm9 16zm-9 2zm7 2zm-7 9zm6 17zm4 10zm9-256zm-4 22zm8 12zm-10 2zm6 18zm-3 7zm3 1zm-3 7zm0 1zm6 2zm-4 0zm5 9zm-7 3zm-1 1zm0 3zm5 3zm-8 3zm9 1zm0 6zm-8 0zm8 3zm-3 4zm0 1zm3 2zm-9 2zm1 6zm6 8zm4 1zm-5 6zm-4 2zm9 0zm-10 6zm3 3zm-1 1zm1 5zm1 1zm6 4zm-3 1zm-7 6zm8 1zm2 4zm-7 5zm3 5zm1 11zm3 6zm-8 2zm4 38zm-5 5zm4 0zm10-256zm-2 20zm6 4zm-1 16zm-7 4zm9 11zm0 11zm-8 26zm-1 0zm2 11zm5 1zm-5 3zm1 1zm3 5zm-2 3zm7 2zm-11 2zm8 5zm-2 2zm2 7zm-8 1zm10 8zm-5 3zm1 2zm2 4zm0 1zm2 5zm1 2zm-2 3zm2 2zm-10 0zm8 1zm-7 1zm-1 14zm1 1zm9 3zm-3 10zm-6 0zm3 2zm-1 1zm4 0zm-8 2zm7 5zm1 12zm1 0zm-4 7zm-2 27zm8 15zm9-222zm-5 33zm3 4zm-1 16zm2 3zm-5 7zm4 0zm5 5zm-7 1zm-2 1zm-1 6zm1 2zm5 9zm-6 2zm0 2zm1 8zm9 4zm-10 1zm-1 2zm10 1zm-1 2zm-2 2zm-7 1zm3 5zm-1 4zm4 0zm5 6zm-7 5zm-1 0zm-1 2zm7 7zm-4 2zm1 4zm-2 0zm0 3zm4 1zm-6 9zm-1 9zm1 3zm9 9zm0 45zm-11 8zm11 12zm1-251zm6 28zm-4 12zm6 19zm1 17zm-9 18zm3 4zm-2 0zm2 1zm5 1zm-8 7zm0 0zm11 3zm-10 1zm1 1zm0 3zm2 13zm-1 0zm-2 4zm10 9zm-2 7zm2 29zm-11 6zm5 13zm-1 7zm14-187zm2 28zm1 15zm-7 9zm-2 3zm1 1zm10 5zm-3 13zm-6 1zm6 4zm-8 4zm8 11zm2 4zm-7 7zm3 2zm3 2zm1 2zm-8 7zm6 15zm1 3zm-1 5zm3 16zm-9 3zm5 26zm-4 16zm-3 55zm12-286zm11 16zm-10 19zm7 1zm-2 27zm5 32zm-9 6zm-1 10zm6 2zm0 3zm-6 5zm2 18zm7 2zm-1 6zm-5 2zm-2 0zm-2 6zm7 34zm3 1zm-6 4zm8-113zm11 2zm-11 11zm4 28zm5 28zm-5 7zm4 47zm5-138zm-1 15zm0 22zm9 14zm-6 9zm7 17zm-10 28zm16-35zm1 24zm15-95zm-7 56zm4 60z"/>
<path class="d" stroke="#d62728" transform="scale(.5)" style="stroke-width:6.8" d="M154 448zm44-142zm2 17zm2 31zm10-32zm-8 79zm22-75zm-7 40zm0 1zm1 34zm0 14zm7 19zm8-144zm4 10zm-8 54zm3 9zm4 0zm-5 14zm-1 6zm-1 14zm-3 29zm14-161zm4 40zm2 26zm-7 27zm8 1zm-8 0zm1 53zm-1 7zm-1 74zm17-192zm-3 11zm6 7zm-5 14zm8 7zm-5 5zm-4 9zm9 0zm-7 1zm5 3zm1 27zm-9 4zm-1 4zm0 1zm11 0zm-5 4zm2 3zm-3 1zm16-159zm-8 2zm6 20zm-4 4zm2 3zm-4 3zm7 12zm-8 1zm9 11zm-4 22zm0 2zm4 2zm1 3zm-2 7zm-6 10zm5 5zm-6 1zm10 2zm-7 12zm3 14zm-7 6zm3 21zm6 6zm-9 1zm5 10zm3 3zm-4 32zm1 0zm11-221zm6 35zm-8 2zm6 8zm-7 15zm2 10zm1 0zm-1 15zm6 5zm-1 4zm0 9zm2 2zm-1 5zm0 1zm-9 2zm3 4zm4 1zm-2 2zm2 2zm1 1zm0 8zm-4 9zm5 2zm-6 5zm4 1zm0 6zm-3 2zm1 5zm-3 2zm8 23zm-7 16zm8 19zm-5 13zm13-252zm-2 41zm5 2zm-9 3zm2 17zm4 5zm-2 4zm1 4zm-1 4zm3 0zm-3 3zm4 6zm-2 0zm-2 1zm-2 1zm-2 14zm10 0zm0 2zm-9 2zm3 5zm0 1zm3 2zm3 2zm-4 4zm-6 4zm0 2zm10 1zm-4 1zm0 1zm4 2zm-3 3zm-8 0zm8 4zm-6 8zm1 2zm0 4zm-1 2zm5 3zm-6 14zm-1 5zm7 2zm0 0zm-6 1zm7 1zm3 6zm-5 2zm-3 20zm4 10zm3 5zm0 25zm-6 7zm-2 46zm14-293zm1 10zm2 0zm3 20zm-8 0zm9 3zm0 0zm-9 11zm-2 13zm3 5zm-2 2zm0 6zm1 0zm7 4zm0 6zm-3 4zm3 2zm2 8zm-9 0zm-2 0zm4 1zm5 5zm-8 1zm8 1zm-8 0zm-1 12zm1 2zm-1 2zm9 5zm-7 3zm6 11zm-3 2zm3 1zm-8 9zm5 3zm-2 4zm1 2zm6 2zm-1 4zm-9 3zm0 3zm4 5zm5 4zm-9 4zm3 16zm1 2zm7 3zm-11 5zm5 6zm-4 59zm16-240zm-2 5zm8 0zm-4 5zm-7 11zm11 1zm-4 3zm-1 2zm-2 0zm6 3zm-2 3zm-5 4zm6 14zm-3 1zm2 0zm1 0zm-4 5zm-1 4zm-3 1zm9 5zm-8 3zm2 3zm5 4zm-1 11zm-8 0zm7 0zm2 0zm-8 4zm0 2zm7 3zm3 4zm-8 0zm0 0zm-3 0zm11 2zm-11 8zm9 1zm1 3zm-1 8zm-3 12zm-1 0zm-5 2zm0 0zm2 6zm-1 1zm4 13zm-4 1zm-1 8zm7 8zm1 29zm2 15zm11-281zm-9 13zm11 54zm-7 6zm6 5zm-6 2zm-2 11zm-1 5zm4 7zm0 1zm3 7zm-5 0zm-3 1zm5 3zm4 1zm2 3zm-4 0zm3 7zm-8 0zm7 0zm-3 9zm-2 0zm7 8zm-5 4zm5 1zm-5 1zm1 6zm3 0zm-6 4zm-3 3zm2 2zm6 2zm-4 1zm-1 3zm5 3zm-5 2zm-2 2zm0 2zm6 1zm2 0zm-3 4zm-1 6zm-3 4zm8 1zm0 1zm-9 3zm8 9zm-6 6zm1 7zm1 2zm2 6zm-6 3zm5 10zm2 5zm-4 10zm4 2zm-6 8zm4 12zm-1 14zm2 6zm10-284zm-5 36zm10 11zm-10 2zm-1 7zm2 1zm6 0zm2 3zm-6 23zm1 6zm1 12zm3 5zm-9 1zm11 6zm-4 2zm-7 1zm8 5zm-4 0zm1 4zm4 0zm0 3zm-7 9zm-2 1zm6 3zm5 0zm-7 2zm-3 2zm5 1zm-5 0zm5 1zm3 2zm0 2zm-3 2zm-2 0zm-1 1zm0 1zm8 0zm-8 1zm3 0zm0 2zm-6 0zm5 0zm1 3zm4 1zm-3 2zm3 7zm-6 1zm2 5zm-6 0zm6 1zm-1 5zm0 0zm5 6zm-4 8zm-2 6zm-2 7zm-2 1zm9 8zm-7 18zm-1 3zm8 13zm8-261zm-5 19zm5 11zm0 12zm-2 14zm4 6zm0 15zm4 15zm-1 6zm-9 0zm2 7zm0 6zm-3 3zm4 1zm6 4zm-4 1zm-1 0zm6 6zm-3 1zm-3 2zm3 1zm0 3zm1 4zm1 2zm1 6zm-7 1zm-3 6zm-1 3zm8 1zm-1 1zm-6 0zm10 4zm-5 1zm-2 1zm-4 5zm9 4zm-5 3zm0 1zm7 1zm-4 2zm4 5zm-4 2zm-5 1zm1 2zm1 2zm-4 0zm11 1zm-9 6zm7 1zm1 2zm-2 22zm2 15zm-7 8zm2 6zm1 11zm1 5zm-3 9zm3 19zm11-293zm0 11zm4 14zm-7 9zm8 6zm0 9zm-6 0zm-4 9zm0 3zm5 12zm-6 4zm3 1zm-3 0zm4 2zm0 0zm2 1zm-3 2zm3 0zm5 0zm-6 5zm4 0zm-9 7zm1 3zm10 8zm-8 2zm-2 5zm4 1zm6 8zm-4 2zm-4 4zm4 1zm-2 1zm3 4zm1 3zm-9 2zm6 2zm-5 0zm0 1zm3 1zm2 2zm-6 6zm7 5zm-7 0zm5 0zm5 2zm-1 5zm-9 2zm4 1zm3 3zm1 2zm1 2zm-9 6zm10 1zm-10 1zm5 5zm2 4zm-1 5zm-3 4zm-3 0zm5 20zm-1 0zm2 7zm0 0zm-5 3zm10 12zm-11 10zm5 44zm8-303zm9 11zm-6 21zm6 4zm-8 9zm0 8zm-2 3zm6 4zm-4 7zm7 7zm-9 7zm4 1zm7 11zm0 0zm-10 18zm0 6zm-1 6zm4 3zm-4 6zm6 1zm-2 3zm-2 10zm5 4zm0 0zm1 3zm1 2zm-8 1zm6 8zm-5 1zm0 2zm5 3zm0 2zm-1 13zm3 0zm-2 2zm4 3zm-1 8zm-6 2zm3 3zm-2 1zm6 10zm-11 5zm8 4zm-4 30zm6 14zm-5 29zm16-275zm-9 9zm4 9zm1 1zm-3 10zm2 7zm-3 1zm4 1zm5 1zm-10 2zm8 1zm-6 3zm8 7zm-7 0zm3 1zm-2 0zm7 12zm-11 0zm4 2zm3 1zm-1 2zm-2 6zm-3 4zm3 0zm4 0zm-1 2zm-4 3zm6 1zm0 6zm-7 1zm9 2zm-2 7zm-6 5zm7 0zm-9 1zm6 4zm-4 2zm8 0zm0 2zm-5 3zm3 1zm-9 3zm2 5zm-2 0zm0 3zm3 3zm-2 1zm4 4zm-3 0zm8 1zm-9 4zm6 3zm-4 4zm4 1zm-7 3zm10 7zm-1 0zm-4 2zm-3 3zm1 4zm8 0zm-7 6zm-3 3zm9 4zm-5 2zm1 5zm2 12zm-3 8zm-5 2zm9 0zm-7 69zm3 40zm8-323zm6 18zm-3 4zm-1 16zm6 3zm1 2zm-3 4zm1 12zm-3 1zm-3 1zm1 1zm8 8zm-8 1zm4 4zm4 0zm-8 3zm4 4zm-2 17zm1 9zm-3 1zm-2 6zm0 3zm0 0zm7 5zm2 1zm-5 0zm-5 4zm3 2zm1 4zm-1 2zm1 2zm-3 4zm10 4zm-9 5zm9 2zm-4 3zm-6 6zm10 0zm-11 1zm1 1zm8 4zm-8 1zm7 0zm3 2zm-1 5zm-2 8zm2 9zm-8 4zm-2 4zm8 4zm-2 0zm7-260zm4 109zm-2 1zm-2 10zm-1 1zm7 5zm0 4zm3 9zm-1 2zm-3 2zm0 6zm2 3zm-4 2zm1 7zm-1 3zm6 4zm-7 2zm1 6zm5 4zm-4 3zm5 0zm-9 18zm3 1zm7 5zm-7 5zm-1 1zm0 3zm8 4zm-4 4zm2 7zm-5 3zm-3 7zm7 1zm2 7zm-5 8zm0 29zm5 2zm-7 35zm0 6zm11-261zm2 10zm5 3zm-9 20zm9 2zm-8 13zm9 12zm1 4zm-6 7zm-4 9zm7 2zm-3 3zm0 3zm-3 2zm3 6zm1 1zm0 7zm-5 1zm2 7zm1 4zm-4 5zm0 7zm3 7zm4 3zm-7 4zm6 3zm-3 6zm6 3zm-3 4zm-6 4zm11 6zm-11 7zm8 1zm1 9zm-9 4zm1 11zm0 25zm22-225zm-10 19zm1 8zm8 4zm0 1zm-10 8zm10 5zm-7 25zm-2 4zm8 2zm-7 3zm2 25zm5 4zm-1 2zm0 2zm-8 4zm6 2zm2 2zm2 13zm-2 4zm-7 2zm1 0zm3 7zm-3 0zm3 22zm3 0zm-7 4zm9 4zm-1 2zm-2 9zm0 10zm0 17zm9-163zm4 6zm-1 24zm-2 63zm-3 2zm-1 23zm2 6zm4 41zm10-215zm-4 13zm-1 18zm0 6zm4 41zm2 35zm-2 16zm2 13zm2 1zm-6 3zm6 0zm-7 53zm22-127zm-8 14zm-2 2zm9 2zm-7 17zm5 0zm-5 22zm1 5zm-3 4zm7 31zm7-96zm6 52zm-6 15zm3 21zm-5 4zm10 29zm5-151zm2 54zm-1 41zm5 8zm10 11zm37-3z"/>
</g>
<rect class="t" x="0" y="0" width="340.5" height="338.6"/>
<path class="t" d="M28.9 338.6v3.5M0 310.6h-3.5M99.7 338.6v3.5M0 240.1h-3.5M170.4 338.6v3.5M0 169.7h-3.5M241.2 338.6v3.5M0 99.3h-3.5M312.0 338.6v3.5M0 28.8h-3.5"/>
<text class="tl" x="28.9" y="358.3" text-anchor="middle">−5.0</text><text class="tl" x="-8.0" y="316.8" text-anchor="end">−5.0</text>
<text class="tl" x="99.7" y="358.3" text-anchor="middle">−2.5</text><text class="tl" x="-8.0" y="246.3" text-anchor="end">−2.5</text>
<text class="tl" x="170.4" y="358.3" text-anchor="middle">0.0</text><text class="tl" x="-8.0" y="175.9" text-anchor="end">0.0</text>
<text class="tl" x="241.2" y="358.3" text-anchor="middle">2.5</text><text class="tl" x="-8.0" y="105.5" text-anchor="end">2.5</text>
<text class="tl" x="312.0" y="358.3" text-anchor="middle">5.0</text><text class="tl" x="-8.0" y="35.0" text-anchor="end">5.0</text>
<text class="ti" x="170.0" y="-5.6" text-anchor="middle">0.3 Photons / Symbol</text>
<text class="al" x="170.0" y="380.1" text-anchor="middle">I Quadrature [SNU]</text>
<text class="al" transform="translate(-55 169.3) rotate(-90)" text-anchor="middle">Q Quadrature [SNU]</text>
<g transform="translate(271.3 6.0)"><rect x="0" y="0" width="62.4" height="94.7" rx="2.8" fill="#fff" fill-opacity=".8" stroke="#ccc" stroke-opacity=".8" stroke-width="1.1"/><text class="lt" x="31.2" y="16" text-anchor="middle">Symbol</text><circle cx="22.8" cy="31.3" r="6.15" fill="#1f77b4"/><text class="le" x="44.9" y="34.6">0</text><circle cx="22.8" cy="49.1" r="6.15" fill="#ff7f0e"/><text class="le" x="44.9" y="52.4">1</text><circle cx="22.8" cy="66.9" r="6.15" fill="#2ca02c"/><text class="le" x="44.9" y="70.2">2</text><circle cx="22.8" cy="84.7" r="6.15" fill="#d62728"/><text class="le" x="44.9" y="88.0">3</text></g>
</g>
<g transform="translate(70.0 504.5)">
<path class="g" d="M28.4 0V337.9M0 309.8H340.5M99.1 0V337.9M0 239.3H340.5M169.9 0V337.9M0 168.9H340.5M240.7 0V337.9M0 98.5H340.5M311.4 0V337.9M0 28.0H340.5"/>
<g clip-path="url(#c)">
<path class="d" stroke="#1f77b4" transform="scale(.5)" style="stroke-width:6.8" d="M286 224zm6 18zm1 10zm-3 3zm6 63zm9-125zm-4 43zm6 24zm1 3zm-2 4zm-3 79zm10-139zm8 5zm-2 24zm0 50zm14-104zm-1 28zm-7 6zm8 10zm2 45zm0 45zm6-156zm3 83zm-6 6zm0 7zm4 5zm-2 18zm0 38zm4 20zm7-337zm7 163zm-9 40zm6 6zm-2 34zm6 12zm0 4zm-2 16zm-9 16zm0 10zm10 5zm1 7zm-3 9zm-7 1zm6 19zm16-206zm-9 1zm2 26zm7 33zm-2 1zm-5 8zm-2 4zm7 2zm0 15zm-5 3zm-1 11zm3 13zm-6 20zm6 9zm5 4zm-9 37zm10-198zm4 81zm3 0zm3 3zm-8 3zm7 3zm-6 1zm6 11zm-4 6zm1 0zm-4 1zm2 5zm-4 2zm7 6zm-4 0zm-1 3zm2 15zm-1 2zm-3 2zm11 4zm-4 22zm2 4zm-3 8zm-1 4zm6 11zm-8 5zm20-180zm-7 46zm1 15zm1 5zm-5 3zm5 2zm5 1zm-8 3zm1 3zm1 0zm3 10zm-5 2zm-2 4zm7 0zm-5 16zm6 4zm2 2zm-4 13zm2 2zm-7 2zm3 6zm-1 1zm-3 6zm0 17zm3 15zm4 14zm-5 2zm6 3zm8-178zm4 0zm-7 9zm2 16zm7 2zm-1 9zm-9 1zm5 0zm-1 8zm4 6zm-5 6zm-2 0zm6 15zm-3 3zm1 9zm-3 1zm4 6zm1 3zm-6 10zm-2 5zm6 3zm-6 3zm7 1zm-4 3zm8 4zm0 2zm-11 7zm4 7zm-1 24zm8 41zm-8 11zm18-243zm-7 34zm5 1zm1 9zm1 3zm-6 3zm0 4zm-3 13zm8 1zm1 5zm-3 1zm1 8zm-4 8zm-3 1zm10 6zm-5 2zm2 4zm-6 7zm-1 1zm5 1zm4 0zm-8 1zm0 6zm7 3zm-7 0zm3 1zm5 0zm0 1zm1 2zm-1 2zm-4 3zm1 1zm4 1zm-7 5zm2 0zm-5 4zm11 2zm-3 1zm-3 1zm-3 0zm7 3zm2 2zm-3 5zm0 14zm-2 11zm-2 9zm1 18zm9-210zm4 9zm-5 13zm4 4zm6 7zm-4 18zm-4 11zm8 2zm-5 6zm-1 1zm5 12zm-2 0zm3 5zm-9 2zm2 5zm4 2zm2 1zm-4 7zm-5 3zm5 2zm2 1zm-5 4zm1 0zm6 4zm-7 0zm8 5zm-5 4zm-5 2zm0 0zm1 4zm5 6zm4 6zm-7 2zm0 5zm6 0zm0 9zm-1 1zm-6 1zm5 0zm2 0zm-5 7zm-1 1zm-4 0zm5 46zm6 62zm3-302zm7 27zm-5 17zm3 11zm0 1zm3 10zm-1 2zm-6 4zm7 6zm-5 4zm-2 7zm0 8zm-3 6zm5 3zm2 0zm0 6zm-3 5zm-1 2zm4 0zm0 4zm-5 2zm9 4zm0 1zm-3 1zm-8 3zm6 1zm4 1zm-3 1zm-4 5zm6 8zm0 6zm-4 1zm3 4zm0 3zm1 12zm-2 1zm1 0zm1 17zm-1 5zm-5 8zm6 14zm-6 17zm-1 1zm14-239zm4 11zm-3 4zm5 5zm-7 19zm-1 2zm3 6zm-2 4zm-2 2zm3 4zm-1 4zm3 2zm-1 7zm-3 1zm-2 6zm8 0zm-1 0zm-1 4zm4 2zm0 3zm-2 5zm-4 1zm7 0zm0 6zm0 3zm-2 3zm1 10zm-6 1zm2 1zm-3 1zm3 5zm0 4zm-2 0zm-2 3zm-2 0zm0 6zm1 4zm5 2zm-5 4zm-1 0zm2 1zm4 0zm-4 5zm2 0zm6 2zm-4 3zm-3 0zm3 2zm-6 3zm8 0zm-3 5zm0 8zm3 1zm-4 0zm1 0zm3 5zm-2 3zm1 0zm-6 7zm4 6zm0 1zm6 5zm0 6zm-8 17zm-3 13zm1 6zm2 7zm-1 2zm4 12zm16-268zm-10 3zm1 41zm-1 7zm7 5zm-5 1zm4 4zm1 2zm-6 3zm4 2zm-4 6zm7 1zm-1 9zm2 2zm-7 2zm1 1zm-1 5zm3 3zm-3 0zm1 4zm0 2zm-1 5zm-1 1zm7 0zm-5 4zm-2 8zm0 1zm2 2zm4 2zm1 1zm0 4zm-4 4zm7 1zm-4 0zm-5 1zm-2 1zm11 0zm-7 1zm6 1zm1 1zm-2 1zm-3 1zm-1 3zm-3 3zm-2 3zm0 1zm10 3zm-10 2zm10 2zm-7 2zm-1 7zm8 0zm-7 11zm-2 4zm4 4zm-2 1zm1 3zm3 1zm0 6zm-6 5zm6 2zm-4 6zm-3 5zm8 19zm0 8zm-6 6zm10-222zm8 24zm-5 18zm-3 4zm4 3zm4 5zm-4 1zm-3 5zm4 3zm3 1zm3 1zm-3 3zm3 12zm-7 4zm0 1zm2 10zm2 1zm2 1zm-5 12zm-3 0zm6 1zm-1 0zm-5 3zm1 3zm-3 2zm10 0zm-1 2zm-2 3zm-1 0zm5 2zm-1 3zm1 6zm-10 2zm-1 1zm4 0zm3 1zm-2 1zm-5 2zm11 1zm-2 0zm-2 4zm1 0zm-4 3zm-1 1zm2 10zm-2 4zm0 1zm7 6zm-9 3zm4 1zm6 7zm0 1zm-5 1zm-4 7zm4 0zm-3 1zm8 3zm-3 26zm5-196zm4 2zm5 2zm-6 2zm7 7zm-11 5zm3 6zm0 7zm5 4zm-8 2zm4 1zm1 8zm3 4zm3 1zm-9 2zm-2 5zm8 1zm-5 4zm-2 3zm1 0zm0 4zm4 0zm-3 1zm-3 2zm8 1zm0 1zm-3 4zm5 0zm0 2zm1 2zm-7 1zm5 4zm-5 1zm4 2zm-3 1zm-4 5zm-1 0zm1 1zm8 6zm-4 2zm-4 3zm-1 5zm2 2zm1 1zm8 2zm-3 0zm-6 7zm-1 1zm7 1zm-7 2zm1 2zm-2 7zm6 1zm0 1zm1 2zm0 18zm-6 5zm6 1zm4 3zm-6 10zm-4 10zm7 5zm15-224zm-3 18zm-6 8zm5 15zm-1 8zm1 16zm-7 9zm4 0zm3 6zm-2 1zm1 2zm2 0zm-1 2zm-6 3zm0 2zm6 6zm3 3zm0 5zm-1 6zm2 1zm-7 0zm3 0zm0 8zm-6 6zm1 0zm-1 8zm4 0zm1 4zm-6 2zm5 4zm3 8zm-8 8zm7 1zm-6 3zm0 6zm5 11zm-2 2zm-1 10zm-3 0zm1 5zm4 0zm5 2zm1 8zm-8 3zm3 4zm-4 42zm7 175zm13-460zm-9 30zm6 31zm1 21zm-5 6zm0 12zm5 0zm-4 3zm-4 5zm2 3zm3 1zm3 3zm0 17zm-1 1zm-2 8zm5 4zm-8 8zm1 10zm6 2zm2 0zm-3 2zm-7 4zm4 6zm-3 9zm5 6zm-3 5zm6 5zm-8 8zm6 6zm3 12zm-7 5zm2 1zm5 12zm-4 5zm-3 53zm17-259zm-8 0zm4 14zm4 10zm2 20zm-8 3zm2 3zm6 8zm-8 8zm3 3zm-2 1zm-3 4zm5 0zm5 2zm-8 12zm6 15zm-6 5zm0 4zm-1 4zm1 4zm4 5zm-1 1zm1 7zm-1 2zm5 3zm-11 1zm10 1zm-1 10zm-6 6zm0 6zm-3 1zm5 17zm2 2zm1 0zm-6 42zm0 16zm11-244zm3 12zm-2 20zm1 2zm0 1zm-2 7zm0 7zm4 13zm0 1zm0 10zm4 15zm-4 1zm4 1zm-2 6zm-7 2zm3 1zm-1 3zm5 4zm4 7zm-8 22zm7 7zm-2 0zm3 2zm-4 14zm3 10zm-1 3zm-4 1zm10-167zm-2 15zm3 20zm6 7zm-10 11zm3 4zm5 9zm-7 19zm9 1zm0 0zm-6 7zm-1 13zm-3 2zm10 6zm-4 3zm-3 0zm4 9zm-3 3zm0 5zm-3 6zm6 11zm2 1zm-9 0zm11 7zm-6 6zm-5 10zm18-172zm-1 10zm-2 26zm-3 4zm9 1zm-5 6zm-2 25zm1 12zm-3 9zm6 11zm1 11zm0 6zm-2 2zm1 0zm-6 23zm4 7zm-1 43zm9-204zm2 15zm-1 63zm0 7zm2 25zm3 4zm-5 15zm1 0zm0 5zm7 2zm-2 6zm1 4zm-1 17zm-6 24zm7 36zm8-239zm4 136zm1 17zm-3 19zm0 33zm6-81zm1 4zm0 22zm10 34zm3-110zm7 37zm-8 19zm8 10zm-3 15zm3 8zm1 9zm-8 15zm11-126zm0 0zm-1 31zm7 31zm-1 68zm15-97zm-6 25zm9-6z"/>
<path class="d" stroke="#ff7f0e" transform="scale(.5)" style="stroke-width:6.8" d="M31 213zm8 49zm5 71zm13-125zm-3 6zm-3 1zm4 1zm6 50zm18-64zm3 20zm1 36zm-1 9zm-10 13zm8 13zm8-156zm-4 61zm10 0zm0 2zm-1 10zm-5 14zm-1 6zm7 31zm1 19zm7-117zm5 27zm-6 4zm5 17zm0 4zm-8 22zm3 7zm4 17zm-4 3zm1 2zm-3 7zm2 5zm-3 35zm6 7zm-6 5zm7 40zm9-186zm1 6zm3 19zm0 35zm-7 0zm2 5zm-3 8zm4 8zm2 9zm-5 9zm8 1zm-6 1zm0 28zm5 2zm1 5zm-9 68zm15-237zm3 5zm1 60zm-6 4zm1 1zm2 8zm-5 8zm-1 5zm4 6zm3 3zm-7 3zm4 1zm-3 0zm2 11zm6 5zm-2 0zm4 7zm-3 16zm1 4zm-6 10zm6 0zm0 4zm0 11zm-1 9zm-6 36zm17-237zm-7 22zm5 30zm-1 6zm-4 12zm6 6zm-3 3zm4 1zm-2 0zm5 12zm-3 5zm0 3zm-3 8zm-2 1zm8 1zm-3 5zm-5 1zm0 11zm9 7zm-8 3zm8 2zm-8 8zm-2 3zm2 48zm4 8zm-2 16zm3 29zm15-211zm-9 1zm7 6zm-6 4zm2 27zm-5 3zm5 4zm4 9zm-4 1zm-3 17zm-1 0zm4 2zm6 8zm-11 11zm7 5zm-1 0zm-1 0zm2 11zm-2 5zm2 1zm4 4zm-11 4zm4 6zm1 5zm1 7zm5 48zm-8 3zm8 53zm2-266zm1 10zm1 12zm8 5zm-7 8zm-1 11zm4 9zm3 1zm-10 1zm6 1zm-4 2zm-1 2zm1 2zm2 0zm-1 4zm3 5zm0 2zm-3 1zm3 6zm-6 5zm6 1zm-2 2zm5 3zm-1 6zm-6 5zm6 8zm-6 1zm3 8zm-5 5zm1 5zm4 5zm3 7zm2 6zm-2 1zm-7 1zm9 8zm-10 0zm7 0zm-7 8zm7 0zm-4 4zm-3 2zm8 5zm-3 19zm-2 7zm0 1zm7 22zm5-249zm8 12zm-8 17zm7 19zm-3 6zm-1 3zm2 7zm2 5zm-9 30zm4 2zm-4 5zm3 4zm-4 1zm4 1zm6 5zm-4 5zm-3 2zm7 2zm-1 1zm0 5zm-6 4zm1 1zm-2 1zm6 0zm2 4zm-8 2zm3 5zm3 2zm-5 5zm2 0zm6 1zm-4 7zm2 13zm-2 4zm3 2zm-7 5zm5 14zm-3 9zm-2 50zm-3 11zm17-298zm4 8zm-3 22zm4 20zm-6 3zm1 14zm4 3zm-1 9zm2 14zm-9 3zm8 1zm-9 2zm7 3zm-4 2zm8 11zm-8 2zm-2 14zm3 0zm6 1zm-7 1zm4 1zm-7 0zm3 3zm6 1zm2 14zm-4 2zm-5 10zm7 3zm-4 1zm1 0zm-6 2zm4 2zm1 9zm0 1zm-5 0zm3 2zm8 4zm-8 4zm1 5zm1 0zm6 2zm0 8zm-11 3zm2 6zm6 1zm0 15zm-5 3zm7 1zm-8 11zm6 9zm-5 0zm6 15zm1 0zm-2 42zm5-321zm8 33zm-2 9zm2 8zm0 26zm-8 7zm6 17zm-6 0zm9 8zm-6 1zm2 6zm-5 19zm6 3zm3 11zm-7 1zm5 5zm-2 5zm1 4zm0 3zm3 4zm-10 3zm10 0zm-3 3zm1 1zm-6 2zm7 1zm-8 0zm9 6zm0 2zm-6 1zm6 1zm-9 8zm7 6zm-2 10zm-2 0zm-3 4zm4 1zm-4 6zm3 12zm6 7zm-3 18zm-1 3zm-6 5zm3 6zm7 5zm-3 41zm14-284zm0 1zm-7 8zm-1 27zm4 1zm3 3zm-1 10zm-7 16zm7 1zm3 9zm0 5zm-5 3zm-3 3zm7 8zm-2 1zm1 2zm-5 0zm-2 5zm6 2zm-4 0zm1 5zm-2 1zm9 0zm0 10zm-10 3zm-1 17zm6 7zm3 6zm2 1zm0 1zm-2 2zm-6 3zm3 7zm-6 4zm1 4zm4 1zm1 42zm4 14zm1 6zm-10 3zm8 20zm5-270zm1 8zm7 13zm-9 4zm6 4zm-6 17zm8 10zm1 5zm-5 0zm5 0zm-8 3zm3 1zm4 2zm2 0zm-5 7zm-1 3zm-5 2zm0 3zm6 2zm-2 0zm-4 1zm6 0zm0 3zm2 4zm-6 0zm5 6zm2 0zm-8 1zm0 8zm10 1zm-7 2zm-2 3zm-1 0zm2 4zm2 2zm3 0zm-5 1zm4 2zm-1 5zm-4 0zm5 1zm-4 6zm8 0zm-4 1zm-1 0zm-4 2zm1 6zm-2 5zm8 1zm2 1zm-2 2zm-6 5zm-1 2zm2 3zm7 10zm0 3zm-1 4zm-10 7zm11 3zm-4 0zm0 1zm-6 2zm7 3zm-4 1zm-3 2zm10 2zm-2 2zm-9 17zm6 6zm-5 13zm-1 20zm7 29zm10-316zm-1 15zm0 46zm-1 4zm3 7zm4 6zm-3 1zm2 5zm-8 2zm6 3zm2 1zm1 3zm-7 4zm7 0zm-5 4zm2 4zm-5 4zm-1 6zm5 3zm5 1zm-6 2zm-5 4zm9 0zm-5 1zm-1 3zm4 4zm-1 0zm1 1zm-1 1zm-5 6zm9 3zm-6 1zm5 1zm-3 1zm-1 2zm-4 0zm5 1zm-3 0zm-3 2zm6 4zm-2 1zm6 1zm-7 1zm7 3zm-3 3zm3 5zm-8 5zm-1 3zm0 0zm7 2zm-2 2zm-6 2zm0 13zm2 0zm3 0zm-1 1zm4 4zm0 4zm-4 0zm-1 12zm0 1zm4 9zm2 3zm-5 43zm-2 16zm0 9zm5 4zm7-288zm-1 54zm9 1zm-8 5zm9 16zm-3 4zm-2 4zm5 2zm-5 2zm5 0zm-10 0zm5 6zm-4 2zm1 3zm1 3zm6 2zm0 0zm-8 1zm7 2zm-9 13zm1 1zm2 0zm-2 5zm10 1zm-4 2zm-4 1zm1 2zm3 3zm3 3zm-9 4zm-1 5zm10 1zm-4 10zm4 9zm-1 2zm-6 2zm-2 7zm10 7zm-7 0zm6 3zm-1 5zm-1 0zm1 1zm-8 5zm1 6zm9 20zm-8 10zm-2 3zm-1 3zm5 41zm11-244zm2 28zm2 1zm-3 4zm-5 6zm5 4zm6 8zm-2 5zm-3 7zm1 1zm-3 5zm1 0zm-5 1zm4 5zm-2 7zm8 1zm-9 6zm9 8zm-5 0zm1 3zm-6 3zm8 2zm-7 9zm1 3zm6 1zm-1 2zm-3 11zm-2 6zm8 1zm0 9zm-8 5zm6 2zm-8 3zm3 47zm11-249zm9 9zm-11 52zm8 0zm0 12zm2 20zm-4 35zm-3 4zm8 3zm-7 4zm-4 7zm10 3zm-7 0zm-1 0zm1 1zm-2 1zm1 6zm3 4zm-1 6zm2 1zm5 6zm-7 1zm-4 1zm6 4zm-5 4zm4 4zm-3 0zm-2 0zm1 1zm7 3zm-4 28zm-4 10zm10 9zm-8 38zm5 22zm9-266zm6 11zm-8 7zm4 19zm-2 5zm4 3zm-6 5zm7 7zm-1 2zm-5 4zm6 10zm1 18zm-6 4zm3 1zm-2 3zm1 11zm-3 4zm7 0zm-3 0zm-5 5zm0 5zm-1 1zm8 0zm-7 17zm9 4zm-1 3zm-5 1zm-2 0zm3 3zm5 7zm-6 2zm-5 5zm4 1zm7 2zm-3 2zm-8 13zm7 7zm16-135zm-6 3zm-4 1zm6 19zm-1 12zm-2 5zm0 2zm-3 3zm4 10zm2 3zm1 16zm-7 0zm2 3zm-2 9zm6 3zm3 1zm-8 4zm1 0zm2 10zm1 20zm2 34zm2 17zm-10 6zm14-267zm-1 40zm2 20zm8 20zm-3 6zm-7 0zm4 2zm-1 8zm1 5zm3 6zm-1 2zm4 0zm-9 23zm4 10zm5 6zm-6 9zm2 1zm2 2zm-5 1zm4 10zm-8 3zm0 2zm6 5zm-1 1zm-5 3zm6 2zm1 13zm-2 2zm-2 4zm6 2zm-5 3zm-4 1zm10 1zm-8 12zm4 41zm15-191zm-7 11zm6 1zm2 5zm-2 44zm-5 5zm-1 0zm7 3zm-7 1zm-2 8zm0 11zm7 2zm-2 33zm0 20zm4 9zm-5 10zm10-216zm-1 43zm10 25zm-8 5zm-3 23zm1 22zm0 16zm-1 18zm2 21zm1 10zm1 45zm9-154zm3 14zm5 20zm-1 1zm2 2zm0 7zm-8 16zm0 51zm2 15zm2 51zm10-175zm1 12zm-1 27zm2 23zm14-40zm-7 33zm9 2zm0 16zm0 16zm-5 9zm-3 27zm12 6zm12-84zm3 52z"/>
<path class="d" stroke="#2ca02c" transform="scale(.5)" style="stroke-width:6.8" d="M11 293zm21 143zm4-14zm7 57zm13-114zm-6 14zm6 80zm10-78zm0 24zm1 10zm4 54zm-4 51zm14-36zm5-114zm7 16zm-4 2zm-3 27zm0 22zm9 6zm-6 20zm-1 17zm4 60zm5-216zm2 33zm8 26zm-7 3zm5 7zm-2 15zm-5 12zm2 13zm5 23zm-5 58zm13-197zm0 0zm5 11zm-4 29zm-3 32zm4 17zm1 6zm3 3zm-8 4zm6 48zm-9 11zm22-156zm-6 15zm6 20zm-4 1zm0 4zm-5 8zm1 5zm5 7zm-7 9zm6 15zm5 1zm-5 4zm-6 0zm5 4zm-5 2zm10 0zm-10 1zm8 15zm-1 3zm-4 7zm8 7zm-7 3zm-1 16zm6 13zm1 3zm-10 18zm8 14zm-8 3zm19-236zm3 32zm-2 12zm-2 10zm-6 16zm7 1zm2 14zm-9 3zm6 5zm1 18zm2 5zm-2 6zm-1 0zm-6 9zm2 3zm1 0zm1 1zm0 3zm1 4zm2 6zm-3 9zm7 7zm-3 8zm-3 10zm-2 10zm6 14zm-4 42zm1 2zm6-223zm3 18zm1 5zm5 11zm-2 8zm-4 8zm7 6zm-3 7zm-4 3zm-1 2zm7 2zm-7 7zm9 1zm-6 8zm3 0zm3 13zm-3 8zm-5 13zm7 1zm-6 3zm7 5zm-5 4zm4 15zm-8 3zm9 1zm-3 3zm-8 3zm2 1zm2 3zm6 13zm-8 15zm8 7zm-7 1zm6 0zm1 2zm-1 10zm0 12zm-3 21zm3 12zm5-244zm3 1zm3 31zm-1 10zm4 4zm-1 6zm-2 7zm-7 2zm1 1zm9 1zm-8 11zm2 4zm-2 6zm3 2zm5 14zm-9 0zm-1 2zm4 16zm0 6zm-2 3zm-1 1zm9 9zm-10 3zm9 4zm-2 1zm-6 10zm0 8zm9 1zm-3 6zm-1 18zm7-196zm-2 3zm3 8zm6 0zm-4 15zm-5 1zm6 14zm4 2zm-10 10zm10 8zm1 1zm-4 7zm-4 4zm7 7zm-10 1zm9 0zm-3 3zm3 4zm-4 2zm4 3zm-9 1zm0 10zm3 4zm1 5zm-3 2zm0 1zm0 1zm-1 1zm6 7zm3 2zm-5 2zm5 11zm-5 3zm6 4zm-3 2zm4 21zm-5 0zm-2 13zm-3 15zm10 33zm-10 9zm13-236zm9 10zm-1 16zm-2 1zm3 14zm-10 9zm2 2zm-1 6zm7 0zm2 9zm-1 2zm-3 5zm4 6zm-11 6zm6 1zm-4 1zm-1 6zm5 2zm-6 0zm0 4zm9 1zm-2 3zm-4 1zm0 1zm6 5zm-8 1zm4 5zm-5 3zm7 4zm-6 5zm6 11zm0 2zm-4 2zm-3 0zm2 9zm5 3zm4 2zm-9 3zm3 7zm4 12zm-8 1zm8 0zm-1 2zm-4 12zm0 16zm1 50zm7-292zm7 1zm1 11zm0 7zm-6 3zm1 26zm-3 1zm10 3zm1 7zm-3 4zm2 4zm-6 4zm-1 9zm7 3zm-8 1zm7 0zm-3 5zm-5 4zm6 5zm-2 12zm-2 5zm4 6zm1 0zm-6 3zm7 2zm-4 5zm4 0zm-9 0zm5 1zm-2 3zm1 2zm0 3zm0 0zm-1 1zm3 3zm0 3zm-6 1zm9 2zm-1 7zm0 3zm1 6zm1 3zm0 5zm-9 3zm5 0zm0 1zm-5 8zm5 2zm2 7zm-1 7zm-4 14zm7 1zm-1 1zm-9 44zm7 25zm5-269zm4 16zm-4 13zm4 14zm3 0zm-3 8zm3 6zm-5 8zm5 15zm0 6zm-2 4zm0 2zm1 1zm5 5zm-8 1zm2 0zm1 2zm3 0zm-7 5zm4 1zm1 0zm-6 6zm10 2zm-3 6zm-2 0zm0 1zm-4 1zm3 0zm3 0zm-3 0zm-4 1zm10 2zm-11 1zm6 3zm0 2zm1 1zm-3 1zm2 6zm3 2zm-1 3zm-7 8zm0 3zm4 1zm-2 10zm4 4zm-6 3zm10 1zm-10 7zm8 5zm-4 7zm-4 4zm2 3zm3 3zm1 1zm-6 6zm1 33zm19-264zm-9 39zm6 1zm-2 6zm-2 11zm5 2zm0 1zm-2 1zm-1 1zm6 5zm-8 2zm1 1zm8 13zm0 0zm-6 5zm-5 20zm0 0zm0 0zm4 2zm1 2zm3 1zm2 2zm0 0zm-3 2zm-3 2zm1 0zm3 2zm-7 0zm8 2zm-9 1zm0 1zm1 0zm10 1zm0 3zm-6 5zm4 0zm-9 4zm8 1zm-8 2zm0 5zm7 4zm-2 1zm-1 1zm-3 1zm9 2zm-8 2zm4 3zm2 0zm2 2zm-10 1zm10 3zm1 4zm-4 3zm3 6zm-5 9zm4 6zm2 3zm-7 3zm2 1zm3 1zm2 2zm-8 3zm2 8zm4 1zm-5 1zm0 2zm-1 9zm2 4zm5 2zm-8 1zm7 1zm-7 24zm-2 4zm9 14zm-2 13zm-5 74zm18-363zm-6 56zm6 1zm-2 4zm-5 1zm9 1zm-4 5zm5 1zm0 2zm-5 14zm4 3zm-8 2zm2 6zm5 0zm-3 4zm4 2zm-1 0zm-1 4zm-2 8zm-3 4zm1 1zm-1 2zm2 4zm-4 14zm5 0zm-6 1zm7 3zm-1 1zm2 0zm-2 8zm1 1zm-2 9zm-5 1zm8 1zm-4 0zm1 13zm1 4zm-2 1zm-4 11zm6 2zm0 0zm-4 11zm-1 4zm9 0zm-8 1zm5 8zm1 2zm1 49zm2 2zm11-248zm-9 3zm10 14zm-1 1zm-3 6zm-4 2zm-3 0zm10 3zm1 10zm-7 7zm-4 8zm1 1zm4 3zm-4 3zm4 0zm5 3zm-6 8zm0 0zm-4 3zm4 4zm6 4zm-7 1zm4 8zm-5 0zm8 7zm-8 1zm2 1zm2 1zm0 1zm4 0zm-8 2zm2 5zm6 0zm0 3zm-6 5zm-3 1zm3 2zm3 3zm-7 2zm5 5zm-2 0zm4 4zm-7 0zm9 2zm-4 4zm-5 0zm7 1zm-7 1zm10 1zm0 1zm-1 1zm-2 2zm3 0zm-6 0zm0 4zm4 2zm-1 2zm-6 10zm9 2zm1 2zm-7 4zm4 1zm1 35zm2 12zm9-193zm0 5zm-8 3zm7 1zm-1 3zm1 9zm-3 11zm4 0zm-7 0zm-1 1zm10 2zm0 0zm0 4zm0 3zm-3 7zm1 1zm-4 2zm0 3zm-2 3zm9 3zm-11 0zm2 10zm7 1zm-5 5zm6 1zm-7 4zm7 2zm-7 2zm6 4zm-3 2zm-6 2zm9 1zm1 4zm-5 3zm5 9zm-6 1zm7 3zm-1 2zm-2 2zm-3 4zm4 2zm-5 1zm4 11zm3 8zm-4 1zm2 4zm-3 2zm-4 1zm9 11zm-1 25zm11-237zm-2 24zm-7 8zm7 34zm-7 10zm6 2zm-2 4zm0 1zm-1 2zm5 14zm3 2zm-9 8zm3 3zm0 2zm0 3zm2 0zm1 5zm-2 0zm0 1zm-6 0zm3 1zm1 1zm-3 2zm3 2zm2 2zm-5 1zm7 1zm2 5zm-4 1zm-5 9zm6 1zm-3 1zm3 4zm-2 3zm2 1zm-5 5zm1 0zm1 3zm2 4zm-5 24zm7 4zm-1 14zm-4 24zm17-233zm-5 49zm-2 18zm3 7zm4 6zm-2 4zm1 1zm0 7zm-2 2zm-4 10zm6 7zm-7 0zm3 2zm-2 15zm10 4zm-6 12zm5 5zm-4 2zm-4 9zm-2 12zm5 4zm2 28zm1 9zm1 2zm-1 37zm11-253zm0 19zm3 44zm-6 10zm6 2zm1 15zm0 6zm-5 1zm-1 4zm0 2zm4 1zm-3 12zm5 2zm-2 3zm1 1zm-3 1zm-7 5zm4 7zm-2 7zm4 0zm-4 10zm7 13zm0 2zm-6 2zm6 24zm-8 11zm8 5zm-4 24zm5 1zm-4 99zm15-275zm-4 2zm-1 27zm-2 20zm9 2zm-11 2zm7 3zm-7 3zm0 9zm6 26zm-1 5zm-3 21zm9 6zm7-186zm-6 63zm5 5zm-1 33zm2 8zm5 2zm-3 13zm-3 2zm0 7zm3 27zm3 2zm-3 3zm-3 2zm3 20zm-4 50zm13-209zm-4 28zm4 3zm-1 9zm5 26zm-7 18zm-2 28zm5 6zm-5 5zm2 6zm2 11zm1 80zm16-244zm-3 24zm-6 40zm1 0zm-1 48zm5 1zm-4 8zm7 30zm1 72zm4-150zm8 3zm-8 56zm3 28zm2 8zm6-95zm6 4zm-2 54zm1 5zm15-29zm-5 22zm-1 1zm2 32zm6 16zm13-41zm5-39z"/>
<path class="d" stroke="#d62728" transform="scale(.5)" style="stroke-width:6.8" d="M284 393zm-5 41zm13-57zm-3 76zm25-93zm9 5zm-7 16zm7 12zm-7 76zm2 21zm13-128zm-6 14zm10 16zm0 6zm-2 15zm-2 2zm-4 28zm11-118zm7 10zm2 29zm-8 4zm-3 18zm5 47zm5 20zm-7 13zm6 20zm6-116zm4 3zm4 14zm-10 3zm6 17zm-4 16zm7 2zm-10 13zm8 3zm-3 48zm14-176zm-5 33zm4 2zm-6 6zm9 29zm-1 20zm-8 7zm6 7zm-3 10zm4 7zm-1 6zm1 4zm-2 0zm-4 13zm1 29zm0 9zm10-191zm10 37zm-3 23zm-6 12zm-1 8zm6 12zm-3 1zm6 1zm-7 0zm8 1zm-6 13zm-2 3zm9 11zm-6 10zm5 9zm-7 24zm6 10zm-7 19zm10-164zm4 0zm-3 15zm4 2zm0 4zm4 14zm-4 10zm-2 8zm6 21zm-3 0zm-6 1zm11 1zm-1 4zm-2 6zm0 4zm0 0zm3 4zm-4 1zm-5 4zm2 11zm1 4zm5 4zm-10 3zm5 10zm5 7zm-6 3zm-2 10zm-2 0zm9 24zm12-190zm1 23zm-3 3zm2 3zm-9 8zm8 3zm-6 1zm6 11zm3 0zm-10 4zm8 6zm-3 1zm3 16zm2 2zm-10 4zm2 2zm-3 2zm9 14zm1 1zm-3 3zm4 1zm-3 12zm-3 7zm-2 3zm5 5zm2 3zm-6 4zm6 22zm-1 6zm-7 3zm1 5zm1 5zm5 40zm1 6zm2-245zm8 4zm0 33zm-1 11zm-4 2zm6 5zm-4 20zm-4 3zm6 13zm2 2zm-5 1zm0 6zm7 2zm-2 4zm0 3zm-6 4zm4 7zm-3 3zm4 2zm2 2zm-1 5zm-6 4zm5 3zm-6 1zm4 5zm2 3zm-6 0zm4 2zm-1 3zm-3 7zm-1 7zm-1 1zm3 16zm2 1zm4 11zm-1 6zm-7 14zm17-210zm-6 11zm6 7zm-1 8zm6 6zm-10 5zm2 7zm7 0zm-3 1zm2 0zm-9 5zm5 1zm-2 6zm6 3zm0 11zm-5 4zm2 3zm-1 0zm2 7zm1 1zm-1 5zm4 1zm-5 2zm0 7zm2 0zm-1 0zm-2 7zm-4 1zm0 4zm1 10zm-1 2zm6 2zm3 2zm-9 5zm5 1zm-6 1zm11 0zm-9 12zm6 5zm-5 2zm-2 3zm1 17zm6 1zm-6 0zm1 5zm-2 2zm2 3zm0 3zm1 5zm7 56zm-10 3zm1 10zm16-281zm3 19zm-4 36zm-5 3zm2 3zm7 8zm-2 6zm-2 3zm5 1zm-6 2zm-4 3zm4 5zm2 2zm4 4zm-7 2zm7 1zm0 4zm-7 0zm3 1zm-4 4zm0 1zm0 1zm2 2zm7 3zm-7 11zm-2 1zm5 1zm-1 2zm-2 0zm-1 4zm-3 5zm7 0zm-3 3zm-1 9zm8 1zm-6 1zm3 3zm0 1zm-7 0zm9 2zm-9 5zm2 5zm8 0zm0 5zm-10 0zm7 0zm-1 0zm-3 7zm0 1zm-2 12zm2 0zm3 3zm3 6zm-4 3zm-3 1zm-2 10zm6 4zm-2 1zm-5 0zm14-219zm2 24zm6 11zm-2 27zm-2 0zm-4 3zm4 4zm-4 0zm8 3zm-3 9zm2 2zm-6 0zm-2 2zm1 0zm1 1zm1 1zm1 1zm1 11zm-2 0zm-1 2zm6 0zm-7 2zm7 3zm-1 3zm-6 0zm9 4zm-3 0zm-6 5zm3 0zm5 1zm-6 1zm3 0zm2 2zm-4 3zm2 3zm3 1zm-3 2zm4 2zm-7 7zm5 9zm-5 1zm6 2zm-8 2zm-1 0zm8 9zm-5 3zm-1 6zm2 11zm5 0zm-10 3zm3 9zm-1 7zm0 9zm3 3zm6 3zm3-231zm0 20zm2 17zm-2 15zm0 1zm2 17zm4 3zm-7 2zm9 6zm-10 2zm8 16zm-3 2zm1 5zm-3 4zm8 4zm-2 4zm-3 3zm-6 2zm8 1zm-8 1zm2 7zm8 0zm-3 2zm-2 0zm6 1zm-5 4zm0 3zm0 7zm-3 2zm1 3zm1 9zm5 2zm-8 2zm7 6zm-8 1zm4 0zm5 3zm-3 6zm-5 6zm1 1zm-3 3zm9 0zm0 6zm-1 1zm0 0zm0 7zm1 4zm0 5zm-4 6zm1 1zm5 8zm-1 9zm-1 4zm-1 6zm-7 9zm1 2zm13-248zm6 35zm-5 1zm6 2zm-4 18zm3 12zm-8 4zm1 0zm8 3zm-10 1zm4 0zm4 1zm-5 9zm2 1zm-5 5zm8 5zm3 0zm-8 0zm-1 1zm1 6zm7 8zm1 1zm-6 3zm6 1zm-3 1zm2 3zm-9 0zm7 0zm-1 3zm-1 0zm-3 2zm7 2zm-8 2zm7 2zm-8 1zm-1 2zm11 1zm-6 11zm-5 12zm10 1zm-1 1zm0 0zm-3 1zm-2 2zm-2 2zm5 3zm-4 0zm-2 5zm2 0zm-3 1zm10 2zm1 20zm-3 2zm0 2zm-7 0zm3 1zm-4 6zm0 4zm10 2zm-6 4zm4 30zm9-284zm5 49zm-10 3zm5 24zm-5 18zm0 0zm10 3zm-3 3zm3 2zm-6 9zm3 2zm3 0zm1 8zm-4 3zm-1 1zm5 4zm-8 0zm4 2zm-3 1zm2 6zm-1 2zm1 2zm-3 1zm3 3zm5 3zm-8 4zm-2 2zm-1 3zm5 1zm-5 1zm6 3zm-3 5zm-3 1zm1 0zm5 4zm-6 4zm7 1zm4 1zm-8 0zm7 0zm1 1zm-6 12zm1 0zm-1 1zm2 4zm-5 1zm-1 6zm-1 7zm0 2zm1 7zm7 5zm0 2zm-1 2zm4 5zm0 3zm-6 26zm6 0zm-5 3zm-3 20zm7 26zm9-274zm3 4zm-9 9zm7 16zm0 6zm2 9zm-10 8zm2 1zm9 8zm-5 4zm5 6zm-9 2zm1 4zm4 1zm4 4zm-10 0zm10 9zm-8 13zm1 4zm4 6zm-8 4zm1 5zm4 0zm-3 8zm0 2zm1 5zm-2 2zm5 2zm-1 1zm2 2zm-3 1zm3 4zm-7 8zm2 6zm1 11zm-1 4zm-2 5zm4 6zm-2 10zm8 4zm-6 3zm-4 16zm9 11zm-2 60zm6-266zm6 6zm-7 12zm7 6zm-5 6zm-1 12zm7 3zm0 11zm-2 6zm-6 3zm6 2zm3 2zm-5 1zm-3 2zm6 5zm-3 0zm2 7zm2 2zm-3 6zm-2 3zm2 19zm6 0zm0 5zm-11 2zm11 3zm-1 1zm-5 3zm-3 2zm0 2zm8 0zm-1 2zm-4 20zm5 1zm-8 2zm9 1zm-5 2zm-5 0zm0 3zm4 1zm2 9zm0 3zm-6 6zm-1 5zm3 2zm7 16zm-8 93zm11-317zm10 18zm-7 24zm5 3zm-9 18zm5 0zm-5 1zm0 5zm9 2zm-4 4zm-4 8zm1 6zm7 5zm-9 5zm6 1zm5 5zm-3 1zm2 1zm-10 4zm4 11zm-3 8zm10 8zm0 5zm-4 6zm-7 5zm4 6zm2 1zm2 1zm-3 9zm3 10zm-4 3zm4 4zm-6 3zm8 20zm-10 14zm5 5zm12-215zm6 10zm-9 13zm2 21zm4 0zm-1 2zm1 3zm-6 5zm2 9zm6 23zm-3 5zm-4 1zm1 0zm-2 0zm-2 9zm11 3zm-2 8zm-8 0zm5 2zm3 0zm-2 8zm3 3zm-7 2zm7 0zm0 3zm-5 4zm-4 11zm7 17zm-7 9zm6 5zm-1 2zm-2 18zm0 2zm4 52zm10-262zm-4 45zm4 12zm4 5zm-6 4zm6 10zm-9 3zm1 6zm3 6zm2 12zm0 1zm0 8zm-3 6zm4 5zm-7 3zm0 13zm9 4zm-8 7zm3 4zm-2 6zm-2 2zm5 4zm1 7zm3 12zm0 1zm-6 5zm7 43zm10-181zm-6 44zm-1 21zm6 0zm-8 1zm4 2zm-3 11zm5 1zm-5 1zm0 14zm-1 10zm6 8zm1 20zm2 17zm13-224zm-8 32zm0 21zm-1 7zm4 4zm-4 48zm0 26zm5 19zm3 12zm-8 25zm2 7zm13-163zm-3 30zm5 1zm-5 21zm7 14zm-2 7zm1 13zm-2 7zm3 13zm-3 5zm-5 8zm2 1zm4 48zm7-185zm7 27zm0 0zm-3 34zm1 33zm-6 0zm7 24zm-3 4zm4 8zm-5 21zm4 2zm-1 27zm0 7zm16-89zm-10 30zm8 28zm-1 7zm8-12zm16-105zm-4 34zm-1 45zm0 0zm21-45zm-11 39zm11 7zm-5 4zm24-57z"/>
</g>
<rect class="t" x="0" y="0" width="340.5" height="337.9"/>
<path class="t" d="M28.4 337.9v3.5M0 309.8h-3.5M99.1 337.9v3.5M0 239.3h-3.5M169.9 337.9v3.5M0 168.9h-3.5M240.7 337.9v3.5M0 98.5h-3.5M311.4 337.9v3.5M0 28.0h-3.5"/>
<text class="tl" x="28.4" y="357.6" text-anchor="middle">−5.0</text><text class="tl" x="-8.0" y="315.9" text-anchor="end">−5.0</text>
<text class="tl" x="99.1" y="357.6" text-anchor="middle">−2.5</text><text class="tl" x="-8.0" y="245.5" text-anchor="end">−2.5</text>
<text class="tl" x="169.9" y="357.6" text-anchor="middle">0.0</text><text class="tl" x="-8.0" y="175.1" text-anchor="end">0.0</text>
<text class="tl" x="240.7" y="357.6" text-anchor="middle">2.5</text><text class="tl" x="-8.0" y="104.7" text-anchor="end">2.5</text>
<text class="tl" x="311.4" y="357.6" text-anchor="middle">5.0</text><text class="tl" x="-8.0" y="34.2" text-anchor="end">5.0</text>
<text class="ti" x="170.0" y="-5.6" text-anchor="middle">17.8 Photons / Symbol</text>
<text class="al" x="170.0" y="379.4" text-anchor="middle">I Quadrature [SNU]</text>
<text class="al" transform="translate(-55 168.9) rotate(-90)" text-anchor="middle">Q Quadrature [SNU]</text>
<g transform="translate(271.3 6.0)"><rect x="0" y="0" width="62.4" height="94.7" rx="2.8" fill="#fff" fill-opacity=".8" stroke="#ccc" stroke-opacity=".8" stroke-width="1.1"/><text class="lt" x="31.2" y="16" text-anchor="middle">Symbol</text><circle cx="22.8" cy="31.3" r="6.15" fill="#1f77b4"/><text class="le" x="44.9" y="34.6">0</text><circle cx="22.8" cy="49.1" r="6.15" fill="#ff7f0e"/><text class="le" x="44.9" y="52.4">1</text><circle cx="22.8" cy="66.9" r="6.15" fill="#2ca02c"/><text class="le" x="44.9" y="70.2">2</text><circle cx="22.8" cy="84.7" r="6.15" fill="#d62728"/><text class="le" x="44.9" y="88.0">3</text></g>
</g>
<g transform="translate(505.2 504.5)">
<path class="g" d="M28.5 0V337.9M0 309.8H340.5M99.3 0V337.9M0 239.3H340.5M170.1 0V337.9M0 168.9H340.5M240.9 0V337.9M0 98.5H340.5M311.6 0V337.9M0 28.0H340.5"/>
<g clip-path="url(#c)">
<path class="d" stroke="#1f77b4" transform="scale(.5)" style="stroke-width:6.8" d="M232 351zm11-122zm0 61zm7 9zm7-73zm-5 90zm3 6zm2 5zm4 3zm-6 6zm13-84zm4 21zm-4 30zm-3 36zm5 23zm-1 32zm15-176zm-3 3zm4 14zm2 41zm-8 9zm5 20zm3 22zm-3 41zm14-138zm1 6zm-8 17zm2 5zm4 9zm0 2zm-9 6zm5 2zm4 0zm-9 23zm10 8zm-9 2zm6 10zm0 28zm-7 3zm18-164zm2 1zm-6 6zm0 20zm7 32zm-1 9zm-1 2zm4 20zm-9 5zm-2 12zm11 3zm-7 5zm3 8zm-2 7zm3 6zm-8 9zm9 30zm-4 32zm1 152zm10-307zm0 15zm0 0zm0 0zm3 7zm-7 2zm3 5zm3 9zm2 10zm-8 12zm1 4zm9 2zm1 11zm-5 1zm5 3zm-8 13zm0 2zm4 4zm-1 3zm0 4zm-6 1zm1 33zm9 5zm-9 29zm13-189zm3 1zm5 10zm-10 2zm9 9zm-1 6zm3 1zm-8 1zm7 3zm-6 1zm0 1zm-2 4zm9 5zm-6 15zm-2 0zm-2 2zm2 1zm1 15zm3 3zm1 26zm-4 35zm0 0zm0 18zm5 39zm-9 108zm18-354zm-1 18zm-4 3zm5 17zm-5 17zm8 4zm-2 2zm-5 11zm6 0zm-2 2zm0 3zm3 6zm2 10zm-2 1zm-8 6zm8 2zm-2 2zm-1 1zm-6 2zm11 11zm-9 6zm6 3zm-8 1zm11 8zm-10 3zm0 1zm7 2zm2 1zm0 6zm-8 10zm8 8zm-8 2zm-1 2zm9 2zm-10 1zm10 4zm-5 3zm-4 28zm4 7zm12-220zm-2 33zm-3 11zm4 24zm7 5zm-4 3zm2 5zm-3 4zm-3 2zm5 1zm-1 3zm4 3zm-9 1zm6 1zm2 1zm-2 2zm-6 3zm0 2zm2 5zm-1 3zm-3 0zm7 1zm0 1zm-2 10zm5 3zm0 3zm-2 7zm1 8zm-9 10zm4 4zm6 5zm0 9zm-1 1zm-6 12zm8 3zm-5 1zm-5 1zm2 4zm7 0zm-2 18zm13-192zm1 8zm-1 4zm-6 8zm0 11zm6 1zm-7 0zm9 4zm-9 0zm5 5zm1 1zm-7 3zm3 9zm1 12zm4 1zm-7 5zm4 3zm0 1zm1 7zm-4 1zm4 4zm-1 4zm2 1zm-4 1zm5 2zm-5 1zm-2 3zm1 5zm1 3zm-3 0zm4 6zm-2 0zm5 1zm-3 2zm6 1zm-1 2zm-3 0zm2 5zm-7 1zm6 1zm-2 7zm-2 4zm4 4zm-3 11zm0 4zm-4 3zm2 10zm0 1zm0 22zm17-256zm0 23zm2 57zm-7 13zm6 7zm-4 2zm4 0zm0 4zm-3 1zm3 1zm1 5zm-1 2zm-4 3zm-3 1zm4 0zm-5 13zm10 0zm-8 3zm-2 0zm2 4zm-1 1zm-1 0zm4 0zm-2 6zm2 1zm-1 7zm6 0zm-9 1zm3 2zm4 2zm-4 2zm7 5zm-5 0zm3 0zm0 5zm1 1zm-8 1zm-1 4zm10 1zm-5 2zm3 4zm-2 2zm-5 1zm3 7zm6 0zm-6 9zm3 0zm-7 3zm4 3zm4 3zm-2 8zm1 1zm0 2zm1 3zm2 18zm-1 12zm-5 6zm5 4zm-7 11zm20-209zm-3 5zm2 9zm-3 3zm-2 1zm4 2zm-3 4zm-6 4zm8 2zm-3 3zm5 6zm-6 3zm2 6zm1 2zm2 7zm1 1zm-7 1zm5 0zm-8 2zm3 1zm-2 2zm-1 4zm2 0zm7 15zm-2 1zm4 3zm-9 7zm5 7zm0 3zm-3 1zm5 2zm-6 5zm5 0zm-3 3zm6 2zm-11 4zm3 1zm5 0zm1 1zm-4 1zm-5 0zm11 1zm-1 5zm-2 3zm-6 6zm9 2zm-3 1zm-1 2zm-3 11zm-4 9zm7 7zm-6 4zm3 2zm6 5zm-3 25zm1 3zm10-225zm-2 5zm-4 27zm8 12zm3 8zm-9 13zm-1 0zm2 1zm5 1zm-8 1zm7 2zm-3 4zm7 3zm-11 1zm8 7zm1 2zm-6 1zm4 1zm-2 2zm-1 1zm7 2zm-11 1zm2 2zm4 2zm1 1zm0 2zm-1 14zm-5 2zm0 0zm1 4zm1 2zm0 2zm4 10zm-1 5zm-3 1zm-1 1zm-1 1zm4 13zm1 3zm3 0zm-1 5zm-3 3zm-3 2zm0 1zm7 5zm-6 6zm1 6zm1 7zm1 0zm4 18zm-6 0zm16-225zm-1 5zm-4 3zm1 14zm-2 14zm-1 15zm0 4zm8 2zm2 8zm-6 4zm6 3zm-1 3zm-2 8zm-1 0zm0 2zm2 1zm1 1zm-4 0zm-3 6zm-3 2zm7 4zm-7 2zm7 1zm4 1zm-1 6zm-1 1zm0 4zm-1 2zm-5 2zm4 12zm-2 2zm1 0zm0 5zm4 6zm-10 6zm11 2zm-1 6zm-10 8zm4 5zm4 1zm-7 2zm10 4zm-11 3zm11 4zm-3 0zm2 3zm0 4zm-1 1zm-3 2zm-6 4zm0 2zm1 14zm4 10zm6 19zm7-266zm-6 70zm10 19zm-6 5zm-2 0zm0 0zm8 2zm-6 1zm3 3zm-2 2zm4 1zm0 1zm1 0zm-8 4zm8 3zm-7 2zm-3 3zm0 3zm2 5zm9 4zm-3 1zm0 1zm-3 3zm-4 1zm7 4zm-8 5zm10 2zm-5 2zm6 3zm0 1zm-3 0zm-5 0zm6 2zm-2 12zm1 1zm-2 4zm1 1zm-5 3zm0 3zm6 6zm-2 6zm5 0zm-9 3zm0 7zm8 4zm-9 0zm3 2zm-1 2zm-1 16zm1 3zm7 0zm-7 2zm4 8zm4 13zm-3 11zm12-251zm0 8zm0 20zm-2 12zm5 8zm-4 10zm1 2zm-4 7zm3 8zm-6 0zm1 3zm8 6zm-1 2zm-9 6zm8 3zm-5 1zm5 1zm-5 4zm-1 2zm-1 0zm10 15zm-2 2zm-2 8zm1 1zm0 3zm-3 5zm5 2zm-5 0zm-3 0zm3 9zm1 3zm0 0zm3 1zm-5 5zm-1 2zm-3 1zm9 1zm-7 2zm3 1zm0 2zm2 3zm2 0zm-5 13zm-2 4zm6 1zm0 6zm-5 6zm-3 3zm9 20zm-3 8zm-4 3zm6 16zm6-266zm4 24zm3 7zm-5 24zm2 2zm4 19zm-6 2zm-4 2zm9 15zm2 11zm-9 3zm-1 18zm3 2zm4 5zm-5 8zm0 8zm5 2zm-6 6zm1 2zm7 0zm-1 11zm-9 3zm5 0zm-3 1zm-1 4zm2 1zm4 0zm-3 1zm3 3zm-5 1zm5 2zm1 3zm1 3zm-7 0zm-2 2zm7 1zm-6 0zm10 8zm-7 4zm4 59zm-3 9zm10-255zm1 40zm-4 6zm10 6zm-7 4zm6 1zm-8 3zm0 2zm6 7zm-5 0zm1 8zm3 10zm-1 3zm2 3zm1 9zm1 2zm2 12zm-7 1zm4 12zm-3 13zm5 3zm-9 1zm8 0zm1 0zm-7 2zm5 8zm-4 1zm-2 0zm0 1zm-2 3zm2 0zm4 6zm-6 10zm11 6zm-6 4zm6 1zm-11 1zm8 13zm2 24zm1 3zm8-235zm-6 18zm1 21zm5 5zm-4 9zm8 13zm0 2zm-6 6zm1 9zm3 1zm-5 1zm6 6zm-7 4zm3 1zm-4 9zm6 17zm-1 4zm2 1zm-4 2zm-4 1zm4 1zm0 2zm6 5zm-6 0zm2 4zm4 9zm0 8zm-1 2zm-4 0zm-4 1zm0 2zm3 4zm-3 8zm9 13zm-5 11zm-6 2zm11 8zm-3 12zm3 1zm-9 3zm15-203zm6 26zm-9 17zm2 5zm7 0zm-3 4zm-8 3zm10 3zm1 6zm-4 1zm-2 5zm-1 4zm1 7zm4 4zm-4 0zm-3 2zm2 3zm7 6zm-7 0zm2 2zm1 6zm3 2zm-5 5zm2 4zm-3 5zm0 2zm5 9zm-9 3zm7 5zm0 1zm0 2zm2 5zm-3 11zm4 7zm-10 4zm1 7zm6 10zm-4 24zm8 4zm-8 194zm16-364zm0 23zm-6 5zm8 3zm0 1zm0 3zm-8 23zm5 10zm5 10zm-3 2zm-8 8zm4 4zm5 10zm-1 0zm-1 10zm0 8zm0 0zm0 4zm3 2zm-8 17zm0 8zm1 60zm-1 5zm17-272zm-4 22zm-3 36zm1 17zm10 19zm-1 13zm-6 2zm-4 20zm1 15zm7 2zm1 0zm-3 13zm-5 12zm9 1zm-7 30zm-2 3zm20-172zm-1 38zm2 21zm-6 8zm7 21zm-10 20zm6 25zm-2 91zm7-88zm2 1zm7 45zm14-140zm-3 24zm3 18zm-5 31zm2 44zm-5 11zm10-83zm10 210zm11-237zm-8 31zm11 36zm13-56zm5 84zm-5 123z"/>
<path class="d" stroke="#ff7f0e" transform="scale(.5)" style="stroke-width:6.8" d="M95 260zm-8 21zm14-66zm-4 54zm1 25zm6 32zm-5 38zm20-100zm-6 30zm15-40zm-2 34zm-3 14zm10-19zm9 14zm-6 20zm3 54zm7-252zm8 107zm-6 28zm2 32zm-5 25zm10 0zm0 12zm-8 3zm-1 13zm0 1zm-2 138zm23-222zm-11 8zm0 11zm3 31zm3 0zm1 18zm-4 93zm16-164zm-2 3zm3 1zm-1 10zm-2 9zm6 4zm-8 8zm8 5zm-5 8zm-5 0zm6 2zm-1 15zm-3 2zm2 5zm5 18zm6-164zm5 40zm-5 4zm-1 1zm6 8zm-2 7zm-1 5zm0 23zm5 2zm-11 1zm5 7zm-1 0zm-3 5zm8 24zm-5 5zm7 9zm-9 7zm2 3zm-2 7zm4 0zm-6 24zm4 14zm10-202zm4 40zm-3 41zm7 18zm-4 4zm5 10zm-1 2zm-6 3zm2 5zm-2 1zm3 7zm1 3zm2 7zm-8 1zm9 5zm-1 1zm0 3zm-8 4zm7 37zm-6 28zm3 37zm11-285zm3 9zm-7 69zm10 4zm-8 13zm7 2zm0 7zm-6 1zm7 4zm-8 7zm7 1zm-2 6zm-3 5zm1 1zm-6 1zm8 0zm2 8zm-8 5zm5 9zm4 3zm-9 1zm8 9zm-2 5zm0 1zm-3 1zm4 0zm-5 6zm5 13zm0 1zm-4 0zm-4 1zm8 17zm-1 31zm-5 3zm8 2zm-5 1zm4 11zm11-229zm-4 37zm-3 3zm1 1zm5 14zm0 0zm3 3zm0 2zm-8 4zm1 4zm5 1zm-9 3zm3 0zm1 2zm-4 6zm10 3zm-5 6zm-3 2zm7 6zm-6 1zm1 7zm3 1zm1 0zm-7 1zm4 7zm5 14zm-9 2zm-1 7zm4 3zm-4 1zm1 1zm-1 1zm6 6zm-2 1zm5 2zm-4 5zm-1 15zm6 4zm0 5zm-4 2zm4 1zm-3 4zm0 4zm-7 7zm2 21zm13-217zm-2 29zm-1 9zm9 6zm-7 6zm2 6zm-4 1zm9 4zm-3 2zm3 4zm-5 3zm6 3zm-8 2zm0 2zm3 5zm-2 1zm-1 1zm4 7zm4 6zm-9 3zm5 1zm-3 1zm5 6zm-1 9zm-5 4zm0 1zm4 4zm1 0zm3 0zm-10 5zm4 2zm2 3zm1 1zm1 3zm3 5zm-4 7zm-7 4zm10 1zm-3 4zm2 4zm0 2zm1 1zm1 6zm-7 5zm4 0zm-5 1zm5 3zm2 5zm-9 4zm5 8zm-2 12zm3 5zm2 22zm13-275zm-5 19zm0 14zm6 7zm-11 3zm9 32zm-5 12zm-1 3zm1 5zm6 5zm-2 0zm-8 4zm9 1zm-1 6zm2 1zm-4 1zm-2 2zm3 2zm-6 2zm8 7zm-1 4zm0 2zm-8 0zm2 0zm6 2zm-1 3zm-5 8zm4 1zm-6 8zm0 7zm11 6zm-4 1zm-3 1zm-1 4zm8 1zm-7 0zm5 7zm1 5zm-10 0zm4 4zm0 3zm-1 7zm1 1zm7 4zm0 3zm-4 0zm4 3zm-5 11zm-4 29zm-1 6zm5 3zm-1 19zm2 0zm6-264zm1 16zm-2 16zm9 13zm-5 0zm4 7zm3 9zm-7 3zm4 1zm3 5zm-8 0zm0 4zm2 7zm5 10zm-10 4zm4 4zm6 6zm-9 3zm-1 2zm1 1zm0 8zm10 0zm-9 2zm5 2zm-5 1zm-2 0zm5 6zm2 4zm0 1zm-2 2zm2 1zm-4 1zm-3 0zm9 4zm-6 2zm-2 2zm3 1zm2 1zm5 6zm-3 1zm-2 5zm-2 6zm6 7zm-6 3zm4 4zm-6 4zm4 7zm1 4zm3 1zm-1 7zm-3 7zm3 0zm-9 7zm8 4zm-3 2zm6 7zm0 11zm-6 9zm4 1zm10-288zm3 75zm-5 4zm-1 4zm3 13zm-4 2zm5 1zm2 1zm-4 1zm2 0zm2 6zm0 2zm-10 3zm0 7zm10 1zm-4 5zm0 16zm-4 4zm9 3zm-10 2zm10 0zm-1 4zm-1 1zm0 1zm1 1zm-4 1zm-2 3zm4 1zm-3 0zm2 1zm-4 4zm-2 2zm9 1zm-2 3zm-5 4zm3 0zm2 1zm1 0zm-8 2zm3 7zm0 3zm-4 1zm6 5zm3 1zm1 1zm-8 1zm6 7zm-2 6zm-3 4zm0 4zm4 1zm-7 12zm3 3zm3 4zm-2 12zm-4 8zm1 1zm13-253zm0 28zm3 19zm1 18zm-5 23zm8 4zm0 20zm-4 5zm2 3zm4 5zm-11 7zm7 0zm4 6zm-9 2zm9 4zm-3 1zm-3 3zm5 2zm-9 1zm10 4zm-8 1zm-1 1zm2 1zm7 0zm0 7zm-4 1zm1 1zm-8 0zm3 4zm-2 0zm2 0zm1 2zm-1 1zm6 2zm-7 1zm8 2zm-9 2zm10 3zm-10 0zm9 0zm1 3zm-7 1zm-1 2zm2 1zm3 0zm-4 3zm5 4zm0 3zm-5 2zm-3 6zm1 10zm-1 8zm4 3zm2 8zm-4 5zm2 4zm6 14zm11-217zm-1 24zm1 8zm-5 10zm1 2zm-1 2zm5 9zm-5 2zm-2 1zm6 2zm1 2zm-7 8zm1 2zm-2 0zm-1 1zm10 1zm-3 6zm0 4zm2 3zm-10 5zm6 6zm0 0zm1 0zm0 1zm-1 2zm-4 0zm7 5zm1 2zm-1 1zm-3 1zm-6 1zm6 3zm3 3zm-7 3zm0 2zm6 1zm-3 1zm6 0zm-2 0zm-6 2zm5 4zm-7 1zm5 6zm4 1zm0 1zm-7 4zm-1 3zm-2 2zm3 0zm4 0zm1 3zm-5 1zm8 6zm-11 6zm2 14zm8 5zm-2 9zm-8 5zm0 6zm10 5zm-4 10zm0 5zm5 6zm2-239zm6 7zm1 23zm-3 16zm6 2zm-9 12zm7 2zm-4 5zm-4 5zm0 9zm5 4zm4 2zm-1 9zm-9 2zm11 3zm-7 1zm-3 1zm5 0zm1 9zm0 6zm2 1zm2 2zm-1 0zm-5 0zm-2 2zm3 3zm2 4zm3 0zm0 2zm0 5zm0 1zm-2 0zm1 1zm-3 0zm2 5zm-4 2zm3 10zm1 1zm-4 2zm6 6zm-1 11zm-6 2zm6 5zm1 8zm-5 6zm-6 1zm11 0zm-7 2zm5 2zm0 15zm2 10zm-4 17zm1 11zm3 2zm10-225zm0 9zm-4 10zm-2 4zm6 8zm0 0zm-2 3zm-3 1zm-1 10zm-3 1zm0 4zm2 12zm1 7zm4 0zm-3 3zm-2 1zm7 1zm-2 4zm-6 0zm2 16zm0 0zm4 3zm-5 9zm9 1zm-6 3zm-2 1zm1 7zm0 3zm5 1zm-7 1zm-2 2zm4 0zm1 3zm4 3zm1 3zm1 5zm-5 6zm-5 1zm4 4zm3 0zm-3 4zm5 9zm1 9zm-1 15zm-7 5zm4 30zm7-275zm2 38zm-3 22zm2 4zm4 9zm4 2zm-8 4zm6 13zm-3 13zm0 6zm3 5zm-6 2zm0 4zm3 5zm-1 2zm-1 6zm2 2zm2 2zm-7 1zm2 8zm3 4zm1 6zm0 6zm4 1zm-9 0zm-2 3zm7 5zm3 0zm-9 3zm-1 3zm1 1zm10 0zm-7 1zm4 4zm-6 3zm8 2zm-5 0zm-2 2zm3 3zm-2 2zm0 2zm2 1zm-3 5zm2 0zm1 12zm1 7zm4 12zm2-164zm6 23zm3 23zm-5 2zm-2 3zm-3 1zm7 1zm1 3zm0 6zm-2 16zm0 6zm0 3zm1 3zm2 0zm-1 8zm-6 1zm2 1zm3 0zm1 0zm-4 4zm3 3zm0 0zm-3 5zm6 13zm-3 13zm-1 4zm5 11zm-1 0zm-4 1zm0 1zm0 2zm-4 3zm13-176zm7 21zm-7 16zm-3 17zm0 1zm4 8zm0 1zm3 7zm-7 3zm11 4zm-7 2zm6 15zm-9 1zm0 4zm0 0zm2 1zm0 10zm2 6zm-2 2zm6 2zm-5 1zm0 7zm2 3zm3 4zm-4 3zm4 3zm-4 13zm-4 34zm1 11zm16-197zm-3 23zm7 29zm-7 12zm-2 15zm1 1zm1 2zm-1 6zm1 16zm7 3zm-5 5zm5 46zm6-144zm-1 20zm6 7zm2 4zm-6 23zm1 35zm-2 0zm7 1zm-7 21zm-4 8zm5 9zm3 2zm-2 8zm13-158zm-5 9zm7 46zm-4 7zm-1 3zm4 5zm2 8zm-9 21zm3 6zm-4 14zm4 20zm-1 21zm6 27zm13-178zm-7 26zm6 9zm-8 14zm0 70zm7 24zm6-173zm8 56zm-10 69zm0 3zm3 8zm6 31zm-8 41zm15-88zm1 6zm6 39zm6-86zm-5 4zm7 68zm7-109zm0 24zm-2 30zm11 81zm9-71zm30-96z"/>
<path class="d" stroke="#2ca02c" transform="scale(.5)" style="stroke-width:6.8" d="M47 336zm8 33zm15-135zm20 136zm11 73zm13-149zm-2 45zm16 42zm-3 6zm2 23zm4 6zm-9 25zm1 2zm14-87zm-3 24zm3 39zm1 6zm1 27zm6-189zm9 47zm-7 11zm-1 18zm1 7zm2 15zm6 22zm-4 6zm-7 0zm7 4zm2 4zm0 52zm13-151zm0 14zm-5 9zm-1 12zm-1 6zm2 2zm6 3zm-9 91zm8 29zm-5 1zm0 11zm-2 6zm2 26zm2 7zm7-252zm2 15zm4 13zm0 11zm-8 20zm11 5zm-6 2zm1 1zm1 1zm-4 12zm7 2zm-5 1zm6 32zm-8 7zm5 1zm3 1zm-2 13zm-8 10zm-1 4zm1 5zm5 9zm2 55zm11-214zm-6 32zm6 3zm-4 40zm5 8zm1 12zm-5 1zm4 5zm-1 10zm3 15zm-6 8zm2 10zm-4 12zm-1 2zm2 6zm8 15zm-8 0zm-1 12zm4 8zm11-180zm3 5zm1 7zm0 28zm0 0zm-5 8zm2 5zm-2 2zm-3 3zm5 8zm-2 1zm5 1zm-2 17zm3 2zm1 12zm-6 1zm-1 0zm1 3zm-4 1zm1 2zm4 7zm0 10zm-5 0zm-1 7zm0 21zm6 21zm-2 27zm12-209zm-1 12zm8 1zm-9 1zm1 6zm-1 13zm-2 7zm1 1zm5 1zm-1 9zm-3 9zm4 7zm-6 6zm2 1zm-2 21zm11 3zm-4 2zm2 5zm-1 3zm-4 1zm-2 2zm-1 11zm5 1zm0 9zm1 0zm3 5zm1 1zm-4 2zm-1 1zm4 1zm-7 3zm3 8zm-3 9zm7 20zm-9 5zm7 0zm-4 19zm5 18zm8-243zm1 13zm0 8zm-6 27zm7 18zm3 2zm-4 13zm1 8zm3 10zm-3 2zm-3 12zm-3 5zm-1 6zm4 2zm7 3zm-4 3zm-4 0zm-1 1zm-2 18zm3 0zm7 1zm-8 4zm-1 1zm6 15zm1 4zm1 3zm-6 6zm7 3zm-10 5zm7 2zm2 1zm-7 19zm2 9zm1 2zm-3 39zm18-251zm3 11zm-5 1zm2 17zm1 6zm-4 0zm0 9zm1 2zm1 2zm-4 4zm3 6zm-6 2zm10 1zm-10 1zm4 9zm4 8zm-3 2zm-3 1zm2 1zm-4 5zm11 5zm-1 2zm-1 2zm-5 2zm6 1zm1 0zm0 7zm-4 1zm1 7zm-3 2zm-1 0zm1 7zm1 3zm3 8zm-7 3zm5 0zm3 1zm-2 8zm-4 15zm5 1zm-6 17zm6 8zm0 10zm-7 11zm5 6zm14-199zm-3 3zm-6 13zm5 0zm-1 3zm0 14zm-2 1zm7 3zm-5 3zm5 7zm-6 4zm-3 2zm0 4zm7 3zm0 3zm-7 2zm11 5zm-9 2zm8 2zm1 0zm-7 1zm-4 2zm10 1zm-6 0zm6 2zm-1 1zm2 1zm-9 1zm4 10zm-3 1zm8 1zm-8 1zm-2 4zm5 1zm3 1zm-9 1zm2 0zm9 6zm-9 1zm2 4zm5 1zm0 0zm-3 9zm2 0zm-6 2zm9 1zm-4 1zm-2 1zm-5 0zm2 9zm2 1zm0 3zm-1 5zm0 23zm2 1zm-3 1zm-1 1zm-1 5zm6 4zm5 36zm0 2zm11-242zm-5 33zm-1 0zm7 1zm-5 0zm-3 7zm1 7zm7 8zm0 2zm-9 6zm8 6zm-9 1zm8 17zm-6 0zm2 0zm3 1zm-3 0zm4 1zm-2 3zm0 5zm-1 2zm1 5zm-3 2zm4 9zm1 4zm1 1zm-10 1zm10 0zm-6 2zm4 6zm-4 1zm5 3zm-2 11zm-7 8zm6 0zm-3 2zm-1 7zm9 4zm-3 16zm0 7zm-4 1zm7 0zm0 4zm-1 4zm-4 14zm5 47zm12-238zm0 8zm-6 5zm3 5zm2 6zm-7 4zm-1 4zm7 2zm-1 1zm-5 2zm-3 4zm0 6zm10 4zm-7 4zm4 1zm-4 4zm-2 0zm-1 2zm0 1zm10 3zm-7 4zm6 1zm-4 1zm1 1zm3 1zm-6 4zm2 8zm-2 1zm-2 3zm1 4zm7 1zm0 1zm-4 1zm5 13zm-2 4zm1 1zm0 1zm-4 0zm2 2zm3 10zm1 0zm-11 3zm9 1zm2 13zm-9 4zm7 4zm-2 1zm-2 11zm6 18zm-10 2zm2 24zm1 36zm9-275zm5 4zm5 7zm0 6zm-6 32zm2 4zm-7 1zm2 11zm8 2zm-1 6zm-6 2zm7 2zm-1 1zm2 1zm-10 2zm8 5zm-6 0zm-1 6zm2 4zm-3 1zm8 0zm1 0zm-6 4zm7 2zm-8 1zm-2 1zm0 1zm-1 5zm4 2zm5 1zm-7 5zm4 1zm0 5zm-6 2zm8 7zm-1 10zm-1 4zm-1 0zm6 6zm0 1zm-8 3zm2 1zm-5 1zm8 7zm-2 1zm1 7zm-7 7zm6 2zm4 0zm-3 3zm-5 0zm-1 3zm6 16zm-1 15zm4 12zm3-266zm-1 28zm0 22zm7 15zm-3 2zm5 10zm-8 5zm-1 1zm2 5zm8 11zm-2 1zm-3 4zm3 0zm-3 8zm1 1zm-6 0zm6 11zm-3 3zm7 1zm-10 4zm11 1zm-7 3zm-4 2zm9 0zm-2 2zm-2 2zm6 2zm0 0zm-1 4zm-2 2zm-4 2zm7 2zm-3 6zm0 3zm-5 1zm-3 1zm8 1zm1 0zm0 2zm-3 2zm-6 4zm10 2zm-4 1zm-2 2zm1 5zm5 2zm-8 0zm2 4zm-3 7zm8 4zm-8 1zm4 8zm-5 1zm5 4zm2 4zm1 12zm0 1zm-7 0zm0 2zm1 9zm3 5zm-2 16zm19-244zm-9 9zm-1 24zm2 36zm7 2zm-7 5zm5 4zm-6 11zm7 5zm-6 1zm4 0zm-3 5zm5 12zm-7 5zm7 0zm-4 4zm7 3zm-8 4zm1 5zm-2 1zm0 2zm4 5zm-2 1zm-1 3zm3 1zm-3 2zm5 2zm-6 6zm8 3zm-1 1zm0 7zm-7 3zm1 4zm4 3zm0 3zm4 2zm-2 1zm-4 0zm5 2zm-8 0zm8 2zm-4 7zm1 2zm3 1zm-5 1zm-2 4zm-2 19zm7 6zm0 11zm-2 11zm1 25zm4 21zm-11 8zm15-278zm5 5zm-5 6zm8 8zm-11 1zm3 3zm0 1zm6 4zm-9 5zm10 7zm1 1zm-9 6zm7 0zm-4 2zm2 2zm0 1zm0 12zm-2 3zm-5 4zm10 0zm0 10zm-8 1zm0 15zm9 5zm-4 8zm-3 0zm0 5zm6 6zm-5 2zm3 1zm1 2zm-7 1zm3 0zm2 7zm1 0zm-5 7zm-3 7zm6 8zm-2 0zm1 6zm5 17zm-6 7zm6 12zm-3 9zm-4 12zm-1 2zm0 3zm2 12zm12-234zm2 9zm5 7zm-6 24zm2 5zm-4 6zm-2 8zm-1 10zm3 0zm5 4zm-7 7zm-1 1zm7 0zm0 7zm-6 2zm7 12zm-6 1zm0 1zm5 4zm-6 2zm0 21zm1 9zm0 2zm-2 2zm4 5zm4 1zm-8 4zm10 1zm-4 14zm2 5zm-7 2zm9 1zm-5 28zm0 10zm-1 29zm17-290zm2 43zm-7 8zm-4 13zm7 16zm-2 14zm4 6zm1 2zm1 1zm0 4zm-9 11zm9 1zm-2 5zm-8 5zm0 5zm2 1zm-1 5zm5 9zm0 11zm0 0zm-6 10zm10 5zm-6 7zm-5 2zm3 4zm8 2zm-8 2zm7 3zm1 5zm-1 3zm-8 5zm9 1zm-10 0zm7 17zm-2 12zm-1 7zm2 1zm-7 9zm2 0zm0 3zm-1 21zm18-261zm-3 25zm-2 28zm-1 24zm10 2zm-1 20zm-4 2zm-3 4zm1 1zm-2 0zm1 4zm7 3zm-9 7zm3 2zm-3 6zm8 13zm-4 8zm-2 0zm4 8zm4 11zm-6 0zm2 2zm2 20zm-6 10zm-2 23zm11-159zm2 13zm-1 10zm2 8zm5 6zm0 1zm-7 0zm7 5zm-6 2zm-1 7zm-1 4zm0 0zm5 2zm-3 5zm6 4zm3 8zm-7 3zm3 4zm2 1zm-3 2zm2 7zm-4 6zm0 7zm7 10zm-8 17zm2 10zm0 5zm6 3zm-6 4zm-3 1zm-1 8zm6 51zm14-197zm-7 8zm7 0zm0 7zm1 11zm-8 10zm3 4zm3 6zm-5 29zm-2 1zm10 2zm-1 1zm-7 19zm-3 9zm1 8zm2 16zm1 22zm11-208zm7 5zm-10 9zm2 0zm9 60zm-2 20zm0 3zm-4 19zm-3 8zm4 0zm4 2zm-9 1zm1 15zm2 69zm-1 21zm9-90zm0 41zm4 6zm15-117zm-7 24zm20 23zm0 8zm1 9zm12 5zm-5 17zm-4 23zm5 18zm4 130zm7-217zm16 158z"/>
<path class="d" stroke="#d62728" transform="scale(.5)" style="stroke-width:6.8" d="M235 306zm0 80zm1 40zm-6 8zm11-134zm1 10zm0 139zm16-110zm-3 13zm-1 18zm15-52zm6 11zm-5 19zm5 43zm-4 41zm-3 1zm-2 5zm4 7zm2 9zm15-111zm-5 11zm5 27zm-9 3zm9 6zm-8 0zm5 68zm15-186zm-3 41zm1 7zm-9 1zm4 18zm-3 2zm10 2zm-2 44zm-9 1zm11 10zm-5 0zm3 2zm-3 15zm0 16zm5 14zm12-163zm-1 32zm-4 7zm1 4zm-1 19zm-4 6zm1 10zm3 1zm5 26zm-10 3zm8 1zm-9 2zm6 4zm-3 0zm4 5zm2 9zm-2 10zm-3 5zm1 84zm11-227zm4 36zm1 32zm1 5zm1 7zm-3 1zm-3 20zm3 6zm-7 13zm1 5zm7 13zm2 11zm-4 1zm1 9zm2 2zm-9 18zm6 30zm7-235zm7 48zm2 11zm-2 10zm2 13zm0 4zm-2 6zm-5 3zm0 3zm7 10zm-4 0zm4 11zm-9 19zm0 0zm4 1zm-4 10zm3 1zm1 6zm1 2zm4 13zm-6 3zm-3 9zm4 13zm0 11zm2 3zm11-182zm-2 6zm6 5zm-6 3zm-5 14zm8 3zm-2 21zm5 6zm-4 1zm-2 2zm3 0zm3 3zm-7 1zm1 12zm0 12zm3 8zm-3 10zm-5 2zm10 26zm-10 9zm6 5zm-5 1zm10 2zm-6 7zm-4 19zm0 5zm2 0zm5 2zm2 11zm0 19zm-7 21zm9-255zm2 20zm6 31zm-8 0zm3 8zm4 3zm-7 14zm3 4zm8 0zm-11 4zm2 0zm0 2zm7 3zm-4 7zm6 4zm-7 0zm-1 1zm7 14zm-5 2zm3 1zm-2 2zm5 8zm-6 4zm1 2zm-3 14zm5 4zm1 1zm2 3zm-3 1zm-5 6zm1 3zm1 2zm4 14zm-8 2zm9 0zm-9 11zm10 0zm-10 2zm5 9zm-1 2zm-2 9zm17-201zm2 5zm-3 9zm3 4zm-2 1zm-4 1zm3 4zm1 9zm-1 1zm0 2zm-3 11zm4 3zm-5 1zm5 6zm-8 5zm10 5zm-7 9zm7 0zm-3 14zm4 3zm-3 3zm2 1zm-8 0zm6 1zm2 0zm-1 10zm-9 4zm8 0zm2 0zm1 4zm-2 5zm-7 8zm8 10zm-2 0zm-1 0zm-1 2zm-1 0zm6 5zm-11 2zm10 8zm-6 0zm6 1zm-3 2zm-4 3zm0 3zm-3 16zm9 8zm-6 5zm8 1zm-3 11zm1 0zm-1 6zm-2 1zm-2 50zm9-259zm3 2zm0 1zm0 17zm6 10zm-9 1zm10 3zm-5 5zm5 7zm-1 0zm0 6zm-3 3zm-2 1zm4 5zm0 1zm-9 2zm8 1zm-3 1zm-3 1zm-1 1zm6 0zm-6 1zm2 1zm6 1zm-9 1zm6 5zm-1 0zm-4 1zm8 2zm-2 4zm-3 3zm2 4zm4 4zm-9 0zm0 1zm-1 1zm7 0zm-2 5zm-2 2zm4 6zm0 2zm-4 8zm6 5zm-9 1zm8 0zm1 0zm-5 3zm-4 2zm3 7zm4 2zm4 1zm-4 2zm4 13zm-8 10zm6 7zm-8 15zm0 22zm19-233zm-3 4zm1 6zm-4 22zm1 1zm1 3zm-1 5zm-2 12zm6 8zm-1 7zm-6 0zm2 2zm3 8zm1 1zm-5 1zm10 1zm-5 5zm4 0zm-1 3zm-3 9zm5 0zm-5 1zm-1 1zm-3 2zm9 1zm-1 0zm-5 3zm3 2zm-3 2zm5 6zm-6 1zm-1 0zm3 2zm-3 2zm2 0zm2 9zm-7 0zm8 3zm-4 1zm-2 1zm9 1zm-3 3zm-2 6zm-2 0zm-1 1zm3 14zm0 5zm-1 7zm6 1zm-4 4zm-7 1zm7 1zm-1 2zm-6 3zm2 1zm3 3zm-2 3zm6 3zm-8 26zm10 1zm3-244zm4 5zm5 36zm-1 4zm-2 2zm-4 6zm2 9zm3 5zm0 6zm-1 3zm-7 14zm1 9zm9 2zm0 4zm-8 3zm6 4zm-4 0zm-1 0zm4 5zm3 1zm-6 2zm-4 0zm0 3zm4 4zm2 3zm1 3zm-2 2zm3 3zm-4 0zm5 1zm-6 2zm2 1zm2 1zm3 0zm-5 3zm-1 2zm0 9zm0 5zm-1 0zm6 12zm-7 8zm-1 0zm5 8zm-6 1zm-1 1zm8 1zm-8 3zm11 0zm0 3zm-3 2zm-3 4zm-4 2zm3 3zm5 5zm-9 1zm10 3zm-1 1zm-6 4zm1 18zm18-205zm-4 12zm-2 24zm2 7zm5 2zm-2 4zm-8 4zm9 2zm1 9zm-6 1zm4 6zm-5 10zm2 1zm-2 6zm2 7zm1 2zm1 0zm1 4zm1 1zm-7 0zm-1 0zm4 9zm-4 2zm4 0zm5 2zm-2 1zm-7 2zm-1 0zm6 1zm-6 2zm10 2zm-11 3zm1 2zm7 0zm-2 1zm-5 3zm8 0zm-9 2zm4 1zm5 1zm0 2zm-4 4zm2 5zm-2 16zm1 2zm-4 12zm6 4zm-3 2zm3 3zm-2 6zm-2 8zm4 14zm12-239zm-6 7zm-1 4zm2 3zm2 4zm0 9zm3 21zm-2 2zm-6 1zm7 2zm-3 6zm0 0zm0 6zm-4 2zm10 3zm-3 4zm-5 2zm2 5zm6 1zm-7 1zm-3 7zm8 3zm-1 3zm4 1zm-9 0zm-2 1zm0 1zm5 5zm2 3zm4 2zm-6 1zm6 0zm-11 1zm1 4zm7 0zm-4 6zm-3 1zm0 0zm6 0zm-3 2zm6 7zm-4 3zm-2 4zm-2 1zm8 1zm-2 5zm1 1zm-2 5zm0 0zm-4 1zm4 1zm0 2zm-6 3zm7 1zm-6 12zm-2 0zm3 4zm4 3zm-7 1zm4 2zm7 0zm-4 0zm2 2zm0 4zm1 4zm-2 28zm3 4zm-6 35zm10-267zm7 42zm-7 6zm0 26zm5 13zm-7 8zm6 2zm4 4zm-9 1zm-2 2zm8 0zm0 8zm0 6zm-5 12zm6 5zm-2 2zm-7 0zm5 5zm2 4zm0 2zm2 2zm-4 4zm2 0zm0 1zm-6 1zm9 1zm-10 2zm8 3zm-4 2zm-4 2zm9 1zm-4 0zm5 2zm-9 12zm3 5zm-4 3zm1 2zm2 8zm5 2zm-6 1zm-1 3zm1 2zm4 2zm3 0zm-1 15zm-7 1zm1 3zm9 9zm-2 3zm-1 2zm0 5zm-7 2zm8 7zm8-222zm-2 2zm-2 4zm5 9zm-6 2zm5 2zm5 2zm-2 4zm-4 2zm5 13zm-8 5zm2 14zm-1 1zm7 2zm-1 1zm-4 7zm3 1zm4 13zm-10 1zm10 1zm-5 7zm2 5zm-5 8zm7 2zm-6 2zm6 2zm-4 7zm-2 0zm-3 2zm1 3zm-1 3zm1 1zm0 0zm-1 6zm4 1zm-4 3zm2 2zm1 2zm3 2zm4 3zm-6 12zm-4 4zm6 2zm-5 8zm0 1zm6 11zm3 7zm-11 5zm9 5zm-7 8zm10-230zm10 36zm-4 15zm-3 4zm8 24zm-2 5zm2 7zm-1 0zm-3 3zm3 0zm-5 2zm0 27zm-4 5zm8 2zm2 3zm-3 2zm3 3zm-4 5zm2 2zm-3 10zm-5 6zm1 1zm4 1zm-3 3zm-1 2zm3 12zm6 2zm-3 6zm-3 1zm1 3zm-3 4zm6 3zm0 3zm-3 19zm4 47zm-6 26zm13-308zm2 12zm-3 14zm-2 14zm2 11zm4 20zm-5 11zm6 2zm1 1zm-10 2zm3 5zm-3 0zm0 5zm4 7zm7 2zm-4 1zm-7 15zm7 3zm-7 1zm9 1zm-4 0zm-5 3zm11 2zm0 1zm-11 2zm1 0zm-1 4zm10 3zm1 1zm-8 5zm8 1zm-6 5zm-5 6zm6 15zm-2 0zm6 8zm-1 16zm-4 17zm0 1zm3 27zm8-232zm1 48zm-5 15zm2 2zm1 0zm1 0zm-1 5zm8 1zm0 0zm-4 19zm1 10zm-6 4zm4 15zm-5 13zm4 17zm-1 0zm2 2zm-6 0zm10 1zm-3 2zm0 6zm0 33zm2 4zm-3 5zm5 24zm-11 39zm21-197zm-7 7zm2 20zm6 3zm0 9zm-6 6zm-1 3zm2 4zm6 12zm-8 3zm-3 5zm7 2zm3 14zm-1 1zm-3 6zm3 1zm1 4zm1 0zm-4 8zm-3 67zm10-188zm4 21zm-1 46zm6 13zm-1 2zm0 4zm-4 16zm3 7zm-9 62zm14-199zm6 76zm-3 10zm0 30zm5 1zm1 8zm-4 44zm10-128zm-4 33zm1 24zm1 30zm4 30zm-7 14zm15-166zm-3 59zm9 97zm-3 24zm-6 34zm15-211zm1 14zm-1 87zm12-49zm-3 102zm15-130zm11 106zm16 28z"/>
</g>
<rect class="t" x="0" y="0" width="340.5" height="337.9"/>
<path class="t" d="M28.5 337.9v3.5M0 309.8h-3.5M99.3 337.9v3.5M0 239.3h-3.5M170.1 337.9v3.5M0 168.9h-3.5M240.9 337.9v3.5M0 98.5h-3.5M311.6 337.9v3.5M0 28.0h-3.5"/>
<text class="tl" x="28.5" y="357.6" text-anchor="middle">−5.0</text><text class="tl" x="-8.0" y="315.9" text-anchor="end">−5.0</text>
<text class="tl" x="99.3" y="357.6" text-anchor="middle">−2.5</text><text class="tl" x="-8.0" y="245.5" text-anchor="end">−2.5</text>
<text class="tl" x="170.1" y="357.6" text-anchor="middle">0.0</text><text class="tl" x="-8.0" y="175.1" text-anchor="end">0.0</text>
<text class="tl" x="240.9" y="357.6" text-anchor="middle">2.5</text><text class="tl" x="-8.0" y="104.7" text-anchor="end">2.5</text>
<text class="tl" x="311.6" y="357.6" text-anchor="middle">5.0</text><text class="tl" x="-8.0" y="34.2" text-anchor="end">5.0</text>
<text class="ti" x="170.0" y="-5.6" text-anchor="middle">4.4 Photons / Symbol</text>
<text class="al" x="170.0" y="379.4" text-anchor="middle">I Quadrature [SNU]</text>
<text class="al" transform="translate(-55 168.9) rotate(-90)" text-anchor="middle">Q Quadrature [SNU]</text>
<g transform="translate(271.3 6.0)"><rect x="0" y="0" width="62.4" height="94.7" rx="2.8" fill="#fff" fill-opacity=".8" stroke="#ccc" stroke-opacity=".8" stroke-width="1.1"/><text class="lt" x="31.2" y="16" text-anchor="middle">Symbol</text><circle cx="22.8" cy="31.3" r="6.15" fill="#1f77b4"/><text class="le" x="44.9" y="34.6">0</text><circle cx="22.8" cy="49.1" r="6.15" fill="#ff7f0e"/><text class="le" x="44.9" y="52.4">1</text><circle cx="22.8" cy="66.9" r="6.15" fill="#2ca02c"/><text class="le" x="44.9" y="70.2">2</text><circle cx="22.8" cy="84.7" r="6.15" fill="#d62728"/><text class="le" x="44.9" y="88.0">3</text></g>
</g>
<g transform="translate(940.3 504.5)">
<path class="g" d="M28.7 0V337.9M0 309.8H340.5M99.5 0V337.9M0 239.3H340.5M170.3 0V337.9M0 168.9H340.5M241.0 0V337.9M0 98.5H340.5M311.8 0V337.9M0 28.0H340.5"/>
<g clip-path="url(#c)">
<path class="d" stroke="#1f77b4" transform="scale(.5)" style="stroke-width:6.8" d="M195 290zm8 19zm-1 62zm3-65zm6 1zm14-42zm1 79zm-7 6zm6 2zm10-84zm-1 3zm5 4zm-4 1zm2 7zm1 8zm1 16zm-5 69zm-4 3zm17-120zm3 12zm-9 29zm10 7zm-9 8zm9 83zm10-138zm-6 21zm4 22zm0 26zm-1 5zm-4 20zm3 11zm6 57zm3-210zm5 3zm-5 14zm9 31zm-7 13zm5 2zm-2 1zm-3 1zm0 2zm5 8zm-2 3zm-6 4zm10 3zm-3 23zm-5 17zm7 12zm1 3zm-2 16zm-8 23zm14-189zm6 48zm-1 1zm-8 8zm3 7zm3 3zm-1 7zm-1 14zm6 8zm-2 4zm2 1zm0 14zm-9 4zm8 5zm-4 12zm-5 3zm2 4zm9 3zm0 0zm-11 18zm10 8zm-3 0zm12-164zm-4 26zm3 9zm2 16zm-8 8zm7 25zm3 11zm1 8zm0 9zm-9 13zm5 12zm-1 3zm4 7zm-10 3zm11 1zm-8 2zm-3 23zm11 15zm-9 6zm-1 17zm18-226zm2 10zm-7 28zm6 2zm-6 40zm-2 17zm3 3zm2 7zm-4 2zm2 3zm5 2zm-1 0zm-4 8zm5 0zm-6 2zm2 8zm5 6zm1 4zm-5 16zm-1 1zm5 4zm-1 4zm-8 1zm2 12zm-1 7zm5 10zm2 11zm2 1zm9-201zm4 30zm-4 18zm-7 9zm9 1zm1 7zm-7 10zm6 1zm-3 3zm0 1zm-1 3zm5 3zm-1 7zm-9 8zm11 3zm-4 0zm-4 1zm-1 7zm-2 1zm11 15zm-1 3zm-3 0zm-1 2zm2 2zm1 1zm-6 3zm-1 11zm5 1zm-3 5zm3 0zm1 1zm-6 2zm9 4zm-6 18zm1 10zm4 1zm-3 1zm-5 7zm-2 31zm11 1zm0 19zm2-302zm6 48zm-1 14zm-5 7zm4 2zm-3 15zm5 0zm-5 5zm-1 5zm9 1zm-10 0zm10 12zm-9 2zm1 0zm9 2zm-8 1zm-1 7zm1 2zm-3 3zm2 1zm9 1zm-3 6zm-4 5zm7 1zm-2 1zm-7 0zm8 2zm-7 2zm-3 1zm8 1zm-3 1zm3 1zm-7 6zm-1 4zm8 0zm-8 8zm4 6zm-4 1zm0 4zm8 2zm-7 4zm10 2zm-3 1zm-6 7zm-2 2zm1 11zm5 2zm5 10zm-5 8zm2 2zm1 5zm10-176zm-7 19zm9 30zm-9 4zm1 7zm6 10zm-6 0zm10 19zm-4 3zm1 4zm2 1zm0 2zm-3 6zm-1 6zm-6 1zm10 4zm-10 1zm3 2zm-2 0zm5 2zm2 2zm-6 5zm6 1zm-7 3zm2 1zm5 2zm-2 4zm2 7zm-8 1zm3 3zm-2 1zm8 2zm-2 1zm-6 3zm6 1zm-1 3zm-4 4zm1 0zm7 3zm-3 16zm-7 10zm9 3zm2 1zm-11 1zm21-189zm-5 6zm4 0zm3 14zm-8 6zm-2 12zm6 3zm-7 1zm11 1zm-7 2zm7 3zm-3 4zm3 0zm0 6zm-7 4zm7 1zm-6 2zm-4 3zm9 1zm-9 1zm-1 3zm1 1zm0 2zm9 3zm1 13zm-2 3zm-9 1zm6 3zm-4 2zm9 2zm-10 1zm10 4zm-8 5zm6 2zm-9 5zm4 3zm3 0zm1 8zm-8 8zm6 3zm3 4zm-9 2zm9 1zm-8 0zm1 9zm-2 2zm2 0zm1 3zm4 2zm-5 5zm7 1zm-7 2zm-1 4zm4 29zm-2 28zm9-292zm8 39zm-8 7zm3 14zm3 18zm-5 1zm8 6zm-1 2zm-5 7zm8 4zm-9 1zm5 1zm-1 0zm5 8zm-5 0zm2 0zm1 14zm-2 2zm-3 1zm-2 8zm-2 1zm8 3zm2 5zm-7 6zm4 0zm-2 1zm1 0zm-6 1zm5 3zm6 2zm-1 0zm1 3zm-7 1zm1 3zm2 1zm-1 2zm0 2zm5 2zm-6 2zm0 2zm0 7zm-5 2zm8 3zm-2 1zm3 3zm-9 4zm11 1zm-4 11zm-5 1zm2 6zm2 51zm2 24zm5-234zm-1 8zm3 19zm0 9zm8 6zm-2 2zm1 2zm-5 2zm1 3zm4 1zm-3 1zm1 6zm-6 4zm8 1zm-7 0zm1 3zm7 0zm-4 2zm-1 0zm2 1zm0 2zm-4 7zm7 6zm-10 8zm9 0zm-4 1zm5 1zm-10 3zm6 1zm-2 0zm0 3zm-1 1zm2 2zm4 4zm-4 2zm4 1zm-2 4zm-7 2zm2 3zm2 8zm1 4zm-4 8zm-1 9zm1 0zm1 2zm6 1zm-7 2zm0 5zm1 1zm6 2zm-9 4zm7 4zm-6 11zm6 2zm3 1zm-10 4zm3 0zm-1 17zm1 5zm-2 152zm13-431zm-1 33zm9 25zm1 20zm0 10zm-5 3zm4 1zm-3 10zm-1 1zm-3 0zm-1 1zm0 9zm2 6zm-2 1zm6 6zm-5 1zm-1 0zm9 7zm-1 2zm-9 7zm1 3zm-2 1zm7 0zm1 1zm3 4zm-9 0zm9 1zm-6 4zm4 0zm-2 1zm-7 1zm4 3zm5 1zm-7 0zm6 4zm-5 4zm2 4zm0 0zm-1 5zm-3 1zm9 1zm-3 1zm-2 8zm3 1zm3 0zm-10 4zm0 1zm6 5zm4 8zm0 3zm-6 4zm4 5zm1 6zm-1 6zm-9 0zm5 1zm-4 10zm9 54zm-1 16zm7-276zm0 35zm3 12zm2 7zm-4 2zm3 4zm-4 7zm5 0zm-3 1zm-5 0zm-1 8zm5 9zm-3 3zm7 1zm-5 7zm1 5zm-3 4zm5 5zm-6 3zm1 1zm9 3zm-7 5zm0 0zm-1 8zm1 0zm-1 2zm2 1zm1 0zm3 2zm-5 1zm1 6zm-5 1zm11 0zm0 6zm-4 3zm1 2zm1 4zm-1 3zm-1 4zm-3 1zm-2 2zm9 3zm-6 2zm-4 0zm2 7zm6 1zm0 11zm-2 8zm2 25zm-3 0zm2 6zm-3 2zm4 33zm5-252zm-1 19zm3 3zm-3 5zm8 6zm-7 14zm-2 1zm9 1zm-3 7zm3 5zm-6 1zm4 2zm-1 0zm-1 3zm-4 0zm9 1zm-7 1zm-1 0zm2 3zm0 3zm-1 1zm-2 6zm0 5zm4 4zm4 2zm-8 5zm9 4zm1 0zm-6 2zm-1 4zm2 1zm-6 3zm10 4zm0 0zm-7 1zm1 7zm2 5zm-6 4zm10 2zm-4 6zm-5 1zm2 0zm4 1zm1 9zm-8 8zm9 2zm-9 1zm10 5zm-8 3zm7 0zm1 5zm-10 0zm10 9zm-8 16zm0 11zm11-223zm10 16zm-10 22zm-1 7zm0 5zm9 1zm-4 3zm3 5zm-6 0zm-1 3zm0 3zm3 17zm6 2zm-5 6zm4 2zm-5 1zm1 1zm2 1zm0 1zm0 6zm-7 3zm1 4zm-1 0zm3 4zm1 0zm3 4zm-4 2zm-2 3zm5 1zm2 0zm-6 4zm4 1zm5 2zm-7 1zm5 0zm-4 2zm-5 6zm0 11zm9 7zm2 0zm-4 0zm4 1zm-1 1zm-1 3zm-7 1zm6 1zm-3 17zm3 4zm-3 2zm-2 3zm3 42zm12-262zm-3 62zm3 14zm5 6zm-9 19zm3 9zm-5 3zm6 1zm-2 2zm-1 3zm4 3zm0 3zm3 2zm-8 3zm6 0zm2 0zm-5 1zm0 2zm6 5zm-2 0zm0 3zm-1 2zm-1 1zm4 1zm-9 5zm7 6zm-8 5zm5 5zm-4 0zm2 11zm4 2zm-4 3zm5 9zm-9 5zm7 3zm0 0zm1 47zm-1 35zm-2 29zm18-302zm-4 63zm-3 22zm3 13zm-1 4zm0 6zm2 5zm-3 6zm-1 1zm4 15zm-1 2zm-5 0zm-1 20zm4 5zm-2 0zm-1 3zm3 7zm3 5zm-6 25zm9 6zm-6 9zm2 4zm-1 16zm-4 0zm2 1zm2 10zm-6 22zm21-188zm-2 17zm-6 1zm6 5zm3 4zm-9 1zm2 6zm0 1zm6 7zm-5 13zm-1 1zm2 2zm2 7zm1 30zm-7 6zm7 0zm-7 1zm0 8zm2 5zm7 0zm0 1zm-5 3zm-2 6zm3 26zm6-199zm5 17zm-4 14zm10 40zm-1 5zm-8 10zm-2 0zm8 6zm3 13zm-6 0zm-3 10zm9 5zm-6 6zm-2 1zm4 25zm-5 33zm1 0zm-2 3zm1 8zm7 12zm-5 23zm15-229zm2 78zm2 8zm-1 2zm-5 0zm1 11zm-3 17zm-1 30zm-1 8zm12-119zm5 46zm-6 0zm7 43zm4 10zm-10 16zm5 2zm3 26zm-9 18zm11 22zm6-155zm-1 41zm0 32zm6 4zm0 2zm12-67zm-8 31zm0 27zm3 13zm3 24zm5-106zm18-4z"/>
<path class="d" stroke="#ff7f0e" transform="scale(.5)" style="stroke-width:6.8" d="M103 377zm16-87zm-7 25zm19-49zm21-40zm1 85zm-8 29zm12-164zm9 43zm-9 122zm2 20zm20-46zm0 20zm-5 2zm-2 16zm2 10zm6-156zm4 104zm-2 3zm2 13zm12-75zm-2 14zm7 11zm1 23zm-9 3zm-1 8zm7 12zm-6 2zm10 2zm-4 10zm-4 31zm-1 14zm16-198zm-1 17zm3 9zm-1 36zm-4 21zm-2 4zm2 13zm6 0zm-4 14zm3 21zm2 1zm-6 3zm-4 1zm4 6zm-1 4zm6 4zm-7 7zm9 2zm-6 39zm-2 10zm5 5zm3 3zm0 20zm10-193zm1 7zm-4 23zm-5 9zm4 0zm-1 15zm0 1zm-2 5zm7 20zm-1 1zm-8 3zm8 7zm-4 20zm2 1zm-6 9zm3 1zm0 7zm6 2zm-3 2zm2 6zm-3 8zm6 16zm-4 7zm-6 28zm6 1zm3 1zm3-217zm3 25zm2 15zm4 0zm-4 2zm-1 11zm5 15zm-10 1zm10 0zm-2 3zm-2 3zm5 3zm-8 4zm5 2zm-5 3zm7 0zm1 2zm-2 1zm-6 2zm2 6zm4 5zm-6 7zm5 1zm-7 3zm1 4zm1 2zm4 6zm-5 0zm1 5zm8 4zm-6 10zm5 9zm-4 18zm-5 7zm6 15zm3 0zm5-211zm8 26zm-1 6zm-4 3zm-1 1zm5 3zm-2 4zm1 12zm-1 2zm-2 3zm-6 2zm8 5zm3 4zm0 3zm-8 2zm5 1zm-3 1zm3 7zm3 2zm-3 6zm-8 12zm3 8zm1 10zm-1 2zm2 11zm-5 0zm1 8zm1 11zm0 2zm5 1zm-4 1zm6 0zm-8 4zm0 7zm4 2zm6 11zm-7 13zm0 8zm1 14zm5 2zm13-195zm-3 6zm-4 27zm0 13zm5 12zm-4 8zm5 0zm-6 7zm7 3zm-6 2zm4 3zm-3 0zm5 2zm-7 6zm3 1zm4 1zm-1 3zm-7 4zm3 0zm-3 2zm8 5zm-10 0zm7 1zm2 5zm-5 8zm3 0zm2 18zm1 3zm-4 8zm-1 9zm3 0zm-1 4zm0 10zm-2 0zm2 6zm-1 12zm4 18zm-4 21zm15-214zm-8 2zm7 0zm-2 8zm-4 14zm8 0zm-5 7zm4 12zm-8 0zm1 1zm1 1zm0 4zm1 9zm-2 2zm0 0zm-3 1zm11 4zm0 2zm-6 6zm2 2zm0 0zm-3 4zm3 5zm-7 4zm6 5zm-6 1zm4 1zm2 0zm4 1zm0 0zm-9 1zm6 2zm0 7zm-7 2zm4 5zm3 24zm-3 5zm4 1zm-7 2zm9 13zm-5 9zm1 4zm-3 19zm12-238zm-1 15zm8 9zm-8 11zm3 6zm-5 9zm10 1zm1 8zm-7 4zm-3 2zm9 0zm-5 1zm6 3zm-2 2zm-5 13zm1 9zm3 5zm-3 3zm-5 1zm10 1zm-2 7zm-5 6zm1 0zm2 6zm-1 3zm6 3zm-11 0zm10 1zm-6 2zm-2 1zm-2 4zm9 8zm-4 2zm0 3zm-5 1zm5 1zm5 0zm-6 2zm7 3zm-6 0zm6 1zm-5 0zm0 16zm3 2zm0 10zm-4 5zm-2 0zm7 20zm-6 0zm-2 9zm-1 23zm2 26zm18-265zm-8 9zm3 0zm2 33zm-3 5zm1 5zm3 6zm-4 2zm1 2zm1 0zm4 5zm0 2zm-8 5zm5 1zm1 2zm-7 6zm3 2zm8 3zm-9 0zm1 1zm0 4zm3 2zm0 6zm5 0zm-6 1zm5 2zm-2 0zm1 2zm-1 8zm-2 2zm3 1zm-7 0zm-2 3zm2 1zm-1 15zm6 2zm-1 0zm-5 4zm0 1zm10 3zm-2 2zm-3 1zm3 1zm-6 1zm5 4zm-3 1zm6 2zm-8 2zm7 1zm-8 7zm2 1zm1 10zm-1 2zm3 2zm2 1zm-9 7zm0 0zm8 8zm0 4zm2 1zm-4 0zm1 2zm-2 21zm4 35zm4-267zm4 6zm-5 47zm3 3zm2 6zm0 5zm4 10zm2 8zm-5 1zm-1 1zm4 3zm-2 0zm-4 1zm0 1zm1 2zm7 3zm-2 0zm-9 0zm10 1zm-2 5zm0 7zm-2 0zm-5 2zm2 1zm1 4zm-3 9zm3 2zm-3 1zm8 3zm-8 0zm3 4zm5 5zm-8 0zm0 2zm3 1zm-4 1zm0 0zm1 1zm4 1zm3 5zm-6 0zm-2 8zm3 0zm-3 7zm10 4zm-10 5zm0 2zm3 3zm5 3zm-4 2zm1 3zm0 1zm4 1zm-5 19zm-4 5zm3 18zm2 7zm7-242zm6 38zm3 6zm0 2zm-7 4zm5 2zm-1 1zm-6 3zm0 1zm2 10zm-2 1zm6 9zm0 3zm1 1zm-1 4zm5 2zm-11 6zm1 5zm2 5zm6 0zm-5 4zm-2 5zm2 1zm7 7zm-11 3zm5 5zm2 2zm3 5zm-9 4zm7 6zm-6 3zm7 2zm-4 2zm6 2zm-2 1zm1 1zm0 7zm-10 2zm8 2zm-4 4zm-4 5zm2 0zm-1 9zm5 10zm-1 19zm-4 30zm7 37zm1 5zm14-256zm-5 2zm-3 12zm-3 1zm9 8zm-7 15zm3 3zm5 3zm-3 1zm-3 4zm2 0zm3 2zm1 1zm-10 1zm5 3zm-5 6zm5 3zm6 3zm-5 1zm-1 1zm0 1zm-5 3zm10 4zm-2 2zm-2 1zm1 1zm-4 0zm7 6zm-5 0zm0 2zm-2 5zm3 1zm-1 1zm-5 1zm2 3zm9 1zm0 2zm-9 0zm0 1zm6 0zm-8 0zm4 0zm5 0zm-7 1zm6 1zm0 0zm-2 4zm-3 6zm-3 2zm7 4zm-1 3zm-4 2zm8 0zm-1 1zm-4 0zm-4 9zm1 6zm-2 1zm7 2zm3 4zm-10 1zm1 1zm-1 3zm0 0zm7 1zm4 5zm-4 0zm3 9zm1 6zm-11 6zm11 29zm-1 10zm-4 2zm3 27zm14-266zm-11 30zm8 13zm-6 10zm-2 0zm4 1zm5 0zm-5 3zm1 6zm0 8zm-1 1zm0 9zm-4 1zm8 2zm-8 3zm11 6zm-3 1zm-3 5zm3 3zm-8 3zm9 5zm-8 4zm-1 0zm11 0zm-8 4zm1 5zm2 1zm4 1zm-7 2zm5 2zm-2 4zm2 4zm-7 4zm7 10zm-8 3zm7 6zm3 3zm-8 0zm4 2zm-5 1zm6 1zm-3 4zm1 1zm1 1zm2 2zm-4 4zm7 5zm-2 12zm-9 1zm9 4zm2 5zm-3 7zm-6 8zm-1 1zm8 20zm4-229zm9 11zm-8 3zm2 6zm2 3zm2 9zm-3 2zm-5 5zm1 3zm1 1zm2 2zm7 4zm0 2zm-5 5zm1 1zm-2 2zm-3 11zm4 1zm3 2zm-9 12zm5 3zm-3 2zm5 4zm-5 1zm8 3zm-2 1zm-4 1zm4 7zm2 1zm-1 1zm-5 1zm1 1zm5 2zm1 1zm-8 1zm0 17zm4 4zm-1 9zm2 3zm3 34zm0 2zm-3 17zm-2 19zm9-223zm7 13zm-2 30zm-6 10zm-1 0zm4 13zm4 3zm-9 2zm0 1zm2 7zm3 5zm0 6zm-5 1zm5 1zm1 2zm5 12zm-6 3zm0 0zm6 4zm-10 1zm-1 0zm1 2zm3 1zm4 2zm0 3zm-2 8zm-6 0zm4 1zm3 15zm4 16zm-6 3zm-3 1zm6 16zm-1 14zm4 10zm-10 0zm-1 17zm2 18zm15-254zm4 16zm-2 19zm-7 3zm7 6zm-5 11zm2 0zm-2 9zm1 4zm7 5zm-2 4zm1 20zm-8 0zm0 4zm5 1zm3 7zm-2 20zm2 1zm0 3zm1 8zm-6 3zm7 9zm-6 9zm5 3zm-3 3zm-6 5zm8 2zm-1 1zm-6 3zm-1 1zm1 65zm20-269zm-3 45zm3 18zm-2 16zm-1 2zm0 16zm3 5zm-4 8zm3 5zm-3 3zm2 4zm-1 5zm-5 2zm6 1zm0 14zm-3 9zm-1 1zm-4 1zm9 11zm2 2zm-1 10zm-10 2zm6 65zm7-247zm-1 54zm5 8zm-5 3zm4 11zm5 2zm-9 24zm7 4zm-3 21zm1 14zm1 1zm3 9zm-9 4zm11 1zm-4 3zm-4 8zm1 47zm4 27zm13-190zm0 16zm-9 16zm6 6zm-3 29zm2 30zm-5 14zm10 1zm-6 5zm4 3zm-5 5zm5 18zm-5 10zm4 8zm-4 14zm0 22zm20-202zm-5 0zm-4 47zm8 20zm1 28zm0 8zm-3 37zm2 51zm-9 29zm17-220zm-3 64zm-3 25zm11 4zm-9 11zm-1 4zm0 5zm10 27zm-7 15zm12-110zm-4 35zm2 39zm1 30zm15-193zm2 129zm-7 3zm20 7zm8 66zm16-55z"/>
<path class="d" stroke="#2ca02c" transform="scale(.5)" style="stroke-width:6.8" d="M123 364zm11-44zm5 46zm-1 24zm15-171zm-1 87zm3 48zm-9 17zm3 29zm0 21zm13-105zm-5 25zm10 53zm-11 7zm11 4zm-5 48zm13-188zm1 16zm-4 63zm-3 35zm8 47zm-8 44zm21-153zm0 35zm-10 17zm5 34zm2 55zm6-140zm2 13zm3 8zm0 1zm2 4zm-8 5zm8 0zm3 7zm-11 10zm8 11zm-4 12zm5 11zm2 2zm-8 1zm7 6zm-2 7zm1 40zm-9 4zm8 8zm9-245zm-2 49zm5 47zm1 5zm-3 9zm1 21zm4 26zm-2 17zm-8 29zm-1 32zm3 3zm0 40zm11-228zm0 1zm1 12zm4 6zm3 6zm1 2zm-3 4zm1 10zm-2 4zm1 1zm-2 1zm3 7zm-1 5zm-6 5zm6 7zm-4 9zm5 6zm1 3zm1 16zm0 2zm-9 8zm3 3zm0 10zm-1 1zm5 8zm-3 2zm5 2zm-3 16zm0 60zm11-242zm4 15zm-10 12zm10 1zm-4 5zm2 17zm0 5zm1 2zm-2 2zm-3 2zm-4 7zm4 1zm6 3zm-1 8zm-3 1zm-1 0zm-6 8zm6 4zm-6 3zm7 0zm-2 1zm-5 1zm9 1zm-4 6zm-2 2zm2 2zm6 8zm-10 1zm-1 4zm6 4zm-4 0zm9 12zm-1 4zm0 11zm1 11zm-10 1zm7 4zm-1 2zm0 42zm16-205zm-7 3zm-2 18zm2 32zm-3 2zm10 4zm-8 5zm4 16zm-6 9zm10 3zm-2 1zm-7 5zm6 14zm-7 4zm1 7zm0 5zm2 3zm-1 0zm2 3zm1 0zm3 9zm0 5zm1 0zm-3 9zm-7 24zm1 10zm13-234zm2 21zm-2 29zm-1 7zm8 25zm-9 11zm11 9zm0 5zm-8 4zm-3 7zm9 2zm-6 6zm2 5zm6 3zm-11 3zm11 2zm-7 1zm4 4zm-6 6zm8 1zm-2 1zm-8 1zm6 5zm5 3zm-10 2zm5 2zm0 5zm2 3zm2 2zm0 1zm-1 8zm-7 1zm9 2zm-9 6zm8 6zm-6 3zm7 1zm-9 1zm9 4zm-1 1zm-2 5zm-6 39zm12-231zm8 25zm-8 3zm-1 2zm9 14zm-4 11zm0 7zm2 8zm-1 6zm-4 10zm1 5zm7 8zm-7 2zm-4 1zm10 4zm1 5zm-3 0zm-3 0zm3 2zm1 5zm1 0zm-8 2zm7 6zm-4 4zm-2 0zm4 1zm-1 3zm1 0zm1 1zm0 0zm-4 1zm-1 0zm-3 0zm9 8zm1 0zm-6 7zm7 5zm0 2zm0 2zm-4 7zm2 28zm1 3zm-8 7zm5 11zm-3 8zm-3 60zm22-245zm0 5zm-11 2zm3 1zm1 13zm6 19zm-10 1zm6 3zm0 0zm-6 4zm0 5zm4 1zm6 1zm-5 1zm3 1zm-4 1zm0 3zm-1 5zm1 2zm-1 1zm5 3zm-8 1zm4 0zm5 4zm0 5zm-5 12zm5 0zm-1 1zm-7 3zm4 1zm-4 2zm2 4zm1 0zm-1 6zm5 1zm0 1zm-7 7zm2 1zm1 6zm-3 2zm7 0zm0 1zm0 6zm-8 2zm6 1zm-5 1zm10 2zm-6 1zm6 11zm0 1zm-7 17zm-3 12zm8 10zm1 29zm12-277zm-1 26zm-4 2zm-5 16zm9 7zm-6 2zm1 0zm3 3zm-2 23zm5 0zm-10 1zm3 4zm7 10zm-10 11zm4 0zm-4 2zm2 4zm8 0zm1 1zm-1 1zm-9 4zm8 5zm-7 7zm1 1zm5 1zm-4 0zm-1 0zm2 5zm2 2zm-2 7zm2 1zm-5 0zm7 6zm-7 3zm6 4zm-4 1zm7 4zm-8 4zm8 4zm-3 4zm-1 3zm1 0zm1 3zm-4 2zm5 12zm-9 3zm5 5zm-6 10zm4 1zm0 9zm1 9zm3 1zm0 18zm-6 31zm17-259zm4 33zm-8 0zm-1 8zm0 6zm1 1zm-3 2zm7 3zm-6 1zm6 4zm4 0zm-1 3zm-4 0zm5 9zm-5 1zm-3 1zm4 5zm-6 2zm2 0zm3 2zm0 2zm0 2zm-6 1zm1 7zm3 2zm4 1zm3 2zm-2 3zm0 2zm0 5zm-5 0zm7 4zm0 3zm-3 3zm-3 11zm0 4zm4 0zm1 1zm-9 2zm9 10zm-4 2zm2 0zm-1 0zm4 2zm-2 0zm-2 3zm-4 2zm4 2zm1 4zm-8 0zm10 2zm-4 0zm-5 0zm8 1zm-2 1zm-7 6zm6 6zm4 3zm-8 7zm7 5zm-1 5zm2 5zm-8 5zm-1 3zm12-231zm5 18zm-2 15zm1 31zm0 7zm-3 0zm6 9zm-3 0zm-4 1zm-1 3zm11 0zm0 3zm-4 0zm-5 3zm0 11zm7 1zm-6 8zm3 0zm5 1zm-7 12zm6 1zm-2 5zm-3 1zm-2 1zm7 1zm0 0zm1 10zm-10 8zm9 5zm0 4zm-6 6zm-3 2zm8 0zm1 3zm-7 0zm0 6zm6 2zm-4 5zm0 2zm-4 5zm3 2zm-4 6zm11 9zm-7 13zm-1 0zm-1 11zm0 4zm6 10zm-7 26zm15-264zm-1 17zm0 34zm2 13zm-2 3zm7 11zm-9 1zm7 3zm-5 1zm7 3zm-2 9zm-1 0zm0 0zm-5 2zm7 3zm-7 1zm8 1zm-3 16zm-5 0zm8 2zm-8 0zm8 3zm1 3zm-1 1zm-7 0zm7 1zm-4 3zm1 2zm4 1zm-4 2zm-6 3zm0 6zm6 0zm4 1zm-10 1zm5 0zm-3 2zm7 2zm-7 14zm8 1zm-9 1zm6 0zm1 1zm-7 0zm1 5zm-1 0zm0 4zm5 9zm-3 4zm-1 18zm6 5zm2 5zm-7 29zm2 18zm15-297zm-7 55zm6 8zm-5 14zm0 3zm6 1zm-7 6zm-2 3zm2 0zm4 1zm-5 3zm-1 2zm2 1zm-1 10zm6 3zm-3 0zm0 3zm2 4zm-3 0zm5 2zm-5 2zm1 1zm-3 1zm5 2zm-6 4zm4 2zm4 4zm1 1zm-2 0zm-6 3zm8 1zm-9 0zm0 5zm10 0zm-1 2zm-3 1zm-4 1zm-2 0zm7 2zm-3 5zm4 1zm-4 3zm4 2zm3 4zm-4 2zm-3 1zm3 1zm-4 1zm8 2zm-10 1zm9 1zm-8 1zm5 1zm-3 1zm-2 0zm3 2zm0 10zm3 6zm-1 4zm-4 0zm7 0zm-2 0zm-4 10zm5 1zm-2 3zm-5 2zm2 0zm-3 1zm0 11zm6 5zm0 4zm-7 6zm7 6zm-3 6zm7 21zm-10 5zm14-228zm5 10zm-1 35zm-3 2zm-1 7zm-2 4zm7 3zm1 3zm-7 0zm6 4zm-4 2zm-2 3zm-2 6zm5 6zm-2 13zm8 0zm-10 12zm10 2zm-2 2zm-4 4zm6 0zm-4 2zm-7 12zm9 1zm1 1zm-1 8zm-5 1zm5 5zm-7 13zm9 0zm-5 4zm0 15zm-4 1zm-2 19zm23-164zm-2 3zm1 16zm-10 6zm7 10zm-4 8zm4 0zm4 7zm-11 3zm4 7zm6 18zm-3 1zm2 2zm-9 2zm5 4zm0 3zm-5 9zm7 4zm-6 1zm8 2zm-2 0zm4 3zm-6 8zm6 0zm-9 17zm1 2zm0 0zm-2 10zm0 11zm7 19zm15-201zm0 9zm-11 6zm6 3zm-3 9zm8 1zm-10 11zm3 5zm1 4zm-1 5zm-1 6zm1 11zm1 0zm6 10zm-5 17zm5 4zm-2 1zm1 7zm-8 3zm5 1zm-5 8zm4 16zm-4 3zm5 0zm1 3zm-7 7zm0 1zm10 7zm-11 27zm4 12zm-2 26zm20-245zm-10 15zm2 5zm6 26zm0 17zm-5 6zm-1 4zm-1 1zm4 6zm-4 7zm6 6zm3 1zm-4 5zm-6 15zm0 3zm2 2zm3 5zm-4 9zm2 2zm-1 5zm-1 1zm4 0zm3 10zm-8 20zm7 46zm1 23zm13-222zm0 25zm-3 21zm3 2zm-2 15zm-3 19zm0 2zm2 7zm5 0zm-10 4zm5 9zm3 6zm-3 1zm-5 4zm8 10zm-9 3zm9 15zm1 4zm-9 2zm3 9zm1 7zm9-180zm4 18zm1 11zm-2 29zm-1 14zm0 20zm-1 0zm-1 8zm5 6zm-2 0zm1 0zm5 3zm-6 9zm-1 4zm-4 3zm4 3zm-1 4zm5 26zm0 2zm3 2zm-1 3zm-9 12zm5 8zm5 4zm4-137zm5 40zm-6 3zm9 13zm-9 40zm7 6zm-1 43zm4-170zm10 27zm-9 3zm5 3zm-5 29zm9 14zm-5 1zm-5 10zm4 5zm4 9zm-8 19zm0 58zm22-149zm-6 17zm-4 65zm32-105zm1 42zm-7 6zm1 27zm25 18z"/>
<path class="d" stroke="#d62728" transform="scale(.5)" style="stroke-width:6.8" d="M138 426zm74-93zm0 94zm4-143zm1 12zm10 21zm-2 25zm1 19zm-10 18zm9 24zm10-122zm3 28zm-6 22zm1 8zm6 16zm9-59zm2 29zm-4 44zm-4 31zm3 73zm17-221zm1 11zm-2 3zm1 20zm1 7zm-6 17zm0 32zm3 22zm3 21zm-1 35zm-1 11zm13-139zm-6 16zm3 11zm-6 16zm4 2zm6 2zm0 24zm-7 1zm-2 5zm6 27zm-1 6zm-6 1zm2 42zm7 41zm4-223zm9 24zm-10 2zm1 13zm3 2zm-1 8zm1 40zm6 2zm-4 1zm3 0zm-7 22zm4 5zm-1 20zm-4 2zm5 0zm3 7zm-2 2zm-3 15zm6 6zm-7 14zm16-213zm-6 35zm6 21zm-8 3zm8 4zm0 20zm-4 28zm-3 21zm1 22zm-2 9zm9 6zm-5 2zm0 21zm1 10zm5 4zm-5 1zm7-215zm7 28zm3 5zm-9 0zm0 33zm7 13zm1 6zm-7 4zm7 4zm1 2zm-5 2zm-2 1zm-3 0zm9 7zm-7 1zm2 14zm6 4zm-5 1zm3 2zm-7 2zm-1 2zm2 3zm0 3zm4 6zm-4 5zm4 2zm1 9zm2 0zm-9 5zm7 3zm-7 5zm8 4zm-3 1zm5 3zm-3 1zm2 3zm-3 2zm4 8zm-4 10zm-3 44zm11-245zm-2 19zm9 12zm0 13zm1 6zm-3 2zm4 9zm-9 3zm7 21zm0 10zm-2 0zm1 9zm-8 0zm4 0zm2 0zm0 4zm-3 16zm4 11zm4 12zm-7 3zm-1 6zm-3 1zm1 4zm0 1zm7 0zm-7 1zm0 2zm0 4zm5 5zm-3 1zm0 9zm-2 8zm-1 0zm9 1zm-3 5zm-1 12zm3 4zm-1 8zm0 2zm-5 2zm6 35zm5-232zm10 13zm0 8zm-10 7zm2 10zm8 7zm-9 11zm-2 16zm0 2zm6 5zm-3 1zm1 8zm0 10zm2 0zm5 0zm-4 8zm1 2zm-2 2zm-2 1zm-1 5zm-1 12zm1 4zm8 6zm-6 7zm-2 1zm4 13zm1 6zm0 2zm-5 4zm1 1zm-3 7zm1 4zm8 10zm-10 4zm4 6zm-3 0zm9 10zm0 16zm-9 4zm16-287zm2 12zm-3 35zm6 20zm-6 6zm1 1zm-2 1zm-1 19zm9 1zm-2 15zm-4 1zm1 4zm1 5zm0 1zm-3 2zm2 3zm-5 6zm0 1zm9 1zm-5 2zm-4 0zm0 1zm2 2zm-2 0zm10 4zm-4 2zm-6 1zm2 0zm1 1zm6 1zm-4 0zm2 1zm-8 8zm9 1zm2 0zm0 3zm-2 6zm-9 2zm1 0zm7 1zm2 1zm-3 2zm-4 2zm2 1zm1 1zm-3 2zm3 3zm-6 2zm2 3zm3 2zm5 0zm0 1zm0 2zm-5 0zm2 1zm-4 3zm7 3zm-5 1zm4 0zm0 3zm-9 6zm7 1zm-5 4zm4 26zm1 1zm2 33zm1 44zm5-290zm6 16zm-2 4zm-4 17zm8 15zm-9 5zm-2 10zm2 1zm8 13zm-6 0zm6 0zm-2 3zm-8 1zm7 4zm3 2zm-2 0zm2 1zm-5 4zm-5 4zm4 7zm5 5zm0 0zm-7 1zm0 1zm0 1zm7 5zm-5 4zm-2 1zm3 3zm4 6zm-1 5zm2 4zm-8 3zm9 0zm-7 3zm3 1zm-4 3zm2 4zm6 2zm-4 0zm-6 8zm7 2zm2 0zm1 2zm0 1zm-9 3zm9 1zm-2 0zm-4 2zm1 2zm-2 3zm1 9zm5 9zm-8 9zm7 17zm10-223zm3 10zm-10 18zm8 1zm-5 8zm-3 22zm1 9zm-1 1zm4 1zm1 4zm3 5zm-7 0zm-1 6zm8 8zm-1 0zm0 3zm-2 3zm4 1zm2 1zm-6 1zm-1 1zm-2 1zm9 0zm-6 0zm5 1zm-4 1zm4 10zm-2 2zm2 0zm-9 2zm1 2zm8 4zm-8 2zm3 6zm0 7zm6 2zm-6 0zm3 4zm-3 10zm5 1zm-6 5zm5 2zm-1 2zm-8 1zm3 13zm2 2zm-3 6zm-2 12zm6 0zm5 1zm-7 3zm6 2zm-9 3zm-1 13zm10 8zm-4 21zm8-237zm2 19zm2 2zm0 16zm-1 7zm-1 6zm-1 5zm-3 1zm5 6zm3 0zm1 2zm-7 3zm8 3zm-4 2zm5 7zm-10 3zm1 3zm-2 0zm4 1zm5 2zm-3 1zm0 1zm-3 1zm-1 7zm-2 2zm11 1zm-7 2zm-1 1zm1 1zm-3 8zm2 1zm6 2zm2 1zm-9 0zm2 0zm-3 1zm7 0zm-2 2zm-1 0zm-3 3zm2 0zm-3 3zm10 2zm-7 9zm1 1zm-1 1zm-2 7zm0 2zm-1 0zm0 2zm4 4zm6 3zm-10 2zm7 3zm-8 7zm10 10zm-4 5zm-1 0zm2 3zm2 2zm-1 12zm3 1zm-2 28zm-5 26zm19-270zm-3 15zm-5 17zm3 12zm5 9zm-4 3zm-5 3zm0 3zm7 7zm-6 8zm-3 1zm7 1zm4 0zm-5 3zm3 6zm-1 0zm-2 1zm-1 4zm2 1zm2 9zm-4 1zm5 2zm-7 1zm1 2zm-1 7zm5 3zm-3 5zm0 3zm0 6zm3 0zm-2 5zm-3 1zm7 3zm1 0zm-8 3zm7 1zm-4 2zm-3 9zm-3 2zm9 3zm0 0zm1 0zm-1 1zm-9 1zm0 1zm10 1zm1 1zm-8 1zm3 3zm-5 0zm7 1zm-6 0zm1 8zm2 7zm-4 1zm0 1zm5 10zm-6 2zm8 16zm-5 37zm18-271zm-3 41zm1 2zm-1 7zm4 2zm-9 13zm3 3zm-1 2zm5 0zm-3 8zm-4 6zm6 6zm-6 0zm0 2zm5 0zm1 1zm-5 1zm9 5zm-4 3zm-5 3zm0 2zm-2 5zm8 1zm-3 4zm-4 2zm10 5zm-10 4zm5 2zm4 0zm1 1zm-11 0zm8 2zm-4 2zm-4 8zm8 1zm-6 4zm6 0zm-7 9zm8 3zm-4 0zm2 1zm-4 0zm1 3zm5 2zm-2 0zm4 1zm-5 2zm2 1zm3 1zm-5 1zm4 1zm-10 0zm8 3zm-7 3zm5 11zm3 7zm-1 4zm-3 1zm-1 17zm7 0zm-5 1zm8-245zm3 71zm-1 18zm6 6zm-4 0zm2 15zm-8 8zm7 0zm-5 1zm1 8zm4 7zm-1 1zm1 3zm0 3zm-4 5zm7 1zm-1 6zm0 6zm-2 3zm4 5zm-1 1zm-6 24zm0 0zm3 8zm3 4zm-2 1zm-5 26zm-3 36zm1 1zm3 50zm18-297zm-5 31zm2 2zm-6 13zm10 27zm-7 3zm-3 24zm1 1zm3 4zm1 3zm1 1zm3 3zm-10 3zm7 2zm-1 12zm-1 2zm-2 0zm0 1zm1 1zm2 2zm3 4zm-3 2zm1 2zm-2 2zm1 1zm-6 6zm10 0zm-7 1zm8 2zm-1 1zm-7 2zm4 3zm1 2zm-1 1zm-6 1zm-1 1zm6 3zm1 19zm-1 0zm0 2zm-2 13zm-4 2zm0 5zm3 1zm1 5zm4 2zm3 3zm-7 6zm-3 2zm2 10zm4 5zm2 22zm9-233zm3 2zm-4 23zm-5 8zm11 10zm-7 3zm-2 15zm1 3zm2 2zm4 2zm-9 1zm0 1zm4 1zm5 2zm-3 6zm-6 5zm2 8zm0 3zm-1 6zm5 8zm-2 1zm-2 8zm4 0zm5 4zm-4 2zm-3 1zm0 2zm2 0zm0 0zm4 6zm-10 9zm3 6zm2 1zm4 0zm-6 0zm7 2zm-5 1zm-5 7zm3 0zm8 4zm-5 8zm1 1zm-1 3zm2 3zm-8 4zm2 5zm-2 21zm17-242zm-2 37zm0 80zm-2 2zm0 4zm-1 12zm10 17zm-3 7zm-1 0zm2 15zm-3 5zm4 9zm-6 9zm8 13zm-3 13zm2 4zm3-220zm-1 82zm3 4zm-3 6zm1 6zm0 1zm7 2zm1 11zm-4 5zm6 8zm-11 5zm2 8zm4 4zm1 1zm-3 4zm7 2zm0 6zm-8 1zm3 3zm-3 2zm4 10zm1 2zm-1 5zm-1 8zm-1 13zm5 2zm-9 9zm5 1zm4 29zm-9 6zm18-186zm3 28zm-8 1zm4 33zm2 16zm1 6zm-6 18zm0 5zm-3 26zm6 78zm8-243zm4 63zm0 23zm-1 49zm3 3zm-6 5zm9 1zm-8 17zm5 1zm-8 9zm2 1zm-1 4zm2 7zm3 40zm3 11zm9-186zm-1 2zm1 5zm2 37zm-8 47zm0 95zm23-159zm-9 11zm4 52zm-1 34zm7-122zm2 20zm1 9zm0 21zm0 29zm8 20zm3-92zm18 7zm11 15zm-7 106zm20-72zm0 53zm10-98z"/>
</g>
<rect class="t" x="0" y="0" width="340.5" height="337.9"/>
<path class="t" d="M28.7 337.9v3.5M0 309.8h-3.5M99.5 337.9v3.5M0 239.3h-3.5M170.3 337.9v3.5M0 168.9h-3.5M241.0 337.9v3.5M0 98.5h-3.5M311.8 337.9v3.5M0 28.0h-3.5"/>
<text class="tl" x="28.7" y="357.6" text-anchor="middle">−5.0</text><text class="tl" x="-8.0" y="315.9" text-anchor="end">−5.0</text>
<text class="tl" x="99.5" y="357.6" text-anchor="middle">−2.5</text><text class="tl" x="-8.0" y="245.5" text-anchor="end">−2.5</text>
<text class="tl" x="170.3" y="357.6" text-anchor="middle">0.0</text><text class="tl" x="-8.0" y="175.1" text-anchor="end">0.0</text>
<text class="tl" x="241.0" y="357.6" text-anchor="middle">2.5</text><text class="tl" x="-8.0" y="104.7" text-anchor="end">2.5</text>
<text class="tl" x="311.8" y="357.6" text-anchor="middle">5.0</text><text class="tl" x="-8.0" y="34.2" text-anchor="end">5.0</text>
<text class="ti" x="170.0" y="-5.6" text-anchor="middle">1.1 Photons / Symbol</text>
<text class="al" x="170.0" y="379.4" text-anchor="middle">I Quadrature [SNU]</text>
<text class="al" transform="translate(-55 168.9) rotate(-90)" text-anchor="middle">Q Quadrature [SNU]</text>
<g transform="translate(271.3 6.0)"><rect x="0" y="0" width="62.4" height="94.7" rx="2.8" fill="#fff" fill-opacity=".8" stroke="#ccc" stroke-opacity=".8" stroke-width="1.1"/><text class="lt" x="31.2" y="16" text-anchor="middle">Symbol</text><circle cx="22.8" cy="31.3" r="6.15" fill="#1f77b4"/><text class="le" x="44.9" y="34.6">0</text><circle cx="22.8" cy="49.1" r="6.15" fill="#ff7f0e"/><text class="le" x="44.9" y="52.4">1</text><circle cx="22.8" cy="66.9" r="6.15" fill="#2ca02c"/><text class="le" x="44.9" y="70.2">2</text><circle cx="22.8" cy="84.7" r="6.15" fill="#d62728"/><text class="le" x="44.9" y="88.0">3</text></g>
</g>
<g transform="translate(1375.5 504.5)">
<path class="g" d="M28.9 0V337.9M0 309.8H340.5M99.7 0V337.9M0 239.3H340.5M170.4 0V337.9M0 168.9H340.5M241.2 0V337.9M0 98.5H340.5M312.0 0V337.9M0 28.0H340.5"/>
<g clip-path="url(#c)">
<path class="d" stroke="#1f77b4" transform="scale(.5)" style="stroke-width:6.8" d="M196 279zm-1 36zm14-36zm-4 30zm2 6zm1 28zm9-55zm3 22zm7 41zm-11 22zm0 7zm23-125zm-3 3zm-1 26zm2 35zm-7 19zm2 3zm-1 43zm4 17zm14-202zm-5 53zm4 69zm-4 12zm3 5zm0 23zm1 14zm-6 4zm7 8zm-9 8zm1 27zm14-192zm0 48zm2 16zm3 6zm-3 1zm-2 6zm-2 13zm8 4zm-3 5zm-4 21zm-1 4zm8 13zm2 0zm0 9zm-9 54zm4 8zm-1 16zm6 5zm11-257zm-1 81zm0 1zm1 11zm1 2zm-7 4zm-2 1zm1 0zm4 3zm-1 22zm-5 1zm8 4zm-8 4zm6 9zm-7 1zm3 2zm3 5zm5 11zm-7 1zm-1 17zm-1 3zm8 1zm-5 22zm-1 3zm10-141zm6 5zm-2 0zm-1 2zm-5 5zm5 30zm4 0zm-2 3zm-6 0zm2 5zm-1 19zm-2 2zm10 4zm-4 10zm2 2zm3 26zm-9 5zm9 4zm-10 5zm3 6zm12-195zm-2 17zm0 12zm3 13zm-3 15zm8 13zm-8 1zm-1 1zm5 6zm1 0zm0 2zm2 2zm-6 10zm-1 1zm2 4zm7 12zm-2 3zm-1 6zm3 5zm-8 2zm5 5zm3 3zm-7 7zm6 0zm-7 1zm5 1zm-2 6zm0 2zm-1 25zm0 2zm-5 3zm10 1zm1 9zm-11 2zm8 13zm-5 14zm8 27zm2-202zm6 4zm1 1zm3 4zm-7 14zm-3 17zm7 7zm-7 7zm2 1zm2 5zm0 3zm-1 9zm5 4zm-5 6zm-2 8zm8 2zm-4 6zm-1 2zm4 1zm-1 10zm-2 3zm5 12zm-11 4zm5 2zm-2 3zm7 24zm-10 0zm2 12zm13-179zm-2 4zm4 3zm-2 0zm6 10zm-6 0zm1 7zm5 12zm-4 9zm6 0zm0 5zm-11 7zm10 0zm-6 0zm-1 2zm3 11zm0 2zm-4 2zm7 5zm-2 1zm-7 2zm4 13zm-3 1zm3 1zm5 0zm1 3zm-6 7zm4 0zm-5 1zm5 0zm-5 0zm-3 2zm1 21zm7 0zm-6 10zm8 4zm-8 3zm5 10zm-5 1zm5 1zm2 11zm-7 1zm1 23zm-3 9zm8 3zm-5 9zm13-227zm1 6zm4 8zm-4 1zm1 11zm0 2zm-1 12zm-2 5zm1 2zm-4 1zm1 3zm6 1zm-1 11zm-1 5zm-4 4zm5 5zm0 0zm-2 1zm7 2zm-5 2zm-2 3zm4 4zm2 4zm-7 0zm2 0zm1 3zm3 3zm-9 2zm9 0zm-7 5zm2 2zm6 1zm-7 0zm4 5zm3 1zm1 2zm-9 8zm9 0zm-7 1zm-2 3zm2 2zm4 2zm-5 1zm7 3zm-7 1zm8 1zm-3 11zm-1 10zm-7 3zm11 2zm-6 13zm2 3zm-4 1zm2 19zm2 12zm-1 3zm-3 4zm-1 1zm20-305zm-3 37zm-7 12zm10 15zm1 4zm-8 11zm8 7zm-3 15zm-3 2zm-5 0zm10 6zm1 1zm-1 5zm0 2zm-8 3zm6 1zm-2 5zm-6 11zm1 5zm10 1zm-2 3zm-7 0zm9 11zm-4 0zm-2 1zm6 0zm0 4zm-8 5zm2 2zm-4 1zm3 0zm-3 0zm7 5zm-5 0zm-1 0zm5 2zm-7 4zm1 0zm3 3zm3 0zm-3 4zm2 0zm-2 2zm6 1zm-10 3zm11 5zm-9 1zm9 7zm0 2zm0 1zm-3 1zm3 1zm-9 0zm-2 8zm9 3zm2 4zm-10 0zm-1 1zm0 3zm8 3zm-3 8zm4 0zm-3 0zm-4 5zm7 3zm2 4zm-11 9zm6 3zm3 27zm-2 19zm-7 3zm8 45zm0 82zm4-390zm3 5zm-3 4zm6 10zm3 1zm-5 17zm5 4zm-8 7zm6 2zm-5 14zm-2 1zm6 1zm-1 4zm3 6zm-4 9zm-2 4zm0 2zm1 6zm3 2zm4 1zm-10 1zm6 2zm-1 3zm-4 1zm8 0zm1 1zm-3 0zm-3 1zm0 1zm1 1zm3 3zm-1 6zm3 1zm-8 0zm-1 7zm6 1zm-1 2zm2 3zm-5 4zm-3 3zm10 1zm-8 1zm3 0zm-2 1zm0 2zm7 3zm-10 1zm0 4zm3 4zm2 0zm3 2zm3 0zm-7 6zm5 4zm-6 14zm1 2zm5 1zm2 3zm-3 2zm3 23zm0 2zm0 6zm-9 7zm-2 4zm22-245zm-5 27zm-3 4zm-1 8zm9 8zm-3 9zm-1 4zm-2 8zm-2 14zm3 3zm6 3zm-6 13zm0 0zm-1 7zm-1 9zm-2 4zm1 1zm-2 1zm5 1zm1 2zm4 1zm1 1zm-7 3zm0 2zm5 4zm-2 1zm-4 4zm2 0zm-4 2zm3 1zm-4 1zm10 5zm-10 0zm6 3zm-3 0zm-2 3zm8 0zm-6 1zm1 2zm2 4zm3 2zm-9 0zm10 1zm-4 0zm-2 2zm1 2zm5 4zm-2 1zm-6 1zm9 0zm-2 4zm-4 0zm-2 6zm-3 1zm0 2zm11 5zm-3 4zm2 8zm-8 3zm7 3zm-2 1zm0 2zm4 0zm-10 3zm3 0zm-2 25zm5 2zm-6 2zm0 4zm3 14zm2 74zm7-362zm0 36zm1 2zm-1 4zm9 17zm-9 11zm10 7zm-2 1zm-4 7zm-2 9zm1 5zm-3 1zm5 4zm-6 0zm4 1zm4 3zm-4 5zm6 1zm1 5zm-7 1zm-3 5zm0 10zm-1 1zm9 5zm-1 0zm-1 1zm0 0zm0 3zm-3 1zm2 4zm0 1zm0 10zm-2 3zm-2 2zm2 0zm-4 1zm11 0zm-2 1zm-8 0zm5 1zm-1 1zm3 2zm0 1zm-3 1zm6 1zm-3 2zm-7 9zm1 1zm0 7zm4 3zm2 2zm3 1zm-7 1zm-1 8zm-2 13zm3 14zm-1 25zm-3 11zm15-238zm-1 16zm-2 10zm6 6zm-6 1zm10 4zm-1 3zm-6 9zm6 8zm-3 0zm5 5zm-11 14zm8 5zm1 3zm-8 9zm3 0zm3 2zm-4 1zm-3 2zm2 7zm0 1zm7 3zm-1 6zm3 0zm-2 5zm-2 1zm-5 1zm9 0zm0 3zm-3 1zm-8 1zm6 5zm3 1zm0 1zm-2 2zm-1 6zm-6 6zm10 0zm-7 3zm-2 0zm0 4zm10 1zm-3 0zm-8 2zm7 4zm-3 1zm-2 1zm0 3zm9 1zm-2 11zm-9 9zm10 2zm-9 1zm8 3zm-3 0zm4 31zm-3 17zm12-245zm0 13zm1 0zm1 12zm-8 1zm5 10zm0 7zm-5 1zm10 1zm-9 7zm9 10zm-11 6zm8 4zm-6 2zm8 4zm-4 3zm-5 1zm9 4zm-6 6zm3 3zm1 7zm-8 8zm6 3zm2 6zm-6 5zm7 2zm-8 5zm6 3zm4 7zm-1 0zm-4 0zm4 2zm-4 1zm0 2zm1 1zm3 1zm-9 1zm5 2zm-5 3zm1 3zm-1 4zm0 2zm7 10zm-7 16zm0 1zm3 3zm5 0zm-4 1zm1 0zm-1 2zm4 0zm-2 7zm-6 4zm5 5zm-2 2zm2 0zm-5 5zm7 9zm13-212zm-1 1zm-6 10zm4 11zm2 31zm-4 0zm-1 9zm4 7zm-6 3zm-1 3zm2 0zm-2 1zm11 1zm-4 4zm-6 8zm1 0zm5 1zm-2 5zm2 9zm2 3zm-3 1zm-2 2zm2 10zm-6 1zm2 2zm8 1zm-4 2zm-2 0zm2 13zm-6 4zm0 0zm4 22zm7 7zm-3 3zm-7 5zm6 6zm1 8zm-5 0zm2 35zm10-215zm3 1zm-4 24zm7 10zm-8 2zm7 28zm-2 4zm2 1zm-2 9zm1 5zm-2 0zm6 6zm-6 1zm-5 1zm7 5zm1 9zm-1 0zm-5 1zm9 9zm-7 6zm6 6zm-2 0zm-5 27zm4 17zm3 10zm2-158zm8 4zm0 5zm-7 3zm2 14zm-2 2zm5 8zm5 7zm-11 5zm6 2zm-2 10zm7 16zm-6 9zm4 4zm-6 0zm5 11zm0 1zm-6 4zm4 5zm-5 1zm2 8zm-2 6zm3 5zm5 45zm3-162zm4 23zm2 18zm-2 1zm-4 16zm3 1zm1 1zm1 1zm4 7zm-8 3zm8 6zm-1 7zm2 13zm0 39zm1 8zm-6 16zm15-202zm3 20zm-5 6zm-5 16zm3 18zm5 5zm-6 1zm6 15zm-6 8zm8 8zm-10 8zm3 17zm2 43zm-5 8zm2 32zm11-158zm-2 17zm1 6zm5 4zm-5 14zm4 5zm2 1zm0 12zm-5 11zm9 26zm-6 2zm1 18zm-6 6zm8 16zm9-157zm3 82zm-6 28zm17-101zm-7 76zm10 27zm6-29zm1 16zm9 3zm34-140z"/>
<path class="d" stroke="#ff7f0e" transform="scale(.5)" style="stroke-width:6.8" d="M155 345zm32-37zm-7 21zm20-58zm0 21zm3 14zm-5 32zm1 28zm3 7zm-1 0zm3-89zm6 39zm-3 13zm7 4zm0 24zm12-143zm-8 49zm3 3zm5 14zm-1 4zm-6 11zm6 7zm0 26zm-9 4zm10 14zm0 2zm1 50zm1-146zm0 9zm11 19zm-5 16zm5 5zm-8 1zm8 0zm-1 2zm1 12zm-9 4zm7 17zm-7 3zm4 1zm-1 2zm7-127zm2 10zm9 14zm-5 2zm-4 1zm9 18zm-2 2zm1 6zm-7 17zm7 1zm-9 1zm10 2zm-9 1zm2 9zm2 6zm2 13zm0 2zm-5 4zm-1 9zm-2 3zm3 12zm-2 22zm0 5zm10 24zm-9 57zm16-219zm-1 5zm5 7zm-2 15zm3 8zm-4 4zm2 0zm2 1zm-11 5zm8 2zm-8 2zm5 6zm-4 3zm6 3zm-3 14zm5 0zm-1 2zm1 1zm-1 0zm-2 3zm4 8zm0 5zm0 1zm-1 0zm-3 5zm1 8zm-1 2zm3 1zm-6 3zm6 3zm-5 3zm-3 7zm0 14zm3 32zm-1 8zm19-211zm-3 5zm-3 23zm2 7zm5 34zm0 3zm-3 10zm0 0zm2 5zm-8 3zm1 4zm8 6zm-9 3zm4 5zm-5 4zm8 4zm-6 2zm5 7zm-6 2zm2 0zm-4 1zm7 4zm1 15zm-6 7zm7 4zm-5 7zm2 1zm2 13zm-5 0zm3 15zm-4 5zm-2 3zm7 1zm-7 8zm8 7zm3 11zm-8 10zm9-218zm3 1zm0 2zm-1 5zm1 5zm8 9zm-3 1zm-7 1zm2 9zm-1 0zm8 2zm-10 4zm10 5zm-2 1zm-8 2zm5 1zm-3 1zm1 11zm-2 7zm1 3zm-1 6zm1 0zm9 2zm-7 0zm0 1zm2 6zm-4 2zm7 5zm-8 4zm9 4zm-7 0zm-3 1zm6 4zm-6 0zm11 5zm-3 1zm2 2zm-6 4zm5 1zm-7 2zm0 3zm0 3zm2 6zm-1 0zm1 7zm0 10zm1 2zm-3 4zm9 35zm10-229zm-7 11zm2 28zm4 5zm-7 23zm6 3zm-2 1zm0 0zm6 3zm-7 3zm5 12zm-4 1zm-1 1zm-1 2zm4 1zm-2 0zm6 2zm-10 1zm4 1zm4 1zm0 1zm-7 0zm-1 3zm1 0zm6 0zm-7 3zm5 8zm-5 3zm7 3zm0 5zm-8 1zm10 0zm-3 1zm-5 4zm0 0zm4 0zm1 14zm-3 4zm6 2zm-8 6zm7 2zm-5 0zm1 3zm-1 1zm5 3zm-1 0zm-8 0zm5 2zm-1 5zm-3 2zm7 0zm0 0zm-5 7zm5 1zm1 1zm-5 3zm2 1zm-3 1zm-1 2zm-2 0zm10 9zm-6 9zm6 11zm-4 0zm-2 17zm15-201zm2 3zm-3 12zm3 2zm-4 1zm1 2zm5 0zm0 1zm-8 8zm-3 6zm11 2zm-5 1zm-1 4zm-1 8zm4 3zm1 3zm-2 1zm-7 2zm3 0zm-1 5zm-2 3zm0 2zm4 3zm6 5zm0 0zm-3 4zm-7 3zm4 1zm2 3zm-1 3zm3 3zm-2 2zm5 7zm-4 0zm0 3zm-7 2zm3 2zm1 1zm-1 0zm-1 4zm3 4zm-4 4zm6 2zm3 11zm-4 10zm-3 6zm8 0zm-8 1zm4 2zm-4 7zm-3 4zm3 7zm2 1zm1 23zm3 10zm3-230zm4 4zm-2 10zm0 0zm5 18zm1 5zm3 3zm-11 2zm0 3zm10 5zm1 2zm-7 5zm-4 4zm1 3zm3 7zm-4 5zm11 4zm0 0zm-9 3zm5 1zm4 2zm0 6zm-4 2zm4 2zm-3 1zm1 0zm2 3zm-7 0zm-1 4zm4 3zm1 1zm2 1zm-10 1zm9 0zm-7 2zm0 0zm1 0zm4 0zm1 5zm-6 1zm7 7zm-9 0zm10 1zm1 0zm-2 1zm-1 0zm-5 0zm3 1zm0 3zm3 2zm-8 2zm5 1zm0 4zm-5 2zm7 6zm-4 4zm1 1zm6 2zm-1 2zm-10 2zm11 0zm-10 6zm5 4zm-5 12zm3 10zm-2 1zm8 3zm1 4zm-3 6zm3 3zm-3 3zm-6 5zm-1 6zm8 11zm4-240zm9 12zm-5 18zm1 2zm-6 0zm4 4zm6 11zm-7 2zm-3 6zm3 3zm7 20zm-5 3zm1 1zm-2 2zm0 0zm1 3zm-2 3zm5 2zm1 1zm-9 0zm2 5zm0 1zm5 3zm0 3zm-2 0zm-3 1zm-1 0zm8 1zm-7 2zm-2 1zm10 2zm-8 12zm5 4zm1 1zm2 2zm0 4zm1 1zm0 2zm-1 1zm1 1zm-1 5zm-8 1zm3 3zm5 4zm-2 3zm-7 2zm8 7zm-1 3zm0 2zm-6 3zm9 10zm-9 7zm3 3zm6 20zm-2 10zm1 6zm-8 40zm10-281zm4 10zm7 16zm-4 10zm1 2zm-6 16zm0 0zm5 3zm4 6zm-8 7zm3 5zm1 9zm1 0zm-1 1zm3 13zm0 2zm-9 1zm6 3zm2 1zm-5 0zm5 4zm0 2zm-1 7zm-6 3zm5 3zm-4 2zm4 1zm4 1zm-1 3zm-6 2zm1 0zm-5 3zm5 0zm2 1zm4 1zm-3 0zm0 0zm-8 3zm9 3zm-3 1zm5 2zm-8 0zm-2 0zm8 4zm-5 3zm6 4zm-5 1zm-3 2zm6 1zm-3 0zm0 1zm6 3zm-3 2zm3 0zm-1 4zm-7 1zm6 1zm-5 4zm3 15zm-4 0zm5 1zm1 0zm-3 3zm3 0zm-3 3zm-3 1zm-3 3zm10 13zm0 5zm-5 4zm10-208zm-3 13zm5 11zm6 3zm-6 12zm5 7zm1 11zm-5 0zm-3 4zm0 1zm-1 19zm7 1zm-9 1zm4 6zm4 4zm2 0zm-3 8zm3 0zm-6 2zm-2 1zm3 2zm3 1zm-5 3zm-3 2zm6 6zm-4 1zm-1 2zm6 6zm-7 6zm6 3zm4 2zm-5 0zm0 2zm-4 6zm3 3zm-2 0zm0 3zm7 1zm-1 2zm-8 4zm8 3zm0 2zm-1 1zm-6 0zm7 4zm2 19zm-5 4zm4 12zm-8 25zm3 14zm0 6zm0 12zm5 20zm14-284zm-6 6zm2 21zm-2 0zm5 40zm-4 2zm-2 0zm-4 4zm5 3zm-5 3zm5 1zm-4 3zm9 4zm-5 0zm2 7zm-5 0zm7 17zm1 3zm-5 4zm3 1zm-2 2zm2 2zm-2 1zm-6 1zm9 3zm-4 3zm4 1zm0 1zm-4 0zm-3 0zm6 7zm-4 1zm6 3zm-3 5zm-6 3zm0 7zm8 4zm-5 0zm3 12zm4 0zm-2 8zm-8 19zm1 7zm-1 2zm5 1zm-1 5zm8-250zm10 13zm0 26zm-11 38zm3 15zm1 4zm5 1zm-9 1zm2 2zm7 5zm-4 5zm-2 1zm-3 5zm10 2zm-4 3zm-4 2zm-1 1zm0 6zm7 11zm-1 1zm-2 1zm6 2zm-5 1zm-3 1zm0 2zm3 3zm-3 5zm7 0zm-4 1zm2 7zm-7 1zm0 2zm5 2zm2 4zm-3 2zm1 2zm2 8zm-1 2zm-1 20zm-1 0zm5 14zm-10 4zm9 5zm-2 11zm10-174zm-5 12zm0 10zm0 6zm11 7zm-11 13zm6 2zm3 2zm1 4zm-3 7zm3 4zm-1 7zm-3 12zm0 2zm-2 6zm3 3zm-5 11zm1 2zm1 2zm5 2zm-5 3zm1 2zm5 7zm-3 2zm-1 1zm-2 1zm-2 1zm1 1zm2 4zm-1 9zm-2 3zm9 6zm0 13zm-1 1zm-7 4zm-3 3zm12-201zm6 3zm0 29zm-3 7zm-3 1zm5 28zm1 0zm5 26zm-11 1zm7 1zm-2 0zm-2 0zm7 2zm-10 11zm7 1zm-7 5zm8 0zm-1 2zm1 5zm2 24zm-3 7zm-2 3zm2 19zm0 1zm-4 3zm0 6zm8 17zm-2 4zm-4 6zm5 22zm12-254zm-2 24zm3 9zm-8 38zm5 10zm-8 12zm11 0zm-8 4zm5 7zm-8 16zm10 3zm1 0zm-1 9zm0 6zm-10 8zm9 4zm-9 0zm11 6zm-8 6zm7 1zm-9 5zm6 9zm2 2zm-3 5zm-3 9zm8 7zm0 14zm3-140zm0 0zm4 12zm-3 4zm1 12zm-3 69zm2 42zm-2 41zm15-195zm4 19zm-4 13zm-1 7zm7 4zm0 16zm-9 0zm8 7zm-2 29zm0 5zm3 39zm2-224zm6 68zm-3 40zm-2 56zm8 18zm-9 2zm5 8zm-2 14zm3 0zm6-120zm13 99zm1 43zm18-94zm-6 21zm-2 23zm12-36zm8 37zm9 9z"/>
<path class="d" stroke="#2ca02c" transform="scale(.5)" style="stroke-width:6.8" d="M113 223zm30 203zm5-83zm22-140zm-1 76zm8 56zm-5 20zm-3 13zm8 34zm4-48zm1 36zm5 3zm4 13zm9-152zm-5 35zm0 1zm-2 19zm-1 10zm8 20zm-6 42zm17-77zm-5 28zm8 7zm-4 1zm-6 38zm10 6zm-10 6zm21-130zm-4 48zm6 44zm-7 1zm-1 12zm1 2zm7 4zm-7 7zm1 54zm2 4zm-2 9zm1 13zm17-227zm-9 22zm0 20zm2 30zm4 19zm2 4zm-3 13zm-1 11zm3 1zm0 8zm-9 5zm9 9zm-4 2zm-5 2zm4 6zm-4 16zm11 2zm-11 11zm3 5zm12-136zm3 8zm3 25zm-7 1zm2 15zm-1 10zm2 9zm-4 8zm10 1zm-3 3zm1 11zm0 5zm-1 5zm1 16zm-3 7zm-4 14zm8 35zm-2 13zm4-258zm7 79zm-5 10zm8 6zm0 1zm-3 6zm-2 9zm6 0zm-3 4zm-2 1zm4 4zm-4 5zm0 6zm4 3zm-1 3zm-3 0zm-1 2zm2 2zm0 5zm-4 22zm0 5zm8 1zm-10 8zm-1 16zm4 15zm0 5zm3 9zm-2 77zm14-355zm-2 99zm4 4zm-3 6zm5 3zm-1 14zm-8 10zm1 5zm8 5zm0 1zm-7 1zm-1 3zm3 4zm-1 3zm2 3zm2 7zm-3 1zm0 1zm0 2zm-6 3zm7 6zm3 2zm-6 2zm6 1zm-9 4zm3 4zm-2 6zm9 6zm-10 2zm-1 2zm0 1zm10 1zm-9 1zm6 8zm-3 0zm5 1zm-4 7zm0 16zm5 14zm-5 3zm-5 6zm4 4zm0 5zm4 12zm8-215zm4 23zm-8 6zm11 6zm0 13zm-6 14zm-5 9zm10 6zm1 0zm-2 4zm-9 6zm5 1zm3 0zm-1 2zm-2 2zm-2 3zm2 2zm4 3zm-8 4zm6 2zm-1 1zm2 1zm-4 1zm6 2zm-5 3zm-5 2zm0 3zm6 0zm2 7zm3 2zm-1 4zm0 9zm-3 4zm0 7zm3 2zm-7 1zm6 0zm-4 7zm-5 0zm4 6zm6 4zm-1 3zm-6 2zm-1 17zm6 5zm1 8zm-4 2zm12-226zm-3 10zm1 35zm0 0zm4 14zm4 3zm-8 2zm1 1zm-3 7zm7 0zm1 5zm-2 6zm-2 2zm1 4zm0 1zm-5 0zm9 7zm-3 2zm3 9zm0 1zm0 1zm-9 1zm10 3zm-11 5zm1 6zm9 2zm-10 3zm5 1zm-4 2zm1 1zm3 2zm-3 4zm-2 2zm4 2zm2 1zm-2 7zm6 1zm-4 5zm-1 5zm-1 4zm6 3zm-8 1zm9 1zm-11 5zm0 2zm1 6zm9 2zm-9 1zm10 8zm-3 5zm3 11zm-8 1zm8 9zm-11 12zm10 1zm-5 6zm-1 23zm-2 21zm17-248zm-6 8zm5 11zm1 2zm1 3zm3 2zm0 9zm-4 1zm-6 1zm9 1zm-2 2zm-3 3zm-2 4zm8 4zm-8 2zm-3 5zm11 4zm-6 2zm3 1zm-7 0zm8 1zm1 3zm-1 5zm-1 0zm-4 5zm7 2zm-4 3zm-6 4zm1 3zm2 0zm7 1zm-3 0zm3 1zm-9 1zm0 0zm6 5zm-3 0zm-1 0zm5 5zm-7 1zm0 1zm-2 3zm0 1zm2 5zm1 1zm-1 3zm7 0zm-3 0zm4 1zm-4 12zm2 3zm0 0zm2 2zm-9 4zm-1 4zm6 3zm-4 1zm5 7zm-7 2zm4 4zm-2 1zm-2 3zm7 1zm2 4zm-4 5zm-1 10zm4 16zm-3 2zm0 20zm-4 0zm14-258zm3 5zm-2 4zm5 30zm1 2zm-10 10zm0 14zm9 7zm-6 1zm2 6zm2 3zm4 0zm-7 3zm3 4zm1 1zm-4 1zm7 1zm-11 2zm8 1zm0 0zm-1 3zm3 0zm-3 1zm-5 0zm-1 0zm5 8zm5 2zm-7 3zm0 2zm7 0zm-1 2zm-2 5zm-5 1zm2 6zm-3 1zm-1 0zm4 1zm-2 3zm7 6zm-6 3zm-4 2zm1 3zm10 7zm-7 4zm-4 6zm7 4zm-3 5zm4 11zm-6 0zm0 6zm3 3zm2 1zm4 1zm-6 6zm1 3zm1 1zm1 3zm0 5zm-7 17zm2 9zm-2 20zm5 1zm-2 2zm3 5zm16-220zm-10 2zm3 1zm7 2zm-7 1zm5 13zm-5 9zm-3 7zm7 0zm-6 2zm1 10zm-3 0zm6 5zm-5 3zm10 6zm-5 5zm-3 1zm2 0zm-3 2zm4 1zm-3 2zm7 1zm-10 1zm6 0zm3 0zm-5 1zm1 3zm-3 2zm7 2zm-1 0zm3 10zm-8 3zm-3 1zm4 4zm5 0zm-7 1zm0 2zm9 3zm-5 2zm2 5zm-8 0zm1 0zm7 2zm0 2zm-2 1zm-4 0zm4 3zm3 0zm0 4zm1 0zm0 3zm-2 2zm-5 1zm7 4zm-7 1zm1 7zm-1 0zm8 4zm-4 1zm1 19zm3 2zm-5 2zm2 6zm4-232zm1 44zm8 24zm-9 9zm0 6zm1 2zm9 4zm-5 2zm5 3zm-7 1zm-3 10zm5 9zm-3 1zm-2 1zm10 5zm-4 2zm-6 3zm0 0zm1 8zm6 6zm-4 2zm2 2zm6 2zm-6 2zm4 3zm-5 4zm-2 1zm5 1zm-3 1zm1 2zm0 5zm-2 0zm-1 3zm1 1zm0 1zm8 1zm0 3zm-2 11zm-1 4zm3 1zm-5 1zm-4 3zm4 4zm-2 5zm-4 12zm9 3zm-6 4zm6 6zm-2 8zm-3 23zm16-211zm1 5zm-5 10zm-4 1zm3 14zm-2 2zm-1 8zm6 1zm5 0zm-7 7zm6 5zm-9 1zm5 3zm0 1zm-4 2zm5 7zm0 4zm-2 1zm4 7zm-8 6zm5 1zm-4 1zm5 1zm-5 1zm0 1zm6 2zm-5 3zm5 2zm-2 8zm-5 2zm9 3zm-6 6zm-1 5zm8 0zm-6 1zm-4 1zm1 4zm3 4zm5 1zm-5 5zm-2 8zm8 3zm-7 25zm3 1zm0 2zm-6 13zm-1 3zm8 20zm10-244zm-1 51zm-1 10zm7 0zm-10 2zm9 1zm-6 3zm-4 2zm3 2zm1 3zm-3 8zm9 7zm-9 1zm6 2zm3 1zm0 1zm0 5zm-6 1zm-1 0zm0 3zm1 1zm-1 0zm8 2zm-7 4zm-4 3zm5 9zm2 0zm0 0zm-6 5zm2 5zm3 3zm0 2zm5 0zm-10 5zm1 2zm0 1zm0 1zm4 2zm-6 2zm7 3zm4 1zm-2 0zm2 3zm0 4zm-3 0zm1 8zm0 5zm2 13zm-9 9zm2 11zm2 20zm3 51zm11-275zm-7 15zm10 2zm-3 0zm0 2zm2 28zm-5 16zm5 6zm-3 0zm3 1zm-2 3zm-2 1zm-3 7zm0 4zm4 4zm4 1zm0 1zm-5 14zm5 2zm-7 3zm1 2zm5 2zm0 6zm-3 2zm0 1zm3 1zm-10 3zm6 4zm-6 1zm5 1zm2 5zm-6 4zm10 3zm-10 10zm6 2zm-2 8zm1 5zm1 2zm-7 29zm4 13zm2 1zm2 1zm-4 0zm6 32zm13-217zm-9 3zm-2 16zm4 8zm-1 4zm6 8zm-8 10zm4 13zm6 0zm0 10zm-4 4zm1 8zm2 2zm-3 8zm-6 1zm-1 3zm5 2zm3 3zm3 8zm-3 6zm-5 4zm0 2zm-1 3zm1 1zm-2 2zm9 5zm-9 1zm7 2zm-3 9zm2 12zm3 0zm-3 3zm-5 0zm7 5zm-9 14zm23-221zm-2 47zm-3 2zm2 12zm-8 4zm11 18zm-6 4zm0 4zm1 2zm4 0zm-9 0zm0 7zm6 5zm-4 2zm-3 3zm11 2zm-1 0zm-5 1zm-5 7zm4 3zm7 10zm-9 4zm0 15zm4 4zm0 2zm-5 6zm1 1zm5 2zm0 6zm-7 6zm11 61zm6-185zm5 14zm-3 20zm1 3zm0 18zm-5 0zm7 12zm1 4zm-1 3zm1 1zm0 0zm-8 18zm5 7zm3 0zm-1 1zm-2 15zm-8 10zm2 2zm-1 17zm4 24zm7-156zm11 9zm-10 15zm7 8zm0 1zm-1 5zm0 8zm2 0zm-9 3zm0 1zm3 7zm-2 1zm1 18zm9 7zm-10 4zm4 25zm2 4zm4 3zm-10 11zm7 18zm-7 23zm14-171zm0 18zm3 60zm0 0zm-4 5zm-1 9zm2 6zm0 3zm-3 18zm4 144zm18-275zm0 6zm-1 7zm-5 25zm0 17zm-2 12zm7 11zm-9 12zm8 20zm-8 10zm18-103zm-6 1zm0 48zm1 9zm0 11zm10 26zm-10 8zm3 40zm-2 7zm19-122zm-5 82zm13-124zm-5 18zm9 8zm-4 130zm39 36z"/>
<path class="d" stroke="#d62728" transform="scale(.5)" style="stroke-width:6.8" d="M143 412zm4-154zm42 156zm4-55zm1 82zm21-146zm0 108zm12-169zm-2 2zm-4 39zm1 50zm0 49zm-2 4zm1 63zm18-181zm-9 2zm1 9zm2 21zm-3 4zm3 15zm-1 8zm1 1zm5 10zm-2 0zm1 6zm-2 6zm-5 1zm3 31zm-3 1zm15-135zm5 4zm-7 10zm-2 35zm8 2zm-1 24zm3 26zm-8 12zm7 7zm-8 4zm1 13zm-1 1zm7 22zm-6 2zm4 15zm7-155zm5 4zm0 13zm-5 24zm4 11zm4 6zm-5 0zm1 4zm-4 15zm-2 2zm8 11zm-2 3zm-5 6zm6 18zm-2 8zm-4 10zm3 27zm-3 6zm10 9zm-1 4zm-9 36zm13-226zm4 6zm1 32zm-7 7zm2 5zm3 10zm6 16zm-9 11zm6 1zm2 8zm-3 1zm-1 1zm2 7zm-4 7zm2 6zm2 4zm1 2zm-5 5zm1 4zm2 10zm4 1zm-1 38zm-10 4zm5 4zm18-200zm-4 34zm-4 10zm2 22zm3 5zm3 1zm-3 1zm-4 3zm0 5zm-3 5zm10 6zm-8 2zm-1 21zm-1 6zm3 4zm0 12zm1 2zm6 4zm-3 32zm-1 13zm-3 46zm9-248zm9 12zm-8 19zm2 9zm2 9zm-1 9zm3 3zm-4 1zm5 3zm0 1zm-8 3zm8 5zm1 2zm-4 15zm2 0zm-5 13zm6 0zm-9 3zm1 2zm7 5zm-8 10zm8 2zm3 8zm-1 0zm1 2zm-5 3zm5 4zm-11 14zm1 6zm3 6zm7 2zm-3 13zm-1 3zm3 1zm-1 0zm-1 25zm0 37zm15-270zm-2 35zm-5 25zm5 19zm1 1zm-3 5zm-4 7zm4 3zm-3 6zm-2 0zm9 4zm-6 1zm-3 1zm9 1zm-2 8zm-4 15zm-2 5zm8 11zm-9 1zm1 0zm5 8zm-3 13zm-3 13zm3 5zm1 0zm0 1zm-2 5zm7 5zm-11 1zm8 9zm-1 3zm1 3zm-1 1zm-6 3zm0 1zm5 18zm-3 10zm11-247zm1 13zm2 8zm3 14zm-1 7zm-2 7zm-1 10zm-2 3zm1 1zm4 2zm-2 3zm2 18zm-7 0zm10 2zm-9 5zm10 10zm-1 2zm-8 0zm3 1zm4 1zm-5 1zm2 9zm5 4zm-10 4zm4 3zm1 2zm2 2zm3 0zm-9 3zm0 1zm9 3zm-8 1zm1 1zm7 1zm-6 0zm2 6zm2 4zm-2 1zm-6 11zm9 0zm-3 4zm-6 1zm2 0zm-3 7zm8 1zm3 0zm-6 5zm4 0zm-5 1zm7 4zm-5 2zm1 5zm-6 5zm2 1zm8 2zm0 15zm-9 5zm4 13zm-3 0zm1 5zm6 1zm6-255zm-4 64zm11 4zm-1 3zm-4 22zm-6 0zm10 5zm1 1zm-4 2zm-7 4zm7 1zm-5 2zm5 1zm1 9zm-7 9zm2 1zm7 1zm-3 1zm-7 2zm7 1zm1 2zm-3 0zm5 1zm-10 1zm5 2zm1 1zm-2 2zm7 2zm-5 8zm-1 2zm3 1zm-4 1zm0 2zm4 4zm0 1zm-3 3zm2 11zm-4 3zm5 1zm-5 6zm6 9zm2 2zm0 1zm-10 5zm6 6zm-6 1zm0 0zm9 2zm0 1zm-5 2zm-3 5zm-1 5zm3 2zm-4 17zm8 9zm15-219zm-3 19zm-7 19zm6 6zm-2 2zm-5 5zm2 7zm4 1zm-1 1zm-2 0zm8 3zm-8 5zm4 1zm0 1zm-3 0zm7 1zm-8 3zm0 10zm7 2zm-1 3zm-2 4zm1 2zm-1 1zm-5 1zm0 0zm-2 3zm0 2zm5 1zm6 6zm-2 1zm-2 5zm0 2zm-5 1zm6 2zm-4 2zm0 4zm6 4zm0 0zm-4 8zm-3 3zm3 1zm0 0zm-3 1zm-2 0zm3 1zm2 7zm-4 1zm8 2zm0 5zm-2 3zm0 1zm-3 3zm4 8zm0 2zm-9 2zm11 9zm-9 3zm0 1zm-2 1zm2 1zm2 2zm6 5zm-7 2zm1 26zm2 1zm2 1zm9-198zm-5 3zm1 3zm7 0zm-7 4zm-1 10zm2 0zm7 20zm-6 1zm3 3zm4 0zm-7 4zm6 3zm1 1zm0 0zm-5 3zm2 3zm-4 3zm-3 2zm9 3zm-9 1zm3 0zm1 1zm3 0zm3 5zm-5 4zm-5 6zm10 0zm-2 0zm3 1zm-8 0zm4 3zm-7 0zm7 8zm-5 1zm4 0zm0 2zm-3 2zm0 2zm6 12zm0 2zm-3 4zm-6 1zm2 0zm-1 4zm1 9zm-2 0zm5 5zm2 5zm-3 6zm-3 7zm7 6zm2 9zm-3 17zm-1 2zm14-205zm-7 12zm1 3zm7 4zm-1 8zm2 0zm-10 22zm11 2zm-5 1zm0 5zm-1 0zm2 3zm1 4zm1 15zm-2 1zm0 1zm2 3zm-8 3zm5 6zm2 4zm-1 4zm4 0zm-7 1zm7 0zm0 8zm-7 3zm-1 3zm4 2zm-1 0zm-3 5zm-3 1zm7 2zm-1 0zm-4 3zm8 2zm-6 1zm6 4zm-9 0zm8 5zm0 0zm-8 1zm5 5zm0 4zm-6 0zm4 8zm7 5zm-5 2zm-1 1zm1 4zm3 58zm-2 1zm4 11zm8-237zm4 6zm-6 2zm6 2zm-11 13zm4 3zm-4 3zm11 12zm-2 7zm-3 1zm4 3zm0 5zm1 3zm-9 0zm4 0zm1 5zm-1 6zm-2 5zm0 2zm6 1zm-6 5zm6 1zm-2 1zm-8 0zm4 3zm-4 3zm8 12zm-2 0zm-5 1zm3 2zm7 1zm-9 2zm9 3zm-4 0zm-7 0zm5 1zm3 2zm-2 2zm-2 1zm-4 2zm10 1zm-8 3zm1 1zm4 0zm-5 2zm-2 6zm3 3zm-3 2zm0 2zm4 4zm-1 4zm-3 2zm5 0zm-3 6zm-1 12zm6 2zm0 5zm4 10zm-5 2zm7-214zm5 26zm0 13zm-5 0zm1 4zm4 10zm-5 10zm10 6zm-9 1zm-2 3zm1 0zm0 2zm-1 4zm6 4zm-3 3zm1 3zm-2 2zm0 10zm9 2zm-2 2zm-8 2zm8 2zm0 2zm-4 5zm-1 0zm-2 6zm9 3zm-6 2zm2 4zm4 6zm-2 1zm-8 1zm2 3zm-3 0zm3 1zm5 5zm-7 1zm10 6zm-3 2zm-3 6zm-3 0zm7 2zm-6 11zm4 3zm4 0zm-6 2zm4 13zm-5 0zm-4 13zm2 0zm-2 5zm8 5zm1 20zm-6 16zm19-272zm0 46zm-7 7zm5 3zm-2 4zm1 18zm-7 1zm2 5zm7 0zm-3 1zm-6 4zm9 0zm-8 2zm3 7zm-4 1zm8 5zm-4 1zm6 6zm-5 1zm-1 1zm-4 6zm8 2zm0 0zm-6 3zm-2 9zm0 7zm8 1zm1 4zm1 4zm-7 1zm1 1zm6 7zm-5 4zm-4 0zm3 1zm1 2zm4 0zm-2 2zm3 5zm-10 6zm11 3zm-2 2zm-7 0zm9 3zm-3 12zm-7 2zm7 1zm3 5zm-11 6zm0 8zm0 6zm9 2zm0 3zm-8 6zm0 12zm14-211zm2 6zm2 13zm-2 2zm-3 10zm9 3zm-5 6zm-4 5zm-2 14zm10 0zm-10 1zm2 1zm-1 10zm9 0zm1 8zm-9 0zm6 3zm-3 7zm3 4zm-6 2zm7 0zm-4 3zm2 1zm-3 5zm2 8zm-1 7zm-4 11zm2 1zm2 2zm-3 1zm6 9zm-8 4zm11 3zm-9 4zm0 6zm2 5zm4 10zm-3 0zm-5 27zm0 59zm17-273zm-5 33zm9 14zm-4 5zm4 0zm-4 1zm4 32zm-8 15zm2 7zm-1 3zm2 2zm5 5zm-8 2zm7 4zm-3 0zm-4 6zm9 2zm-3 6zm1 2zm-5 10zm3 0zm-3 1zm1 10zm-2 1zm9 3zm-2 0zm-4 55zm-3 22zm19-241zm-2 29zm-7 9zm10 32zm-7 1zm-2 3zm8 5zm2 6zm-4 2zm2 3zm-4 5zm5 0zm1 1zm-5 13zm-4 19zm6 7zm-6 0zm-2 5zm8 5zm-1 7zm-4 25zm6 2zm-1 1zm10-163zm-1 23zm3 27zm0 17zm0 5zm-7 15zm-1 9zm9 2zm1 0zm-10 10zm9 12zm-5 33zm2 5zm-4 25zm9 38zm6-303zm-4 57zm5 57zm-3 1zm5 9zm-1 3zm2 7zm-5 1zm-2 18zm8 9zm-10 15zm1 10zm8 25zm-7 8zm3 11zm-5 7zm4 19zm8-182zm10 23zm1 1zm-5 47zm-2 8zm7 4zm-4 133zm5-201zm11 58zm-1 68zm0 10zm-7 50zm13-71zm16-25zm-6 25zm7 40zm4-112zm7 10zm-6 1zm16 70zm-1 53zm43 6z"/>
</g>
<rect class="t" x="0" y="0" width="340.5" height="337.9"/>
<path class="t" d="M28.9 337.9v3.5M0 309.8h-3.5M99.7 337.9v3.5M0 239.3h-3.5M170.4 337.9v3.5M0 168.9h-3.5M241.2 337.9v3.5M0 98.5h-3.5M312.0 337.9v3.5M0 28.0h-3.5"/>
<text class="tl" x="28.9" y="357.6" text-anchor="middle">−5.0</text><text class="tl" x="-8.0" y="315.9" text-anchor="end">−5.0</text>
<text class="tl" x="99.7" y="357.6" text-anchor="middle">−2.5</text><text class="tl" x="-8.0" y="245.5" text-anchor="end">−2.5</text>
<text class="tl" x="170.4" y="357.6" text-anchor="middle">0.0</text><text class="tl" x="-8.0" y="175.1" text-anchor="end">0.0</text>
<text class="tl" x="241.2" y="357.6" text-anchor="middle">2.5</text><text class="tl" x="-8.0" y="104.7" text-anchor="end">2.5</text>
<text class="tl" x="312.0" y="357.6" text-anchor="middle">5.0</text><text class="tl" x="-8.0" y="34.2" text-anchor="end">5.0</text>
<text class="ti" x="170.0" y="-5.6" text-anchor="middle">0.3 Photons / Symbol</text>
<text class="al" x="170.0" y="379.4" text-anchor="middle">I Quadrature [SNU]</text>
<text class="al" transform="translate(-55 168.9) rotate(-90)" text-anchor="middle">Q Quadrature [SNU]</text>
<g transform="translate(271.3 6.0)"><rect x="0" y="0" width="62.4" height="94.7" rx="2.8" fill="#fff" fill-opacity=".8" stroke="#ccc" stroke-opacity=".8" stroke-width="1.1"/><text class="lt" x="31.2" y="16" text-anchor="middle">Symbol</text><circle cx="22.8" cy="31.3" r="6.15" fill="#1f77b4"/><text class="le" x="44.9" y="34.6">0</text><circle cx="22.8" cy="49.1" r="6.15" fill="#ff7f0e"/><text class="le" x="44.9" y="52.4">1</text><circle cx="22.8" cy="66.9" r="6.15" fill="#2ca02c"/><text class="le" x="44.9" y="70.2">2</text><circle cx="22.8" cy="84.7" r="6.15" fill="#d62728"/><text class="le" x="44.9" y="88.0">3</text></g>
</g>
<text class="s" y="460.9"><tspan x="838.6" style="font-size:35px">(</tspan><tspan x="850.3" textLength="17.2" lengthAdjust="spacingAndGlyphs" style="font-size:29.3px">a</tspan><tspan x="866.5" style="font-size:35px">)</tspan></text>
<text class="s" y="944.9"><tspan x="837.7" style="font-size:35px">(</tspan><tspan x="849.6" textLength="17.8" lengthAdjust="spacingAndGlyphs" style="font-size:33.0px">b</tspan><tspan x="867.4" style="font-size:35px">)</tspan></text>
</svg>
</body></html>
